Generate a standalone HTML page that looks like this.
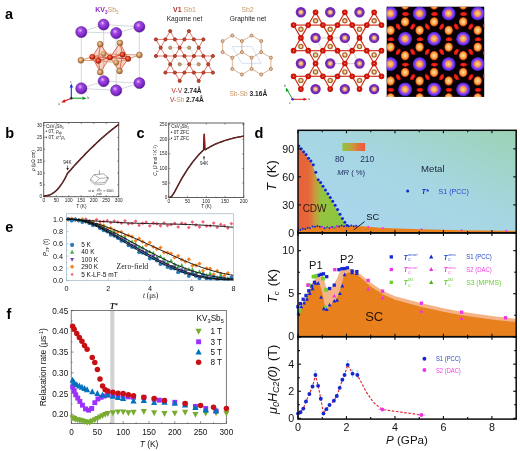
<!DOCTYPE html>
<html lang="en"><head><meta charset="utf-8"><title>Figure</title>
<style>
html,body{margin:0;padding:0;background:#fff;}
body{width:520px;height:451px;overflow:hidden;font-family:"Liberation Sans", "DejaVu Sans", sans-serif;}
svg{display:block;font-family:"Liberation Sans", "DejaVu Sans", sans-serif;filter:blur(0.4px);}
</style></head><body>
<svg width="520" height="451" viewBox="0 0 520 451">
<rect width="520" height="451" fill="#fff"/>
<defs>
<radialGradient id="gK" cx="40%" cy="36%" r="68%"><stop offset="0" stop-color="#e2b8ff"/><stop offset="0.3" stop-color="#a046e2"/><stop offset="0.75" stop-color="#7a26c4"/><stop offset="1" stop-color="#4c1290"/></radialGradient>
<radialGradient id="gSb" cx="40%" cy="38%" r="65%"><stop offset="0" stop-color="#f3d3a6"/><stop offset="0.5" stop-color="#cf9560"/><stop offset="1" stop-color="#9a5f30"/></radialGradient>
<radialGradient id="gV" cx="40%" cy="38%" r="65%"><stop offset="0" stop-color="#ff8a66"/><stop offset="0.5" stop-color="#e03a1c"/><stop offset="1" stop-color="#a01808"/></radialGradient>
<radialGradient id="sK" cx="47%" cy="46%"><stop offset="0" stop-color="#ffe090"/><stop offset="0.25" stop-color="#ffb050"/><stop offset="0.42" stop-color="#f08858"/><stop offset="0.54" stop-color="#a050e8"/><stop offset="0.72" stop-color="#7038f0"/><stop offset="0.88" stop-color="#4a20c0"/><stop offset="1" stop-color="#200860" stop-opacity="0"/></radialGradient>
<radialGradient id="sSb" cx="46%" cy="44%"><stop offset="0" stop-color="#ffe0a0"/><stop offset="0.4" stop-color="#ffb860"/><stop offset="0.62" stop-color="#f89038"/><stop offset="0.78" stop-color="#d85010"/><stop offset="1" stop-color="#500800" stop-opacity="0"/></radialGradient>
<radialGradient id="sV"><stop offset="0" stop-color="#ff3020"/><stop offset="0.6" stop-color="#e01810"/><stop offset="0.85" stop-color="#a00808"/><stop offset="1" stop-color="#400000" stop-opacity="0"/></radialGradient>
<linearGradient id="gMetal" x1="0" y1="1" x2="1" y2="0"><stop offset="0" stop-color="#abd6ef"/><stop offset="0.55" stop-color="#a6d6e2"/><stop offset="1" stop-color="#9bd3b4"/></linearGradient>
<linearGradient id="gCDW" gradientUnits="userSpaceOnUse" x1="298" y1="0" x2="346" y2="0"><stop offset="0" stop-color="#e9603a"/><stop offset="0.22" stop-color="#e4683a"/><stop offset="0.36" stop-color="#c99a3c"/><stop offset="0.48" stop-color="#93c440"/><stop offset="1" stop-color="#8cc63f"/></linearGradient>
<linearGradient id="gBar" x1="0" y1="0" x2="1" y2="0"><stop offset="0" stop-color="#8cc63f"/><stop offset="0.45" stop-color="#c99a3c"/><stop offset="0.8" stop-color="#e8653a"/><stop offset="1" stop-color="#ea5c3a"/></linearGradient>
<clipPath id="clipTop"><rect x="290.5" y="6" width="95" height="87.5"/></clipPath>
<clipPath id="clipSTM"><rect x="386.7" y="6.7" width="97.5" height="90.2"/></clipPath>
<clipPath id="clipE"><rect x="66.5" y="213.75" width="167" height="66.75"/></clipPath>
<clipPath id="clipD"><rect x="297.8" y="130.3" width="218.4" height="102.3"/></clipPath>
<clipPath id="clipTc"><rect x="297.8" y="233" width="218.4" height="103.2"/></clipPath>
<filter id="blur1"><feGaussianBlur stdDeviation="0.6"/></filter>

</defs>
<g id="panel-a">
<text x="5.00" y="19.00" font-size="14.5" fill="#000" text-anchor="start" font-weight="bold" font-style="normal" >a</text>
<text x="95.2" y="12.3" font-size="7.0"><tspan fill="#8a2bc4" font-weight="bold">KV</tspan><tspan fill="#8a2bc4" font-size="4.6" dy="1.6" font-weight="bold">3</tspan><tspan fill="#c89868" dy="-1.6">Sb</tspan><tspan fill="#c89868" font-size="4.6" dy="1.6">5</tspan></text>
<line x1="81.30" y1="32.00" x2="103.60" y2="24.60" stroke="#b4b8c0" stroke-width="0.55" />
<line x1="103.60" y1="24.60" x2="139.40" y2="26.70" stroke="#b4b8c0" stroke-width="0.55" />
<line x1="139.40" y1="26.70" x2="116.20" y2="33.10" stroke="#b4b8c0" stroke-width="0.55" />
<line x1="116.20" y1="33.10" x2="81.30" y2="32.00" stroke="#b4b8c0" stroke-width="0.55" />
<line x1="81.30" y1="88.40" x2="103.60" y2="81.20" stroke="#b4b8c0" stroke-width="0.55" />
<line x1="103.60" y1="81.20" x2="139.40" y2="83.10" stroke="#b4b8c0" stroke-width="0.55" />
<line x1="139.40" y1="83.10" x2="116.20" y2="90.40" stroke="#b4b8c0" stroke-width="0.55" />
<line x1="116.20" y1="90.40" x2="81.30" y2="88.40" stroke="#b4b8c0" stroke-width="0.55" />
<line x1="81.30" y1="32.00" x2="81.30" y2="88.40" stroke="#b4b8c0" stroke-width="0.55" />
<line x1="103.60" y1="24.60" x2="103.60" y2="81.20" stroke="#b4b8c0" stroke-width="0.55" />
<line x1="139.40" y1="26.70" x2="139.40" y2="83.10" stroke="#b4b8c0" stroke-width="0.55" />
<line x1="116.20" y1="33.10" x2="116.20" y2="90.40" stroke="#b4b8c0" stroke-width="0.55" />
<path d="M92.30,56.90 L100.20,44.20 L110.00,57.50 L98.30,60.80 Z" fill="#e8683c" stroke="none" stroke-width="1" fill-opacity="0.28"/>
<path d="M92.30,56.90 L100.20,72.20 L110.00,57.50 L98.30,60.80 Z" fill="#e05a30" stroke="none" stroke-width="1" fill-opacity="0.28"/>
<path d="M110.00,57.50 L120.00,42.90 L128.10,58.80 L122.50,54.60 Z" fill="#e8683c" stroke="none" stroke-width="1" fill-opacity="0.28"/>
<path d="M110.00,57.50 L119.60,71.00 L128.10,58.80 L122.50,54.60 Z" fill="#e05a30" stroke="none" stroke-width="1" fill-opacity="0.28"/>
<line x1="100.20" y1="44.20" x2="92.30" y2="56.90" stroke="#d8502c" stroke-width="0.8" />
<line x1="100.20" y1="44.20" x2="98.30" y2="60.80" stroke="#d8502c" stroke-width="0.8" />
<line x1="100.20" y1="44.20" x2="110.00" y2="57.50" stroke="#d8502c" stroke-width="0.8" />
<line x1="100.20" y1="72.20" x2="92.30" y2="56.90" stroke="#d8502c" stroke-width="0.8" />
<line x1="100.20" y1="72.20" x2="98.30" y2="60.80" stroke="#d8502c" stroke-width="0.8" />
<line x1="100.20" y1="72.20" x2="110.00" y2="57.50" stroke="#d8502c" stroke-width="0.8" />
<line x1="120.00" y1="42.90" x2="110.00" y2="57.50" stroke="#d8502c" stroke-width="0.8" />
<line x1="120.00" y1="42.90" x2="122.50" y2="54.60" stroke="#d8502c" stroke-width="0.8" />
<line x1="120.00" y1="42.90" x2="128.10" y2="58.80" stroke="#d8502c" stroke-width="0.8" />
<line x1="119.60" y1="71.00" x2="110.00" y2="57.50" stroke="#d8502c" stroke-width="0.8" />
<line x1="119.60" y1="71.00" x2="122.50" y2="54.60" stroke="#d8502c" stroke-width="0.8" />
<line x1="119.60" y1="71.00" x2="128.10" y2="58.80" stroke="#d8502c" stroke-width="0.8" />
<line x1="92.30" y1="56.90" x2="98.30" y2="60.80" stroke="#d03a20" stroke-width="0.9" />
<line x1="98.30" y1="60.80" x2="110.00" y2="57.50" stroke="#d03a20" stroke-width="0.9" />
<line x1="92.30" y1="56.90" x2="110.00" y2="57.50" stroke="#d03a20" stroke-width="0.9" />
<line x1="110.00" y1="57.50" x2="122.50" y2="54.60" stroke="#d03a20" stroke-width="0.9" />
<line x1="122.50" y1="54.60" x2="128.10" y2="58.80" stroke="#d03a20" stroke-width="0.9" />
<line x1="110.00" y1="57.50" x2="128.10" y2="58.80" stroke="#d03a20" stroke-width="0.9" />
<line x1="80.90" y1="60.30" x2="92.30" y2="56.90" stroke="#d07a48" stroke-width="0.8" />
<line x1="80.90" y1="60.30" x2="98.30" y2="60.80" stroke="#d07a48" stroke-width="0.8" />
<line x1="139.40" y1="55.00" x2="122.50" y2="54.60" stroke="#d07a48" stroke-width="0.8" />
<line x1="139.40" y1="55.00" x2="128.10" y2="58.80" stroke="#d07a48" stroke-width="0.8" />
<line x1="103.60" y1="53.70" x2="92.30" y2="56.90" stroke="#d07a48" stroke-width="0.7" />
<line x1="103.60" y1="53.70" x2="122.50" y2="54.60" stroke="#d07a48" stroke-width="0.7" />
<line x1="116.20" y1="62.50" x2="98.30" y2="60.80" stroke="#d07a48" stroke-width="0.7" />
<line x1="116.20" y1="62.50" x2="128.10" y2="58.80" stroke="#d07a48" stroke-width="0.7" />
<circle cx="103.60" cy="24.60" r="5.5" fill="url(#gK)" stroke="#4a1288" stroke-width="0.5" />
<circle cx="139.40" cy="26.70" r="5.5" fill="url(#gK)" stroke="#4a1288" stroke-width="0.5" />
<circle cx="103.60" cy="81.20" r="5.5" fill="url(#gK)" stroke="#4a1288" stroke-width="0.5" />
<circle cx="139.40" cy="83.10" r="5.5" fill="url(#gK)" stroke="#4a1288" stroke-width="0.5" />
<circle cx="103.60" cy="53.70" r="2.8" fill="url(#gSb)" stroke="none" stroke-width="0" />
<circle cx="100.20" cy="44.20" r="2.9" fill="url(#gSb)" stroke="#7a4a20" stroke-width="0.4" />
<circle cx="120.00" cy="42.90" r="2.9" fill="url(#gSb)" stroke="#7a4a20" stroke-width="0.4" />
<circle cx="100.20" cy="72.20" r="2.9" fill="url(#gSb)" stroke="#7a4a20" stroke-width="0.4" />
<circle cx="119.60" cy="71.00" r="2.9" fill="url(#gSb)" stroke="#7a4a20" stroke-width="0.4" />
<circle cx="116.20" cy="62.50" r="2.9" fill="url(#gSb)" stroke="none" stroke-width="0" />
<circle cx="92.30" cy="56.90" r="2.7" fill="url(#gV)" stroke="#8a1408" stroke-width="0.45" />
<circle cx="98.30" cy="60.80" r="2.7" fill="url(#gV)" stroke="#8a1408" stroke-width="0.45" />
<circle cx="110.00" cy="57.50" r="2.7" fill="url(#gV)" stroke="#8a1408" stroke-width="0.45" />
<circle cx="122.50" cy="54.60" r="2.7" fill="url(#gV)" stroke="#8a1408" stroke-width="0.45" />
<circle cx="128.10" cy="58.80" r="2.7" fill="url(#gV)" stroke="#8a1408" stroke-width="0.45" />
<circle cx="80.90" cy="60.30" r="3.0" fill="url(#gSb)" stroke="#7a4a20" stroke-width="0.4" />
<circle cx="139.40" cy="55.00" r="3.0" fill="url(#gSb)" stroke="#7a4a20" stroke-width="0.4" />
<circle cx="81.30" cy="32.00" r="5.6" fill="url(#gK)" stroke="#4a1288" stroke-width="0.5" />
<circle cx="116.20" cy="33.10" r="5.6" fill="url(#gK)" stroke="#4a1288" stroke-width="0.5" />
<circle cx="81.30" cy="88.40" r="5.6" fill="url(#gK)" stroke="#4a1288" stroke-width="0.5" />
<circle cx="116.20" cy="90.40" r="5.6" fill="url(#gK)" stroke="#4a1288" stroke-width="0.5" />
<line x1="71.30" y1="98.20" x2="71.30" y2="86.50" stroke="#1030e0" stroke-width="1.1" />
<path d="M71.30,83.60 L69.60,87.60 L73.00,87.60 Z" fill="#1030e0" stroke="none" stroke-width="1" />
<line x1="71.30" y1="98.20" x2="83.50" y2="98.20" stroke="#10a020" stroke-width="1.1" />
<path d="M86.60,98.20 L82.60,96.50 L82.60,99.90 Z" fill="#10a020" stroke="none" stroke-width="1" />
<line x1="71.30" y1="98.20" x2="64.00" y2="101.20" stroke="#e01010" stroke-width="1.1" />
<path d="M61.20,102.40 L65.60,102.40 L64.40,99.20 Z" fill="#e01010" stroke="none" stroke-width="1" />
<circle cx="71.30" cy="98.20" r="1.2" fill="#222" stroke="none" stroke-width="0" />
<text x="70.30" y="82.50" font-size="3.2" fill="#444" text-anchor="start" font-weight="normal" font-style="normal" >c</text>
<text x="87.40" y="99.30" font-size="3.2" fill="#444" text-anchor="start" font-weight="normal" font-style="normal" >b</text>
<text x="58.20" y="104.50" font-size="3.2" fill="#444" text-anchor="start" font-weight="normal" font-style="normal" >a</text>
<text x="184.5" y="12.3" font-size="7" text-anchor="middle"><tspan fill="#b82a20" font-weight="bold">V1 </tspan><tspan fill="#c89868">Sb1</tspan></text>
<text x="184.50" y="21.30" font-size="6.6" fill="#222" text-anchor="middle" font-weight="normal" font-style="normal" >Kagome net</text>
<line x1="170.20" y1="31.10" x2="165.40" y2="39.40" stroke="#d0533a" stroke-width="0.75" />
<line x1="170.20" y1="31.10" x2="174.90" y2="39.40" stroke="#d0533a" stroke-width="0.75" />
<line x1="188.90" y1="31.10" x2="184.40" y2="39.40" stroke="#d0533a" stroke-width="0.75" />
<line x1="188.90" y1="31.10" x2="193.90" y2="39.40" stroke="#d0533a" stroke-width="0.75" />
<line x1="155.90" y1="39.40" x2="165.40" y2="39.40" stroke="#d0533a" stroke-width="0.75" />
<line x1="155.90" y1="39.40" x2="160.70" y2="47.70" stroke="#d0533a" stroke-width="0.75" />
<line x1="165.40" y1="39.40" x2="174.90" y2="39.40" stroke="#d0533a" stroke-width="0.75" />
<line x1="165.40" y1="39.40" x2="160.70" y2="47.70" stroke="#d0533a" stroke-width="0.75" />
<line x1="174.90" y1="39.40" x2="184.40" y2="39.40" stroke="#d0533a" stroke-width="0.75" />
<line x1="174.90" y1="39.40" x2="179.70" y2="47.70" stroke="#d0533a" stroke-width="0.75" />
<line x1="184.40" y1="39.40" x2="193.90" y2="39.40" stroke="#d0533a" stroke-width="0.75" />
<line x1="184.40" y1="39.40" x2="179.70" y2="47.70" stroke="#d0533a" stroke-width="0.75" />
<line x1="193.90" y1="39.40" x2="203.40" y2="39.40" stroke="#d0533a" stroke-width="0.75" />
<line x1="193.90" y1="39.40" x2="198.70" y2="47.70" stroke="#d0533a" stroke-width="0.75" />
<line x1="203.40" y1="39.40" x2="198.70" y2="47.70" stroke="#d0533a" stroke-width="0.75" />
<line x1="160.70" y1="47.70" x2="155.90" y2="56.00" stroke="#d0533a" stroke-width="0.75" />
<line x1="160.70" y1="47.70" x2="165.40" y2="56.00" stroke="#d0533a" stroke-width="0.75" />
<line x1="179.70" y1="47.70" x2="174.90" y2="56.00" stroke="#d0533a" stroke-width="0.75" />
<line x1="179.70" y1="47.70" x2="184.40" y2="56.00" stroke="#d0533a" stroke-width="0.75" />
<line x1="198.70" y1="47.70" x2="193.90" y2="56.00" stroke="#d0533a" stroke-width="0.75" />
<line x1="198.70" y1="47.70" x2="203.40" y2="56.00" stroke="#d0533a" stroke-width="0.75" />
<line x1="155.90" y1="56.00" x2="165.40" y2="56.00" stroke="#d0533a" stroke-width="0.75" />
<line x1="165.40" y1="56.00" x2="174.90" y2="56.00" stroke="#d0533a" stroke-width="0.75" />
<line x1="165.40" y1="56.00" x2="170.20" y2="64.30" stroke="#d0533a" stroke-width="0.75" />
<line x1="174.90" y1="56.00" x2="184.40" y2="56.00" stroke="#d0533a" stroke-width="0.75" />
<line x1="174.90" y1="56.00" x2="170.20" y2="64.30" stroke="#d0533a" stroke-width="0.75" />
<line x1="184.40" y1="56.00" x2="193.90" y2="56.00" stroke="#d0533a" stroke-width="0.75" />
<line x1="184.40" y1="56.00" x2="189.20" y2="64.30" stroke="#d0533a" stroke-width="0.75" />
<line x1="193.90" y1="56.00" x2="203.40" y2="56.00" stroke="#d0533a" stroke-width="0.75" />
<line x1="193.90" y1="56.00" x2="189.20" y2="64.30" stroke="#d0533a" stroke-width="0.75" />
<line x1="203.40" y1="56.00" x2="212.90" y2="56.00" stroke="#d0533a" stroke-width="0.75" />
<line x1="203.40" y1="56.00" x2="208.20" y2="64.30" stroke="#d0533a" stroke-width="0.75" />
<line x1="212.90" y1="56.00" x2="208.20" y2="64.30" stroke="#d0533a" stroke-width="0.75" />
<line x1="170.20" y1="64.30" x2="165.40" y2="72.60" stroke="#d0533a" stroke-width="0.75" />
<line x1="170.20" y1="64.30" x2="174.90" y2="72.60" stroke="#d0533a" stroke-width="0.75" />
<line x1="189.20" y1="64.30" x2="184.40" y2="72.60" stroke="#d0533a" stroke-width="0.75" />
<line x1="189.20" y1="64.30" x2="193.90" y2="72.60" stroke="#d0533a" stroke-width="0.75" />
<line x1="208.20" y1="64.30" x2="203.40" y2="72.60" stroke="#d0533a" stroke-width="0.75" />
<line x1="208.20" y1="64.30" x2="212.90" y2="72.60" stroke="#d0533a" stroke-width="0.75" />
<line x1="165.40" y1="72.60" x2="174.90" y2="72.60" stroke="#d0533a" stroke-width="0.75" />
<line x1="174.90" y1="72.60" x2="184.40" y2="72.60" stroke="#d0533a" stroke-width="0.75" />
<line x1="174.90" y1="72.60" x2="179.70" y2="80.90" stroke="#d0533a" stroke-width="0.75" />
<line x1="184.40" y1="72.60" x2="193.90" y2="72.60" stroke="#d0533a" stroke-width="0.75" />
<line x1="184.40" y1="72.60" x2="179.70" y2="80.90" stroke="#d0533a" stroke-width="0.75" />
<line x1="193.90" y1="72.60" x2="203.40" y2="72.60" stroke="#d0533a" stroke-width="0.75" />
<line x1="193.90" y1="72.60" x2="198.70" y2="80.90" stroke="#d0533a" stroke-width="0.75" />
<line x1="203.40" y1="72.60" x2="212.90" y2="72.60" stroke="#d0533a" stroke-width="0.75" />
<line x1="203.40" y1="72.60" x2="198.70" y2="80.90" stroke="#d0533a" stroke-width="0.75" />
<path d="M170.20,47.70 L189.20,47.70 L198.70,64.30 L179.70,64.30 Z" fill="none" stroke="#c8c0b8" stroke-width="0.4" />
<circle cx="170.20" cy="31.10" r="1.6" fill="#c8442e" stroke="#96261a" stroke-width="0.75" />
<circle cx="188.90" cy="31.10" r="1.6" fill="#c8442e" stroke="#96261a" stroke-width="0.75" />
<circle cx="155.90" cy="39.40" r="1.6" fill="#c8442e" stroke="#96261a" stroke-width="0.75" />
<circle cx="165.40" cy="39.40" r="1.6" fill="#c8442e" stroke="#96261a" stroke-width="0.75" />
<circle cx="174.90" cy="39.40" r="1.6" fill="#c8442e" stroke="#96261a" stroke-width="0.75" />
<circle cx="184.40" cy="39.40" r="1.6" fill="#c8442e" stroke="#96261a" stroke-width="0.75" />
<circle cx="193.90" cy="39.40" r="1.6" fill="#c8442e" stroke="#96261a" stroke-width="0.75" />
<circle cx="203.40" cy="39.40" r="1.6" fill="#c8442e" stroke="#96261a" stroke-width="0.75" />
<circle cx="160.70" cy="47.70" r="1.6" fill="#c8442e" stroke="#96261a" stroke-width="0.75" />
<circle cx="179.70" cy="47.70" r="1.6" fill="#c8442e" stroke="#96261a" stroke-width="0.75" />
<circle cx="198.70" cy="47.70" r="1.6" fill="#c8442e" stroke="#96261a" stroke-width="0.75" />
<circle cx="155.90" cy="56.00" r="1.6" fill="#c8442e" stroke="#96261a" stroke-width="0.75" />
<circle cx="165.40" cy="56.00" r="1.6" fill="#c8442e" stroke="#96261a" stroke-width="0.75" />
<circle cx="174.90" cy="56.00" r="1.6" fill="#c8442e" stroke="#96261a" stroke-width="0.75" />
<circle cx="184.40" cy="56.00" r="1.6" fill="#c8442e" stroke="#96261a" stroke-width="0.75" />
<circle cx="193.90" cy="56.00" r="1.6" fill="#c8442e" stroke="#96261a" stroke-width="0.75" />
<circle cx="203.40" cy="56.00" r="1.6" fill="#c8442e" stroke="#96261a" stroke-width="0.75" />
<circle cx="212.90" cy="56.00" r="1.6" fill="#c8442e" stroke="#96261a" stroke-width="0.75" />
<circle cx="170.20" cy="64.30" r="1.6" fill="#c8442e" stroke="#96261a" stroke-width="0.75" />
<circle cx="189.20" cy="64.30" r="1.6" fill="#c8442e" stroke="#96261a" stroke-width="0.75" />
<circle cx="208.20" cy="64.30" r="1.6" fill="#c8442e" stroke="#96261a" stroke-width="0.75" />
<circle cx="165.40" cy="72.60" r="1.6" fill="#c8442e" stroke="#96261a" stroke-width="0.75" />
<circle cx="174.90" cy="72.60" r="1.6" fill="#c8442e" stroke="#96261a" stroke-width="0.75" />
<circle cx="184.40" cy="72.60" r="1.6" fill="#c8442e" stroke="#96261a" stroke-width="0.75" />
<circle cx="193.90" cy="72.60" r="1.6" fill="#c8442e" stroke="#96261a" stroke-width="0.75" />
<circle cx="203.40" cy="72.60" r="1.6" fill="#c8442e" stroke="#96261a" stroke-width="0.75" />
<circle cx="212.90" cy="72.60" r="1.6" fill="#c8442e" stroke="#96261a" stroke-width="0.75" />
<circle cx="179.70" cy="80.90" r="1.6" fill="#c8442e" stroke="#96261a" stroke-width="0.75" />
<circle cx="198.70" cy="80.90" r="1.6" fill="#c8442e" stroke="#96261a" stroke-width="0.75" />
<circle cx="170.20" cy="47.70" r="1.55" fill="#cfa878" stroke="#8a6236" stroke-width="0.75" />
<circle cx="189.20" cy="47.70" r="1.55" fill="#cfa878" stroke="#8a6236" stroke-width="0.75" />
<circle cx="179.70" cy="64.30" r="1.55" fill="#cfa878" stroke="#8a6236" stroke-width="0.75" />
<circle cx="198.70" cy="64.30" r="1.55" fill="#cfa878" stroke="#8a6236" stroke-width="0.75" />
<text x="186.6" y="93.2" font-size="6.6" text-anchor="middle"><tspan fill="#b82a20">V-V</tspan><tspan fill="#222" font-weight="bold"> 2.74Å</tspan></text>
<text x="186.8" y="101.9" font-size="6.6" text-anchor="middle"><tspan fill="#b82a20">V-</tspan><tspan fill="#c89868">Sb</tspan><tspan fill="#222" font-weight="bold"> 2.74Å</tspan></text>
<text x="247.50" y="12.30" font-size="7" fill="#c89868" text-anchor="middle" font-weight="normal" font-style="normal" >Sb2</text>
<text x="248.00" y="21.30" font-size="6.6" fill="#222" text-anchor="middle" font-weight="normal" font-style="normal" >Graphite net</text>
<path d="M232.30,46.60 L251.60,46.60 L261.20,63.30 L241.90,63.30 Z" fill="none" stroke="#b8cde4" stroke-width="0.6" />
<line x1="232.30" y1="35.50" x2="222.60" y2="41.10" stroke="#cf9a70" stroke-width="0.75" />
<line x1="232.30" y1="35.50" x2="241.90" y2="41.10" stroke="#cf9a70" stroke-width="0.75" />
<line x1="251.60" y1="35.50" x2="241.90" y2="41.10" stroke="#cf9a70" stroke-width="0.75" />
<line x1="251.60" y1="35.50" x2="261.20" y2="41.10" stroke="#cf9a70" stroke-width="0.75" />
<line x1="222.60" y1="41.10" x2="222.60" y2="52.10" stroke="#cf9a70" stroke-width="0.75" />
<line x1="241.90" y1="41.10" x2="241.90" y2="52.10" stroke="#cf9a70" stroke-width="0.75" />
<line x1="261.20" y1="41.10" x2="261.20" y2="52.10" stroke="#cf9a70" stroke-width="0.75" />
<line x1="222.60" y1="52.10" x2="232.30" y2="57.70" stroke="#cf9a70" stroke-width="0.75" />
<line x1="241.90" y1="52.10" x2="232.30" y2="57.70" stroke="#cf9a70" stroke-width="0.75" />
<line x1="241.90" y1="52.10" x2="251.60" y2="57.70" stroke="#cf9a70" stroke-width="0.75" />
<line x1="261.20" y1="52.10" x2="251.60" y2="57.70" stroke="#cf9a70" stroke-width="0.75" />
<line x1="261.20" y1="52.10" x2="270.90" y2="57.70" stroke="#cf9a70" stroke-width="0.75" />
<line x1="232.30" y1="57.70" x2="232.30" y2="68.90" stroke="#cf9a70" stroke-width="0.75" />
<line x1="251.60" y1="57.70" x2="251.60" y2="68.90" stroke="#cf9a70" stroke-width="0.75" />
<line x1="270.90" y1="57.70" x2="270.90" y2="68.90" stroke="#cf9a70" stroke-width="0.75" />
<line x1="232.30" y1="68.90" x2="241.90" y2="74.50" stroke="#cf9a70" stroke-width="0.75" />
<line x1="251.60" y1="68.90" x2="241.90" y2="74.50" stroke="#cf9a70" stroke-width="0.75" />
<line x1="251.60" y1="68.90" x2="261.20" y2="74.50" stroke="#cf9a70" stroke-width="0.75" />
<line x1="270.90" y1="68.90" x2="261.20" y2="74.50" stroke="#cf9a70" stroke-width="0.75" />
<circle cx="232.30" cy="35.50" r="1.5" fill="#e8cdb0" stroke="#ae7448" stroke-width="0.85" />
<circle cx="251.60" cy="35.50" r="1.5" fill="#e8cdb0" stroke="#ae7448" stroke-width="0.85" />
<circle cx="222.60" cy="41.10" r="1.5" fill="#e8cdb0" stroke="#ae7448" stroke-width="0.85" />
<circle cx="241.90" cy="41.10" r="1.5" fill="#e8cdb0" stroke="#ae7448" stroke-width="0.85" />
<circle cx="261.20" cy="41.10" r="1.5" fill="#e8cdb0" stroke="#ae7448" stroke-width="0.85" />
<circle cx="222.60" cy="52.10" r="1.5" fill="#e8cdb0" stroke="#ae7448" stroke-width="0.85" />
<circle cx="241.90" cy="52.10" r="1.5" fill="#e8cdb0" stroke="#ae7448" stroke-width="0.85" />
<circle cx="261.20" cy="52.10" r="1.5" fill="#e8cdb0" stroke="#ae7448" stroke-width="0.85" />
<circle cx="232.30" cy="57.70" r="1.5" fill="#e8cdb0" stroke="#ae7448" stroke-width="0.85" />
<circle cx="251.60" cy="57.70" r="1.5" fill="#e8cdb0" stroke="#ae7448" stroke-width="0.85" />
<circle cx="270.90" cy="57.70" r="1.5" fill="#e8cdb0" stroke="#ae7448" stroke-width="0.85" />
<circle cx="232.30" cy="68.90" r="1.5" fill="#e8cdb0" stroke="#ae7448" stroke-width="0.85" />
<circle cx="251.60" cy="68.90" r="1.5" fill="#e8cdb0" stroke="#ae7448" stroke-width="0.85" />
<circle cx="270.90" cy="68.90" r="1.5" fill="#e8cdb0" stroke="#ae7448" stroke-width="0.85" />
<circle cx="241.90" cy="74.50" r="1.5" fill="#e8cdb0" stroke="#ae7448" stroke-width="0.85" />
<circle cx="261.20" cy="74.50" r="1.5" fill="#e8cdb0" stroke="#ae7448" stroke-width="0.85" />
<text x="248.3" y="96.4" font-size="6.6" text-anchor="middle"><tspan fill="#c89868">Sb-Sb</tspan><tspan fill="#222" font-weight="bold"> 3.16Å</tspan></text>
<path d="M315.55,37.90 L344.85,37.90 L359.50,63.50 L330.20,63.50 Z" fill="none" stroke="#9a9a9a" stroke-width="0.45" />
<line x1="293.57" y1="25.10" x2="300.90" y2="37.90" stroke="#d02c14" stroke-width="1.15" />
<line x1="293.57" y1="25.10" x2="308.22" y2="25.10" stroke="#d02c14" stroke-width="1.15" />
<line x1="293.57" y1="50.70" x2="300.90" y2="37.90" stroke="#d02c14" stroke-width="1.15" />
<line x1="293.57" y1="50.70" x2="308.22" y2="50.70" stroke="#d02c14" stroke-width="1.15" />
<line x1="293.57" y1="76.30" x2="300.90" y2="89.10" stroke="#d02c14" stroke-width="1.15" />
<line x1="293.57" y1="76.30" x2="308.22" y2="76.30" stroke="#d02c14" stroke-width="1.15" />
<line x1="300.90" y1="37.90" x2="308.22" y2="25.10" stroke="#d02c14" stroke-width="1.15" />
<line x1="300.90" y1="37.90" x2="308.22" y2="50.70" stroke="#d02c14" stroke-width="1.15" />
<line x1="300.90" y1="89.10" x2="308.22" y2="76.30" stroke="#d02c14" stroke-width="1.15" />
<line x1="308.22" y1="25.10" x2="315.55" y2="12.30" stroke="#d02c14" stroke-width="1.15" />
<line x1="308.22" y1="25.10" x2="322.88" y2="25.10" stroke="#d02c14" stroke-width="1.15" />
<line x1="308.22" y1="50.70" x2="315.55" y2="63.50" stroke="#d02c14" stroke-width="1.15" />
<line x1="308.22" y1="50.70" x2="322.87" y2="50.70" stroke="#d02c14" stroke-width="1.15" />
<line x1="308.22" y1="76.30" x2="315.55" y2="63.50" stroke="#d02c14" stroke-width="1.15" />
<line x1="308.22" y1="76.30" x2="322.88" y2="76.30" stroke="#d02c14" stroke-width="1.15" />
<line x1="315.55" y1="12.30" x2="322.88" y2="25.10" stroke="#d02c14" stroke-width="1.15" />
<line x1="315.55" y1="63.50" x2="322.87" y2="50.70" stroke="#d02c14" stroke-width="1.15" />
<line x1="315.55" y1="63.50" x2="322.88" y2="76.30" stroke="#d02c14" stroke-width="1.15" />
<line x1="322.87" y1="50.70" x2="330.20" y2="37.90" stroke="#d02c14" stroke-width="1.15" />
<line x1="322.87" y1="50.70" x2="337.52" y2="50.70" stroke="#d02c14" stroke-width="1.15" />
<line x1="322.88" y1="25.10" x2="330.20" y2="37.90" stroke="#d02c14" stroke-width="1.15" />
<line x1="322.88" y1="25.10" x2="337.52" y2="25.10" stroke="#d02c14" stroke-width="1.15" />
<line x1="322.88" y1="76.30" x2="330.20" y2="89.10" stroke="#d02c14" stroke-width="1.15" />
<line x1="322.88" y1="76.30" x2="337.52" y2="76.30" stroke="#d02c14" stroke-width="1.15" />
<line x1="330.20" y1="37.90" x2="337.52" y2="25.10" stroke="#d02c14" stroke-width="1.15" />
<line x1="330.20" y1="37.90" x2="337.52" y2="50.70" stroke="#d02c14" stroke-width="1.15" />
<line x1="330.20" y1="89.10" x2="337.52" y2="76.30" stroke="#d02c14" stroke-width="1.15" />
<line x1="337.52" y1="25.10" x2="344.85" y2="12.30" stroke="#d02c14" stroke-width="1.15" />
<line x1="337.52" y1="25.10" x2="352.18" y2="25.10" stroke="#d02c14" stroke-width="1.15" />
<line x1="337.52" y1="50.70" x2="344.85" y2="63.50" stroke="#d02c14" stroke-width="1.15" />
<line x1="337.52" y1="50.70" x2="352.17" y2="50.70" stroke="#d02c14" stroke-width="1.15" />
<line x1="337.52" y1="76.30" x2="344.85" y2="63.50" stroke="#d02c14" stroke-width="1.15" />
<line x1="337.52" y1="76.30" x2="352.18" y2="76.30" stroke="#d02c14" stroke-width="1.15" />
<line x1="344.85" y1="12.30" x2="352.18" y2="25.10" stroke="#d02c14" stroke-width="1.15" />
<line x1="344.85" y1="63.50" x2="352.17" y2="50.70" stroke="#d02c14" stroke-width="1.15" />
<line x1="344.85" y1="63.50" x2="352.18" y2="76.30" stroke="#d02c14" stroke-width="1.15" />
<line x1="352.17" y1="50.70" x2="359.50" y2="37.90" stroke="#d02c14" stroke-width="1.15" />
<line x1="352.17" y1="50.70" x2="366.82" y2="50.70" stroke="#d02c14" stroke-width="1.15" />
<line x1="352.18" y1="25.10" x2="359.50" y2="37.90" stroke="#d02c14" stroke-width="1.15" />
<line x1="352.18" y1="25.10" x2="366.82" y2="25.10" stroke="#d02c14" stroke-width="1.15" />
<line x1="352.18" y1="76.30" x2="359.50" y2="89.10" stroke="#d02c14" stroke-width="1.15" />
<line x1="352.18" y1="76.30" x2="366.82" y2="76.30" stroke="#d02c14" stroke-width="1.15" />
<line x1="359.50" y1="37.90" x2="366.82" y2="25.10" stroke="#d02c14" stroke-width="1.15" />
<line x1="359.50" y1="37.90" x2="366.82" y2="50.70" stroke="#d02c14" stroke-width="1.15" />
<line x1="359.50" y1="89.10" x2="366.82" y2="76.30" stroke="#d02c14" stroke-width="1.15" />
<line x1="366.82" y1="25.10" x2="374.15" y2="12.30" stroke="#d02c14" stroke-width="1.15" />
<line x1="366.82" y1="25.10" x2="381.47" y2="25.10" stroke="#d02c14" stroke-width="1.15" />
<line x1="366.82" y1="50.70" x2="374.15" y2="63.50" stroke="#d02c14" stroke-width="1.15" />
<line x1="366.82" y1="50.70" x2="381.47" y2="50.70" stroke="#d02c14" stroke-width="1.15" />
<line x1="366.82" y1="76.30" x2="374.15" y2="63.50" stroke="#d02c14" stroke-width="1.15" />
<line x1="366.82" y1="76.30" x2="381.47" y2="76.30" stroke="#d02c14" stroke-width="1.15" />
<line x1="374.15" y1="12.30" x2="381.47" y2="25.10" stroke="#d02c14" stroke-width="1.15" />
<line x1="374.15" y1="63.50" x2="381.47" y2="50.70" stroke="#d02c14" stroke-width="1.15" />
<line x1="374.15" y1="63.50" x2="381.47" y2="76.30" stroke="#d02c14" stroke-width="1.15" />
<circle cx="300.90" cy="29.37" r="2.1" fill="#f4deb4" stroke="#a8682c" stroke-width="1.3" />
<circle cx="300.90" cy="46.43" r="2.1" fill="#f4deb4" stroke="#a8682c" stroke-width="1.3" />
<circle cx="300.90" cy="80.57" r="2.1" fill="#f4deb4" stroke="#a8682c" stroke-width="1.3" />
<circle cx="315.55" cy="20.83" r="2.1" fill="#f4deb4" stroke="#a8682c" stroke-width="1.3" />
<circle cx="315.55" cy="54.97" r="2.1" fill="#f4deb4" stroke="#a8682c" stroke-width="1.3" />
<circle cx="315.55" cy="72.03" r="2.1" fill="#f4deb4" stroke="#a8682c" stroke-width="1.3" />
<circle cx="330.20" cy="29.37" r="2.1" fill="#f4deb4" stroke="#a8682c" stroke-width="1.3" />
<circle cx="330.20" cy="46.43" r="2.1" fill="#f4deb4" stroke="#a8682c" stroke-width="1.3" />
<circle cx="330.20" cy="80.57" r="2.1" fill="#f4deb4" stroke="#a8682c" stroke-width="1.3" />
<circle cx="344.85" cy="20.83" r="2.1" fill="#f4deb4" stroke="#a8682c" stroke-width="1.3" />
<circle cx="344.85" cy="54.97" r="2.1" fill="#f4deb4" stroke="#a8682c" stroke-width="1.3" />
<circle cx="344.85" cy="72.03" r="2.1" fill="#f4deb4" stroke="#a8682c" stroke-width="1.3" />
<circle cx="359.50" cy="29.37" r="2.1" fill="#f4deb4" stroke="#a8682c" stroke-width="1.3" />
<circle cx="359.50" cy="46.43" r="2.1" fill="#f4deb4" stroke="#a8682c" stroke-width="1.3" />
<circle cx="359.50" cy="80.57" r="2.1" fill="#f4deb4" stroke="#a8682c" stroke-width="1.3" />
<circle cx="374.15" cy="20.83" r="2.1" fill="#f4deb4" stroke="#a8682c" stroke-width="1.3" />
<circle cx="374.15" cy="54.97" r="2.1" fill="#f4deb4" stroke="#a8682c" stroke-width="1.3" />
<circle cx="374.15" cy="72.03" r="2.1" fill="#f4deb4" stroke="#a8682c" stroke-width="1.3" />
<circle cx="293.57" cy="25.10" r="1.8" fill="#f08070" stroke="#cc1408" stroke-width="2.1" />
<circle cx="293.57" cy="50.70" r="1.8" fill="#f08070" stroke="#cc1408" stroke-width="2.1" />
<circle cx="293.57" cy="76.30" r="1.8" fill="#f08070" stroke="#cc1408" stroke-width="2.1" />
<circle cx="300.90" cy="37.90" r="1.8" fill="#f08070" stroke="#cc1408" stroke-width="2.1" />
<circle cx="300.90" cy="89.10" r="1.8" fill="#f08070" stroke="#cc1408" stroke-width="2.1" />
<circle cx="308.22" cy="25.10" r="1.8" fill="#f08070" stroke="#cc1408" stroke-width="2.1" />
<circle cx="308.22" cy="50.70" r="1.8" fill="#f08070" stroke="#cc1408" stroke-width="2.1" />
<circle cx="308.22" cy="76.30" r="1.8" fill="#f08070" stroke="#cc1408" stroke-width="2.1" />
<circle cx="315.55" cy="12.30" r="1.8" fill="#f08070" stroke="#cc1408" stroke-width="2.1" />
<circle cx="315.55" cy="63.50" r="1.8" fill="#f08070" stroke="#cc1408" stroke-width="2.1" />
<circle cx="322.87" cy="50.70" r="1.8" fill="#f08070" stroke="#cc1408" stroke-width="2.1" />
<circle cx="322.88" cy="25.10" r="1.8" fill="#f08070" stroke="#cc1408" stroke-width="2.1" />
<circle cx="322.88" cy="76.30" r="1.8" fill="#f08070" stroke="#cc1408" stroke-width="2.1" />
<circle cx="330.20" cy="37.90" r="1.8" fill="#f08070" stroke="#cc1408" stroke-width="2.1" />
<circle cx="330.20" cy="89.10" r="1.8" fill="#f08070" stroke="#cc1408" stroke-width="2.1" />
<circle cx="337.52" cy="25.10" r="1.8" fill="#f08070" stroke="#cc1408" stroke-width="2.1" />
<circle cx="337.52" cy="50.70" r="1.8" fill="#f08070" stroke="#cc1408" stroke-width="2.1" />
<circle cx="337.52" cy="76.30" r="1.8" fill="#f08070" stroke="#cc1408" stroke-width="2.1" />
<circle cx="344.85" cy="12.30" r="1.8" fill="#f08070" stroke="#cc1408" stroke-width="2.1" />
<circle cx="344.85" cy="63.50" r="1.8" fill="#f08070" stroke="#cc1408" stroke-width="2.1" />
<circle cx="352.17" cy="50.70" r="1.8" fill="#f08070" stroke="#cc1408" stroke-width="2.1" />
<circle cx="352.18" cy="25.10" r="1.8" fill="#f08070" stroke="#cc1408" stroke-width="2.1" />
<circle cx="352.18" cy="76.30" r="1.8" fill="#f08070" stroke="#cc1408" stroke-width="2.1" />
<circle cx="359.50" cy="37.90" r="1.8" fill="#f08070" stroke="#cc1408" stroke-width="2.1" />
<circle cx="359.50" cy="89.10" r="1.8" fill="#f08070" stroke="#cc1408" stroke-width="2.1" />
<circle cx="366.82" cy="25.10" r="1.8" fill="#f08070" stroke="#cc1408" stroke-width="2.1" />
<circle cx="366.82" cy="50.70" r="1.8" fill="#f08070" stroke="#cc1408" stroke-width="2.1" />
<circle cx="366.82" cy="76.30" r="1.8" fill="#f08070" stroke="#cc1408" stroke-width="2.1" />
<circle cx="374.15" cy="12.30" r="1.8" fill="#f08070" stroke="#cc1408" stroke-width="2.1" />
<circle cx="374.15" cy="63.50" r="1.8" fill="#f08070" stroke="#cc1408" stroke-width="2.1" />
<circle cx="381.47" cy="25.10" r="1.8" fill="#f08070" stroke="#cc1408" stroke-width="2.1" />
<circle cx="381.47" cy="50.70" r="1.8" fill="#f08070" stroke="#cc1408" stroke-width="2.1" />
<circle cx="381.47" cy="76.30" r="1.8" fill="#f08070" stroke="#cc1408" stroke-width="2.1" />
<circle cx="300.90" cy="12.30" r="5.2" fill="#7226ba" stroke="none" stroke-width="0" />
<circle cx="300.90" cy="12.30" r="2.9" fill="#b06a8c" stroke="none" stroke-width="0" />
<circle cx="300.90" cy="12.30" r="2.2" fill="#e0a070" stroke="none" stroke-width="0" />
<circle cx="300.90" cy="12.30" r="1.3" fill="#ffd8a0" stroke="none" stroke-width="0" />
<circle cx="330.20" cy="12.30" r="5.2" fill="#7226ba" stroke="none" stroke-width="0" />
<circle cx="330.20" cy="12.30" r="2.9" fill="#b06a8c" stroke="none" stroke-width="0" />
<circle cx="330.20" cy="12.30" r="2.2" fill="#e0a070" stroke="none" stroke-width="0" />
<circle cx="330.20" cy="12.30" r="1.3" fill="#ffd8a0" stroke="none" stroke-width="0" />
<circle cx="359.50" cy="12.30" r="5.2" fill="#7226ba" stroke="none" stroke-width="0" />
<circle cx="359.50" cy="12.30" r="2.9" fill="#b06a8c" stroke="none" stroke-width="0" />
<circle cx="359.50" cy="12.30" r="2.2" fill="#e0a070" stroke="none" stroke-width="0" />
<circle cx="359.50" cy="12.30" r="1.3" fill="#ffd8a0" stroke="none" stroke-width="0" />
<circle cx="315.55" cy="37.90" r="5.2" fill="#7226ba" stroke="none" stroke-width="0" />
<circle cx="315.55" cy="37.90" r="2.9" fill="#b06a8c" stroke="none" stroke-width="0" />
<circle cx="315.55" cy="37.90" r="2.2" fill="#e0a070" stroke="none" stroke-width="0" />
<circle cx="315.55" cy="37.90" r="1.3" fill="#ffd8a0" stroke="none" stroke-width="0" />
<circle cx="344.85" cy="37.90" r="5.2" fill="#7226ba" stroke="none" stroke-width="0" />
<circle cx="344.85" cy="37.90" r="2.9" fill="#b06a8c" stroke="none" stroke-width="0" />
<circle cx="344.85" cy="37.90" r="2.2" fill="#e0a070" stroke="none" stroke-width="0" />
<circle cx="344.85" cy="37.90" r="1.3" fill="#ffd8a0" stroke="none" stroke-width="0" />
<circle cx="374.15" cy="37.90" r="5.2" fill="#7226ba" stroke="none" stroke-width="0" />
<circle cx="374.15" cy="37.90" r="2.9" fill="#b06a8c" stroke="none" stroke-width="0" />
<circle cx="374.15" cy="37.90" r="2.2" fill="#e0a070" stroke="none" stroke-width="0" />
<circle cx="374.15" cy="37.90" r="1.3" fill="#ffd8a0" stroke="none" stroke-width="0" />
<circle cx="300.90" cy="63.50" r="5.2" fill="#7226ba" stroke="none" stroke-width="0" />
<circle cx="300.90" cy="63.50" r="2.9" fill="#b06a8c" stroke="none" stroke-width="0" />
<circle cx="300.90" cy="63.50" r="2.2" fill="#e0a070" stroke="none" stroke-width="0" />
<circle cx="300.90" cy="63.50" r="1.3" fill="#ffd8a0" stroke="none" stroke-width="0" />
<circle cx="330.20" cy="63.50" r="5.2" fill="#7226ba" stroke="none" stroke-width="0" />
<circle cx="330.20" cy="63.50" r="2.9" fill="#b06a8c" stroke="none" stroke-width="0" />
<circle cx="330.20" cy="63.50" r="2.2" fill="#e0a070" stroke="none" stroke-width="0" />
<circle cx="330.20" cy="63.50" r="1.3" fill="#ffd8a0" stroke="none" stroke-width="0" />
<circle cx="359.50" cy="63.50" r="5.2" fill="#7226ba" stroke="none" stroke-width="0" />
<circle cx="359.50" cy="63.50" r="2.9" fill="#b06a8c" stroke="none" stroke-width="0" />
<circle cx="359.50" cy="63.50" r="2.2" fill="#e0a070" stroke="none" stroke-width="0" />
<circle cx="359.50" cy="63.50" r="1.3" fill="#ffd8a0" stroke="none" stroke-width="0" />
<circle cx="315.55" cy="89.10" r="5.2" fill="#7226ba" stroke="none" stroke-width="0" />
<circle cx="315.55" cy="89.10" r="2.9" fill="#b06a8c" stroke="none" stroke-width="0" />
<circle cx="315.55" cy="89.10" r="2.2" fill="#e0a070" stroke="none" stroke-width="0" />
<circle cx="315.55" cy="89.10" r="1.3" fill="#ffd8a0" stroke="none" stroke-width="0" />
<circle cx="344.85" cy="89.10" r="5.2" fill="#7226ba" stroke="none" stroke-width="0" />
<circle cx="344.85" cy="89.10" r="2.9" fill="#b06a8c" stroke="none" stroke-width="0" />
<circle cx="344.85" cy="89.10" r="2.2" fill="#e0a070" stroke="none" stroke-width="0" />
<circle cx="344.85" cy="89.10" r="1.3" fill="#ffd8a0" stroke="none" stroke-width="0" />
<circle cx="374.15" cy="89.10" r="5.2" fill="#7226ba" stroke="none" stroke-width="0" />
<circle cx="374.15" cy="89.10" r="2.9" fill="#b06a8c" stroke="none" stroke-width="0" />
<circle cx="374.15" cy="89.10" r="2.2" fill="#e0a070" stroke="none" stroke-width="0" />
<circle cx="374.15" cy="89.10" r="1.3" fill="#ffd8a0" stroke="none" stroke-width="0" />
<line x1="292.60" y1="99.30" x2="304.50" y2="99.30" stroke="#e01010" stroke-width="1.0" />
<path d="M307.30,99.30 L303.50,97.80 L303.50,100.80 Z" fill="#e01010" stroke="none" stroke-width="1" />
<line x1="292.60" y1="99.30" x2="287.40" y2="90.30" stroke="#10a020" stroke-width="1.0" />
<path d="M286.00,87.80 L285.90,91.90 L288.90,90.20 Z" fill="#10a020" stroke="none" stroke-width="1" />
<circle cx="292.60" cy="99.30" r="1.2" fill="#2030d0" stroke="none" stroke-width="0" />
<text x="308.20" y="100.40" font-size="3.2" fill="#444" text-anchor="start" font-weight="normal" font-style="normal" >a</text>
<text x="284.20" y="87.00" font-size="3.2" fill="#444" text-anchor="start" font-weight="normal" font-style="normal" >b</text>
<text x="289.20" y="103.60" font-size="3.2" fill="#444" text-anchor="start" font-weight="normal" font-style="normal" >c</text>
<rect x="386.7" y="6.7" width="97.5" height="90.2" fill="#060004"/>
<g clip-path="url(#clipSTM)"><g filter="url(#blur1)">
<ellipse cx="361.85" cy="-11.30" rx="3.9" ry="2.3" fill="url(#sV)" transform="rotate(0 361.85 -11.30)"/>
<ellipse cx="354.59" cy="1.28" rx="3.9" ry="2.3" fill="url(#sV)" transform="rotate(60 354.59 1.28)"/>
<ellipse cx="340.06" cy="1.28" rx="3.9" ry="2.3" fill="url(#sV)" transform="rotate(120 340.06 1.28)"/>
<ellipse cx="390.90" cy="-11.30" rx="3.9" ry="2.3" fill="url(#sV)" transform="rotate(0 390.90 -11.30)"/>
<ellipse cx="383.64" cy="1.28" rx="3.9" ry="2.3" fill="url(#sV)" transform="rotate(60 383.64 1.28)"/>
<ellipse cx="369.11" cy="1.28" rx="3.9" ry="2.3" fill="url(#sV)" transform="rotate(120 369.11 1.28)"/>
<ellipse cx="419.95" cy="-11.30" rx="3.9" ry="2.3" fill="url(#sV)" transform="rotate(0 419.95 -11.30)"/>
<ellipse cx="412.69" cy="1.28" rx="3.9" ry="2.3" fill="url(#sV)" transform="rotate(60 412.69 1.28)"/>
<ellipse cx="398.16" cy="1.28" rx="3.9" ry="2.3" fill="url(#sV)" transform="rotate(120 398.16 1.28)"/>
<ellipse cx="449.00" cy="-11.30" rx="3.9" ry="2.3" fill="url(#sV)" transform="rotate(0 449.00 -11.30)"/>
<ellipse cx="441.74" cy="1.28" rx="3.9" ry="2.3" fill="url(#sV)" transform="rotate(60 441.74 1.28)"/>
<ellipse cx="427.21" cy="1.28" rx="3.9" ry="2.3" fill="url(#sV)" transform="rotate(120 427.21 1.28)"/>
<ellipse cx="478.05" cy="-11.30" rx="3.9" ry="2.3" fill="url(#sV)" transform="rotate(0 478.05 -11.30)"/>
<ellipse cx="470.79" cy="1.28" rx="3.9" ry="2.3" fill="url(#sV)" transform="rotate(60 470.79 1.28)"/>
<ellipse cx="456.26" cy="1.28" rx="3.9" ry="2.3" fill="url(#sV)" transform="rotate(120 456.26 1.28)"/>
<ellipse cx="507.10" cy="-11.30" rx="3.9" ry="2.3" fill="url(#sV)" transform="rotate(0 507.10 -11.30)"/>
<ellipse cx="499.84" cy="1.28" rx="3.9" ry="2.3" fill="url(#sV)" transform="rotate(60 499.84 1.28)"/>
<ellipse cx="485.31" cy="1.28" rx="3.9" ry="2.3" fill="url(#sV)" transform="rotate(120 485.31 1.28)"/>
<ellipse cx="536.15" cy="-11.30" rx="3.9" ry="2.3" fill="url(#sV)" transform="rotate(0 536.15 -11.30)"/>
<ellipse cx="528.89" cy="1.28" rx="3.9" ry="2.3" fill="url(#sV)" transform="rotate(60 528.89 1.28)"/>
<ellipse cx="514.36" cy="1.28" rx="3.9" ry="2.3" fill="url(#sV)" transform="rotate(120 514.36 1.28)"/>
<ellipse cx="347.32" cy="14.00" rx="3.9" ry="2.3" fill="url(#sV)" transform="rotate(0 347.32 14.00)"/>
<ellipse cx="340.06" cy="26.58" rx="3.9" ry="2.3" fill="url(#sV)" transform="rotate(60 340.06 26.58)"/>
<ellipse cx="325.54" cy="26.58" rx="3.9" ry="2.3" fill="url(#sV)" transform="rotate(120 325.54 26.58)"/>
<ellipse cx="376.37" cy="14.00" rx="3.9" ry="2.3" fill="url(#sV)" transform="rotate(0 376.37 14.00)"/>
<ellipse cx="369.11" cy="26.58" rx="3.9" ry="2.3" fill="url(#sV)" transform="rotate(60 369.11 26.58)"/>
<ellipse cx="354.59" cy="26.58" rx="3.9" ry="2.3" fill="url(#sV)" transform="rotate(120 354.59 26.58)"/>
<ellipse cx="405.42" cy="14.00" rx="3.9" ry="2.3" fill="url(#sV)" transform="rotate(0 405.42 14.00)"/>
<ellipse cx="398.16" cy="26.58" rx="3.9" ry="2.3" fill="url(#sV)" transform="rotate(60 398.16 26.58)"/>
<ellipse cx="383.64" cy="26.58" rx="3.9" ry="2.3" fill="url(#sV)" transform="rotate(120 383.64 26.58)"/>
<ellipse cx="434.47" cy="14.00" rx="3.9" ry="2.3" fill="url(#sV)" transform="rotate(0 434.47 14.00)"/>
<ellipse cx="427.21" cy="26.58" rx="3.9" ry="2.3" fill="url(#sV)" transform="rotate(60 427.21 26.58)"/>
<ellipse cx="412.69" cy="26.58" rx="3.9" ry="2.3" fill="url(#sV)" transform="rotate(120 412.69 26.58)"/>
<ellipse cx="463.52" cy="14.00" rx="3.9" ry="2.3" fill="url(#sV)" transform="rotate(0 463.52 14.00)"/>
<ellipse cx="456.26" cy="26.58" rx="3.9" ry="2.3" fill="url(#sV)" transform="rotate(60 456.26 26.58)"/>
<ellipse cx="441.74" cy="26.58" rx="3.9" ry="2.3" fill="url(#sV)" transform="rotate(120 441.74 26.58)"/>
<ellipse cx="492.57" cy="14.00" rx="3.9" ry="2.3" fill="url(#sV)" transform="rotate(0 492.57 14.00)"/>
<ellipse cx="485.31" cy="26.58" rx="3.9" ry="2.3" fill="url(#sV)" transform="rotate(60 485.31 26.58)"/>
<ellipse cx="470.79" cy="26.58" rx="3.9" ry="2.3" fill="url(#sV)" transform="rotate(120 470.79 26.58)"/>
<ellipse cx="521.62" cy="14.00" rx="3.9" ry="2.3" fill="url(#sV)" transform="rotate(0 521.62 14.00)"/>
<ellipse cx="514.36" cy="26.58" rx="3.9" ry="2.3" fill="url(#sV)" transform="rotate(60 514.36 26.58)"/>
<ellipse cx="499.84" cy="26.58" rx="3.9" ry="2.3" fill="url(#sV)" transform="rotate(120 499.84 26.58)"/>
<ellipse cx="361.85" cy="39.30" rx="3.9" ry="2.3" fill="url(#sV)" transform="rotate(0 361.85 39.30)"/>
<ellipse cx="354.59" cy="51.88" rx="3.9" ry="2.3" fill="url(#sV)" transform="rotate(60 354.59 51.88)"/>
<ellipse cx="340.06" cy="51.88" rx="3.9" ry="2.3" fill="url(#sV)" transform="rotate(120 340.06 51.88)"/>
<ellipse cx="390.90" cy="39.30" rx="3.9" ry="2.3" fill="url(#sV)" transform="rotate(0 390.90 39.30)"/>
<ellipse cx="383.64" cy="51.88" rx="3.9" ry="2.3" fill="url(#sV)" transform="rotate(60 383.64 51.88)"/>
<ellipse cx="369.11" cy="51.88" rx="3.9" ry="2.3" fill="url(#sV)" transform="rotate(120 369.11 51.88)"/>
<ellipse cx="419.95" cy="39.30" rx="3.9" ry="2.3" fill="url(#sV)" transform="rotate(0 419.95 39.30)"/>
<ellipse cx="412.69" cy="51.88" rx="3.9" ry="2.3" fill="url(#sV)" transform="rotate(60 412.69 51.88)"/>
<ellipse cx="398.16" cy="51.88" rx="3.9" ry="2.3" fill="url(#sV)" transform="rotate(120 398.16 51.88)"/>
<ellipse cx="449.00" cy="39.30" rx="3.9" ry="2.3" fill="url(#sV)" transform="rotate(0 449.00 39.30)"/>
<ellipse cx="441.74" cy="51.88" rx="3.9" ry="2.3" fill="url(#sV)" transform="rotate(60 441.74 51.88)"/>
<ellipse cx="427.21" cy="51.88" rx="3.9" ry="2.3" fill="url(#sV)" transform="rotate(120 427.21 51.88)"/>
<ellipse cx="478.05" cy="39.30" rx="3.9" ry="2.3" fill="url(#sV)" transform="rotate(0 478.05 39.30)"/>
<ellipse cx="470.79" cy="51.88" rx="3.9" ry="2.3" fill="url(#sV)" transform="rotate(60 470.79 51.88)"/>
<ellipse cx="456.26" cy="51.88" rx="3.9" ry="2.3" fill="url(#sV)" transform="rotate(120 456.26 51.88)"/>
<ellipse cx="507.10" cy="39.30" rx="3.9" ry="2.3" fill="url(#sV)" transform="rotate(0 507.10 39.30)"/>
<ellipse cx="499.84" cy="51.88" rx="3.9" ry="2.3" fill="url(#sV)" transform="rotate(60 499.84 51.88)"/>
<ellipse cx="485.31" cy="51.88" rx="3.9" ry="2.3" fill="url(#sV)" transform="rotate(120 485.31 51.88)"/>
<ellipse cx="536.15" cy="39.30" rx="3.9" ry="2.3" fill="url(#sV)" transform="rotate(0 536.15 39.30)"/>
<ellipse cx="528.89" cy="51.88" rx="3.9" ry="2.3" fill="url(#sV)" transform="rotate(60 528.89 51.88)"/>
<ellipse cx="514.36" cy="51.88" rx="3.9" ry="2.3" fill="url(#sV)" transform="rotate(120 514.36 51.88)"/>
<ellipse cx="347.32" cy="64.60" rx="3.9" ry="2.3" fill="url(#sV)" transform="rotate(0 347.32 64.60)"/>
<ellipse cx="340.06" cy="77.18" rx="3.9" ry="2.3" fill="url(#sV)" transform="rotate(60 340.06 77.18)"/>
<ellipse cx="325.54" cy="77.18" rx="3.9" ry="2.3" fill="url(#sV)" transform="rotate(120 325.54 77.18)"/>
<ellipse cx="376.37" cy="64.60" rx="3.9" ry="2.3" fill="url(#sV)" transform="rotate(0 376.37 64.60)"/>
<ellipse cx="369.11" cy="77.18" rx="3.9" ry="2.3" fill="url(#sV)" transform="rotate(60 369.11 77.18)"/>
<ellipse cx="354.59" cy="77.18" rx="3.9" ry="2.3" fill="url(#sV)" transform="rotate(120 354.59 77.18)"/>
<ellipse cx="405.42" cy="64.60" rx="3.9" ry="2.3" fill="url(#sV)" transform="rotate(0 405.42 64.60)"/>
<ellipse cx="398.16" cy="77.18" rx="3.9" ry="2.3" fill="url(#sV)" transform="rotate(60 398.16 77.18)"/>
<ellipse cx="383.64" cy="77.18" rx="3.9" ry="2.3" fill="url(#sV)" transform="rotate(120 383.64 77.18)"/>
<ellipse cx="434.47" cy="64.60" rx="3.9" ry="2.3" fill="url(#sV)" transform="rotate(0 434.47 64.60)"/>
<ellipse cx="427.21" cy="77.18" rx="3.9" ry="2.3" fill="url(#sV)" transform="rotate(60 427.21 77.18)"/>
<ellipse cx="412.69" cy="77.18" rx="3.9" ry="2.3" fill="url(#sV)" transform="rotate(120 412.69 77.18)"/>
<ellipse cx="463.52" cy="64.60" rx="3.9" ry="2.3" fill="url(#sV)" transform="rotate(0 463.52 64.60)"/>
<ellipse cx="456.26" cy="77.18" rx="3.9" ry="2.3" fill="url(#sV)" transform="rotate(60 456.26 77.18)"/>
<ellipse cx="441.74" cy="77.18" rx="3.9" ry="2.3" fill="url(#sV)" transform="rotate(120 441.74 77.18)"/>
<ellipse cx="492.57" cy="64.60" rx="3.9" ry="2.3" fill="url(#sV)" transform="rotate(0 492.57 64.60)"/>
<ellipse cx="485.31" cy="77.18" rx="3.9" ry="2.3" fill="url(#sV)" transform="rotate(60 485.31 77.18)"/>
<ellipse cx="470.79" cy="77.18" rx="3.9" ry="2.3" fill="url(#sV)" transform="rotate(120 470.79 77.18)"/>
<ellipse cx="521.62" cy="64.60" rx="3.9" ry="2.3" fill="url(#sV)" transform="rotate(0 521.62 64.60)"/>
<ellipse cx="514.36" cy="77.18" rx="3.9" ry="2.3" fill="url(#sV)" transform="rotate(60 514.36 77.18)"/>
<ellipse cx="499.84" cy="77.18" rx="3.9" ry="2.3" fill="url(#sV)" transform="rotate(120 499.84 77.18)"/>
<ellipse cx="361.85" cy="89.90" rx="3.9" ry="2.3" fill="url(#sV)" transform="rotate(0 361.85 89.90)"/>
<ellipse cx="354.59" cy="102.48" rx="3.9" ry="2.3" fill="url(#sV)" transform="rotate(60 354.59 102.48)"/>
<ellipse cx="340.06" cy="102.48" rx="3.9" ry="2.3" fill="url(#sV)" transform="rotate(120 340.06 102.48)"/>
<ellipse cx="390.90" cy="89.90" rx="3.9" ry="2.3" fill="url(#sV)" transform="rotate(0 390.90 89.90)"/>
<ellipse cx="383.64" cy="102.48" rx="3.9" ry="2.3" fill="url(#sV)" transform="rotate(60 383.64 102.48)"/>
<ellipse cx="369.11" cy="102.48" rx="3.9" ry="2.3" fill="url(#sV)" transform="rotate(120 369.11 102.48)"/>
<ellipse cx="419.95" cy="89.90" rx="3.9" ry="2.3" fill="url(#sV)" transform="rotate(0 419.95 89.90)"/>
<ellipse cx="412.69" cy="102.48" rx="3.9" ry="2.3" fill="url(#sV)" transform="rotate(60 412.69 102.48)"/>
<ellipse cx="398.16" cy="102.48" rx="3.9" ry="2.3" fill="url(#sV)" transform="rotate(120 398.16 102.48)"/>
<ellipse cx="449.00" cy="89.90" rx="3.9" ry="2.3" fill="url(#sV)" transform="rotate(0 449.00 89.90)"/>
<ellipse cx="441.74" cy="102.48" rx="3.9" ry="2.3" fill="url(#sV)" transform="rotate(60 441.74 102.48)"/>
<ellipse cx="427.21" cy="102.48" rx="3.9" ry="2.3" fill="url(#sV)" transform="rotate(120 427.21 102.48)"/>
<ellipse cx="478.05" cy="89.90" rx="3.9" ry="2.3" fill="url(#sV)" transform="rotate(0 478.05 89.90)"/>
<ellipse cx="470.79" cy="102.48" rx="3.9" ry="2.3" fill="url(#sV)" transform="rotate(60 470.79 102.48)"/>
<ellipse cx="456.26" cy="102.48" rx="3.9" ry="2.3" fill="url(#sV)" transform="rotate(120 456.26 102.48)"/>
<ellipse cx="507.10" cy="89.90" rx="3.9" ry="2.3" fill="url(#sV)" transform="rotate(0 507.10 89.90)"/>
<ellipse cx="499.84" cy="102.48" rx="3.9" ry="2.3" fill="url(#sV)" transform="rotate(60 499.84 102.48)"/>
<ellipse cx="485.31" cy="102.48" rx="3.9" ry="2.3" fill="url(#sV)" transform="rotate(120 485.31 102.48)"/>
<ellipse cx="536.15" cy="89.90" rx="3.9" ry="2.3" fill="url(#sV)" transform="rotate(0 536.15 89.90)"/>
<ellipse cx="528.89" cy="102.48" rx="3.9" ry="2.3" fill="url(#sV)" transform="rotate(60 528.89 102.48)"/>
<ellipse cx="514.36" cy="102.48" rx="3.9" ry="2.3" fill="url(#sV)" transform="rotate(120 514.36 102.48)"/>
<ellipse cx="347.32" cy="115.20" rx="3.9" ry="2.3" fill="url(#sV)" transform="rotate(0 347.32 115.20)"/>
<ellipse cx="340.06" cy="127.78" rx="3.9" ry="2.3" fill="url(#sV)" transform="rotate(60 340.06 127.78)"/>
<ellipse cx="325.54" cy="127.78" rx="3.9" ry="2.3" fill="url(#sV)" transform="rotate(120 325.54 127.78)"/>
<ellipse cx="376.37" cy="115.20" rx="3.9" ry="2.3" fill="url(#sV)" transform="rotate(0 376.37 115.20)"/>
<ellipse cx="369.11" cy="127.78" rx="3.9" ry="2.3" fill="url(#sV)" transform="rotate(60 369.11 127.78)"/>
<ellipse cx="354.59" cy="127.78" rx="3.9" ry="2.3" fill="url(#sV)" transform="rotate(120 354.59 127.78)"/>
<ellipse cx="405.42" cy="115.20" rx="3.9" ry="2.3" fill="url(#sV)" transform="rotate(0 405.42 115.20)"/>
<ellipse cx="398.16" cy="127.78" rx="3.9" ry="2.3" fill="url(#sV)" transform="rotate(60 398.16 127.78)"/>
<ellipse cx="383.64" cy="127.78" rx="3.9" ry="2.3" fill="url(#sV)" transform="rotate(120 383.64 127.78)"/>
<ellipse cx="434.47" cy="115.20" rx="3.9" ry="2.3" fill="url(#sV)" transform="rotate(0 434.47 115.20)"/>
<ellipse cx="427.21" cy="127.78" rx="3.9" ry="2.3" fill="url(#sV)" transform="rotate(60 427.21 127.78)"/>
<ellipse cx="412.69" cy="127.78" rx="3.9" ry="2.3" fill="url(#sV)" transform="rotate(120 412.69 127.78)"/>
<ellipse cx="463.52" cy="115.20" rx="3.9" ry="2.3" fill="url(#sV)" transform="rotate(0 463.52 115.20)"/>
<ellipse cx="456.26" cy="127.78" rx="3.9" ry="2.3" fill="url(#sV)" transform="rotate(60 456.26 127.78)"/>
<ellipse cx="441.74" cy="127.78" rx="3.9" ry="2.3" fill="url(#sV)" transform="rotate(120 441.74 127.78)"/>
<ellipse cx="492.57" cy="115.20" rx="3.9" ry="2.3" fill="url(#sV)" transform="rotate(0 492.57 115.20)"/>
<ellipse cx="485.31" cy="127.78" rx="3.9" ry="2.3" fill="url(#sV)" transform="rotate(60 485.31 127.78)"/>
<ellipse cx="470.79" cy="127.78" rx="3.9" ry="2.3" fill="url(#sV)" transform="rotate(120 470.79 127.78)"/>
<ellipse cx="521.62" cy="115.20" rx="3.9" ry="2.3" fill="url(#sV)" transform="rotate(0 521.62 115.20)"/>
<ellipse cx="514.36" cy="127.78" rx="3.9" ry="2.3" fill="url(#sV)" transform="rotate(60 514.36 127.78)"/>
<ellipse cx="499.84" cy="127.78" rx="3.9" ry="2.3" fill="url(#sV)" transform="rotate(120 499.84 127.78)"/>
<ellipse cx="361.85" cy="-2.91" rx="4.9" ry="5.4" fill="url(#sSb)"/>
<ellipse cx="361.85" cy="-19.69" rx="4.9" ry="5.4" fill="url(#sSb)"/>
<ellipse cx="390.90" cy="-2.91" rx="4.9" ry="5.4" fill="url(#sSb)"/>
<ellipse cx="390.90" cy="-19.69" rx="4.9" ry="5.4" fill="url(#sSb)"/>
<ellipse cx="419.95" cy="-2.91" rx="4.9" ry="5.4" fill="url(#sSb)"/>
<ellipse cx="419.95" cy="-19.69" rx="4.9" ry="5.4" fill="url(#sSb)"/>
<ellipse cx="449.00" cy="-2.91" rx="4.9" ry="5.4" fill="url(#sSb)"/>
<ellipse cx="449.00" cy="-19.69" rx="4.9" ry="5.4" fill="url(#sSb)"/>
<ellipse cx="478.05" cy="-2.91" rx="4.9" ry="5.4" fill="url(#sSb)"/>
<ellipse cx="478.05" cy="-19.69" rx="4.9" ry="5.4" fill="url(#sSb)"/>
<ellipse cx="507.10" cy="-2.91" rx="4.9" ry="5.4" fill="url(#sSb)"/>
<ellipse cx="507.10" cy="-19.69" rx="4.9" ry="5.4" fill="url(#sSb)"/>
<ellipse cx="536.15" cy="-2.91" rx="4.9" ry="5.4" fill="url(#sSb)"/>
<ellipse cx="536.15" cy="-19.69" rx="4.9" ry="5.4" fill="url(#sSb)"/>
<ellipse cx="347.32" cy="22.39" rx="4.9" ry="5.4" fill="url(#sSb)"/>
<ellipse cx="347.32" cy="5.61" rx="4.9" ry="5.4" fill="url(#sSb)"/>
<ellipse cx="376.37" cy="22.39" rx="4.9" ry="5.4" fill="url(#sSb)"/>
<ellipse cx="376.37" cy="5.61" rx="4.9" ry="5.4" fill="url(#sSb)"/>
<ellipse cx="405.42" cy="22.39" rx="4.9" ry="5.4" fill="url(#sSb)"/>
<ellipse cx="405.42" cy="5.61" rx="4.9" ry="5.4" fill="url(#sSb)"/>
<ellipse cx="434.47" cy="22.39" rx="4.9" ry="5.4" fill="url(#sSb)"/>
<ellipse cx="434.47" cy="5.61" rx="4.9" ry="5.4" fill="url(#sSb)"/>
<ellipse cx="463.52" cy="22.39" rx="4.9" ry="5.4" fill="url(#sSb)"/>
<ellipse cx="463.52" cy="5.61" rx="4.9" ry="5.4" fill="url(#sSb)"/>
<ellipse cx="492.57" cy="22.39" rx="4.9" ry="5.4" fill="url(#sSb)"/>
<ellipse cx="492.57" cy="5.61" rx="4.9" ry="5.4" fill="url(#sSb)"/>
<ellipse cx="521.62" cy="22.39" rx="4.9" ry="5.4" fill="url(#sSb)"/>
<ellipse cx="521.62" cy="5.61" rx="4.9" ry="5.4" fill="url(#sSb)"/>
<ellipse cx="361.85" cy="47.69" rx="4.9" ry="5.4" fill="url(#sSb)"/>
<ellipse cx="361.85" cy="30.91" rx="4.9" ry="5.4" fill="url(#sSb)"/>
<ellipse cx="390.90" cy="47.69" rx="4.9" ry="5.4" fill="url(#sSb)"/>
<ellipse cx="390.90" cy="30.91" rx="4.9" ry="5.4" fill="url(#sSb)"/>
<ellipse cx="419.95" cy="47.69" rx="4.9" ry="5.4" fill="url(#sSb)"/>
<ellipse cx="419.95" cy="30.91" rx="4.9" ry="5.4" fill="url(#sSb)"/>
<ellipse cx="449.00" cy="47.69" rx="4.9" ry="5.4" fill="url(#sSb)"/>
<ellipse cx="449.00" cy="30.91" rx="4.9" ry="5.4" fill="url(#sSb)"/>
<ellipse cx="478.05" cy="47.69" rx="4.9" ry="5.4" fill="url(#sSb)"/>
<ellipse cx="478.05" cy="30.91" rx="4.9" ry="5.4" fill="url(#sSb)"/>
<ellipse cx="507.10" cy="47.69" rx="4.9" ry="5.4" fill="url(#sSb)"/>
<ellipse cx="507.10" cy="30.91" rx="4.9" ry="5.4" fill="url(#sSb)"/>
<ellipse cx="536.15" cy="47.69" rx="4.9" ry="5.4" fill="url(#sSb)"/>
<ellipse cx="536.15" cy="30.91" rx="4.9" ry="5.4" fill="url(#sSb)"/>
<ellipse cx="347.32" cy="72.99" rx="4.9" ry="5.4" fill="url(#sSb)"/>
<ellipse cx="347.32" cy="56.21" rx="4.9" ry="5.4" fill="url(#sSb)"/>
<ellipse cx="376.37" cy="72.99" rx="4.9" ry="5.4" fill="url(#sSb)"/>
<ellipse cx="376.37" cy="56.21" rx="4.9" ry="5.4" fill="url(#sSb)"/>
<ellipse cx="405.42" cy="72.99" rx="4.9" ry="5.4" fill="url(#sSb)"/>
<ellipse cx="405.42" cy="56.21" rx="4.9" ry="5.4" fill="url(#sSb)"/>
<ellipse cx="434.47" cy="72.99" rx="4.9" ry="5.4" fill="url(#sSb)"/>
<ellipse cx="434.47" cy="56.21" rx="4.9" ry="5.4" fill="url(#sSb)"/>
<ellipse cx="463.52" cy="72.99" rx="4.9" ry="5.4" fill="url(#sSb)"/>
<ellipse cx="463.52" cy="56.21" rx="4.9" ry="5.4" fill="url(#sSb)"/>
<ellipse cx="492.57" cy="72.99" rx="4.9" ry="5.4" fill="url(#sSb)"/>
<ellipse cx="492.57" cy="56.21" rx="4.9" ry="5.4" fill="url(#sSb)"/>
<ellipse cx="521.62" cy="72.99" rx="4.9" ry="5.4" fill="url(#sSb)"/>
<ellipse cx="521.62" cy="56.21" rx="4.9" ry="5.4" fill="url(#sSb)"/>
<ellipse cx="361.85" cy="98.29" rx="4.9" ry="5.4" fill="url(#sSb)"/>
<ellipse cx="361.85" cy="81.51" rx="4.9" ry="5.4" fill="url(#sSb)"/>
<ellipse cx="390.90" cy="98.29" rx="4.9" ry="5.4" fill="url(#sSb)"/>
<ellipse cx="390.90" cy="81.51" rx="4.9" ry="5.4" fill="url(#sSb)"/>
<ellipse cx="419.95" cy="98.29" rx="4.9" ry="5.4" fill="url(#sSb)"/>
<ellipse cx="419.95" cy="81.51" rx="4.9" ry="5.4" fill="url(#sSb)"/>
<ellipse cx="449.00" cy="98.29" rx="4.9" ry="5.4" fill="url(#sSb)"/>
<ellipse cx="449.00" cy="81.51" rx="4.9" ry="5.4" fill="url(#sSb)"/>
<ellipse cx="478.05" cy="98.29" rx="4.9" ry="5.4" fill="url(#sSb)"/>
<ellipse cx="478.05" cy="81.51" rx="4.9" ry="5.4" fill="url(#sSb)"/>
<ellipse cx="507.10" cy="98.29" rx="4.9" ry="5.4" fill="url(#sSb)"/>
<ellipse cx="507.10" cy="81.51" rx="4.9" ry="5.4" fill="url(#sSb)"/>
<ellipse cx="536.15" cy="98.29" rx="4.9" ry="5.4" fill="url(#sSb)"/>
<ellipse cx="536.15" cy="81.51" rx="4.9" ry="5.4" fill="url(#sSb)"/>
<ellipse cx="347.32" cy="123.59" rx="4.9" ry="5.4" fill="url(#sSb)"/>
<ellipse cx="347.32" cy="106.81" rx="4.9" ry="5.4" fill="url(#sSb)"/>
<ellipse cx="376.37" cy="123.59" rx="4.9" ry="5.4" fill="url(#sSb)"/>
<ellipse cx="376.37" cy="106.81" rx="4.9" ry="5.4" fill="url(#sSb)"/>
<ellipse cx="405.42" cy="123.59" rx="4.9" ry="5.4" fill="url(#sSb)"/>
<ellipse cx="405.42" cy="106.81" rx="4.9" ry="5.4" fill="url(#sSb)"/>
<ellipse cx="434.47" cy="123.59" rx="4.9" ry="5.4" fill="url(#sSb)"/>
<ellipse cx="434.47" cy="106.81" rx="4.9" ry="5.4" fill="url(#sSb)"/>
<ellipse cx="463.52" cy="123.59" rx="4.9" ry="5.4" fill="url(#sSb)"/>
<ellipse cx="463.52" cy="106.81" rx="4.9" ry="5.4" fill="url(#sSb)"/>
<ellipse cx="492.57" cy="123.59" rx="4.9" ry="5.4" fill="url(#sSb)"/>
<ellipse cx="492.57" cy="106.81" rx="4.9" ry="5.4" fill="url(#sSb)"/>
<ellipse cx="521.62" cy="123.59" rx="4.9" ry="5.4" fill="url(#sSb)"/>
<ellipse cx="521.62" cy="106.81" rx="4.9" ry="5.4" fill="url(#sSb)"/>
<circle cx="347.32" cy="-11.30" r="7.5" fill="url(#sK)" stroke="none" stroke-width="0" />
<circle cx="376.37" cy="-11.30" r="7.5" fill="url(#sK)" stroke="none" stroke-width="0" />
<circle cx="405.42" cy="-11.30" r="7.5" fill="url(#sK)" stroke="none" stroke-width="0" />
<circle cx="434.47" cy="-11.30" r="7.5" fill="url(#sK)" stroke="none" stroke-width="0" />
<circle cx="463.52" cy="-11.30" r="7.5" fill="url(#sK)" stroke="none" stroke-width="0" />
<circle cx="492.57" cy="-11.30" r="7.5" fill="url(#sK)" stroke="none" stroke-width="0" />
<circle cx="521.62" cy="-11.30" r="7.5" fill="url(#sK)" stroke="none" stroke-width="0" />
<circle cx="332.80" cy="14.00" r="7.5" fill="url(#sK)" stroke="none" stroke-width="0" />
<circle cx="361.85" cy="14.00" r="7.5" fill="url(#sK)" stroke="none" stroke-width="0" />
<circle cx="390.90" cy="14.00" r="7.5" fill="url(#sK)" stroke="none" stroke-width="0" />
<circle cx="419.95" cy="14.00" r="7.5" fill="url(#sK)" stroke="none" stroke-width="0" />
<circle cx="449.00" cy="14.00" r="7.5" fill="url(#sK)" stroke="none" stroke-width="0" />
<circle cx="478.05" cy="14.00" r="7.5" fill="url(#sK)" stroke="none" stroke-width="0" />
<circle cx="507.10" cy="14.00" r="7.5" fill="url(#sK)" stroke="none" stroke-width="0" />
<circle cx="347.32" cy="39.30" r="7.5" fill="url(#sK)" stroke="none" stroke-width="0" />
<circle cx="376.37" cy="39.30" r="7.5" fill="url(#sK)" stroke="none" stroke-width="0" />
<circle cx="405.42" cy="39.30" r="7.5" fill="url(#sK)" stroke="none" stroke-width="0" />
<circle cx="434.47" cy="39.30" r="7.5" fill="url(#sK)" stroke="none" stroke-width="0" />
<circle cx="463.52" cy="39.30" r="7.5" fill="url(#sK)" stroke="none" stroke-width="0" />
<circle cx="492.57" cy="39.30" r="7.5" fill="url(#sK)" stroke="none" stroke-width="0" />
<circle cx="521.62" cy="39.30" r="7.5" fill="url(#sK)" stroke="none" stroke-width="0" />
<circle cx="332.80" cy="64.60" r="7.5" fill="url(#sK)" stroke="none" stroke-width="0" />
<circle cx="361.85" cy="64.60" r="7.5" fill="url(#sK)" stroke="none" stroke-width="0" />
<circle cx="390.90" cy="64.60" r="7.5" fill="url(#sK)" stroke="none" stroke-width="0" />
<circle cx="419.95" cy="64.60" r="7.5" fill="url(#sK)" stroke="none" stroke-width="0" />
<circle cx="449.00" cy="64.60" r="7.5" fill="url(#sK)" stroke="none" stroke-width="0" />
<circle cx="478.05" cy="64.60" r="7.5" fill="url(#sK)" stroke="none" stroke-width="0" />
<circle cx="507.10" cy="64.60" r="7.5" fill="url(#sK)" stroke="none" stroke-width="0" />
<circle cx="347.32" cy="89.90" r="7.5" fill="url(#sK)" stroke="none" stroke-width="0" />
<circle cx="376.37" cy="89.90" r="7.5" fill="url(#sK)" stroke="none" stroke-width="0" />
<circle cx="405.42" cy="89.90" r="7.5" fill="url(#sK)" stroke="none" stroke-width="0" />
<circle cx="434.47" cy="89.90" r="7.5" fill="url(#sK)" stroke="none" stroke-width="0" />
<circle cx="463.52" cy="89.90" r="7.5" fill="url(#sK)" stroke="none" stroke-width="0" />
<circle cx="492.57" cy="89.90" r="7.5" fill="url(#sK)" stroke="none" stroke-width="0" />
<circle cx="521.62" cy="89.90" r="7.5" fill="url(#sK)" stroke="none" stroke-width="0" />
<circle cx="332.80" cy="115.20" r="7.5" fill="url(#sK)" stroke="none" stroke-width="0" />
<circle cx="361.85" cy="115.20" r="7.5" fill="url(#sK)" stroke="none" stroke-width="0" />
<circle cx="390.90" cy="115.20" r="7.5" fill="url(#sK)" stroke="none" stroke-width="0" />
<circle cx="419.95" cy="115.20" r="7.5" fill="url(#sK)" stroke="none" stroke-width="0" />
<circle cx="449.00" cy="115.20" r="7.5" fill="url(#sK)" stroke="none" stroke-width="0" />
<circle cx="478.05" cy="115.20" r="7.5" fill="url(#sK)" stroke="none" stroke-width="0" />
<circle cx="507.10" cy="115.20" r="7.5" fill="url(#sK)" stroke="none" stroke-width="0" />
</g></g>
</g>
<g id="panel-b">
<text x="5.20" y="138.20" font-size="14.5" fill="#000" text-anchor="start" font-weight="bold" font-style="normal" >b</text>
<rect x="43.75" y="122.5" width="75.0" height="74.25" fill="#fff" stroke="#3a3a3a" stroke-width="0.8"/>
<line x1="43.75" y1="196.75" x2="43.75" y2="195.15" stroke="#3a3a3a" stroke-width="0.55" />
<line x1="43.75" y1="122.50" x2="43.75" y2="124.10" stroke="#3a3a3a" stroke-width="0.55" />
<text x="43.75" y="201.90" font-size="4.7" fill="#222" text-anchor="middle" font-weight="normal" font-style="normal" >0</text>
<line x1="56.25" y1="196.75" x2="56.25" y2="195.15" stroke="#3a3a3a" stroke-width="0.55" />
<line x1="56.25" y1="122.50" x2="56.25" y2="124.10" stroke="#3a3a3a" stroke-width="0.55" />
<text x="56.25" y="201.90" font-size="4.7" fill="#222" text-anchor="middle" font-weight="normal" font-style="normal" >50</text>
<line x1="68.75" y1="196.75" x2="68.75" y2="195.15" stroke="#3a3a3a" stroke-width="0.55" />
<line x1="68.75" y1="122.50" x2="68.75" y2="124.10" stroke="#3a3a3a" stroke-width="0.55" />
<text x="68.75" y="201.90" font-size="4.7" fill="#222" text-anchor="middle" font-weight="normal" font-style="normal" >100</text>
<line x1="81.25" y1="196.75" x2="81.25" y2="195.15" stroke="#3a3a3a" stroke-width="0.55" />
<line x1="81.25" y1="122.50" x2="81.25" y2="124.10" stroke="#3a3a3a" stroke-width="0.55" />
<text x="81.25" y="201.90" font-size="4.7" fill="#222" text-anchor="middle" font-weight="normal" font-style="normal" >150</text>
<line x1="93.75" y1="196.75" x2="93.75" y2="195.15" stroke="#3a3a3a" stroke-width="0.55" />
<line x1="93.75" y1="122.50" x2="93.75" y2="124.10" stroke="#3a3a3a" stroke-width="0.55" />
<text x="93.75" y="201.90" font-size="4.7" fill="#222" text-anchor="middle" font-weight="normal" font-style="normal" >200</text>
<line x1="106.25" y1="196.75" x2="106.25" y2="195.15" stroke="#3a3a3a" stroke-width="0.55" />
<line x1="106.25" y1="122.50" x2="106.25" y2="124.10" stroke="#3a3a3a" stroke-width="0.55" />
<text x="106.25" y="201.90" font-size="4.7" fill="#222" text-anchor="middle" font-weight="normal" font-style="normal" >250</text>
<line x1="118.75" y1="196.75" x2="118.75" y2="195.15" stroke="#3a3a3a" stroke-width="0.55" />
<line x1="118.75" y1="122.50" x2="118.75" y2="124.10" stroke="#3a3a3a" stroke-width="0.55" />
<text x="118.75" y="201.90" font-size="4.7" fill="#222" text-anchor="middle" font-weight="normal" font-style="normal" >300</text>
<line x1="50.00" y1="196.75" x2="50.00" y2="195.85" stroke="#3a3a3a" stroke-width="0.45" />
<line x1="62.50" y1="196.75" x2="62.50" y2="195.85" stroke="#3a3a3a" stroke-width="0.45" />
<line x1="75.00" y1="196.75" x2="75.00" y2="195.85" stroke="#3a3a3a" stroke-width="0.45" />
<line x1="87.50" y1="196.75" x2="87.50" y2="195.85" stroke="#3a3a3a" stroke-width="0.45" />
<line x1="100.00" y1="196.75" x2="100.00" y2="195.85" stroke="#3a3a3a" stroke-width="0.45" />
<line x1="112.50" y1="196.75" x2="112.50" y2="195.85" stroke="#3a3a3a" stroke-width="0.45" />
<line x1="43.75" y1="196.75" x2="45.35" y2="196.75" stroke="#3a3a3a" stroke-width="0.55" />
<line x1="118.75" y1="196.75" x2="117.15" y2="196.75" stroke="#3a3a3a" stroke-width="0.55" />
<text x="42.15" y="198.35" font-size="4.7" fill="#222" text-anchor="end" font-weight="normal" font-style="normal" >0</text>
<line x1="43.75" y1="184.88" x2="45.35" y2="184.88" stroke="#3a3a3a" stroke-width="0.55" />
<line x1="118.75" y1="184.88" x2="117.15" y2="184.88" stroke="#3a3a3a" stroke-width="0.55" />
<text x="42.15" y="186.48" font-size="4.7" fill="#222" text-anchor="end" font-weight="normal" font-style="normal" >5</text>
<line x1="43.75" y1="173.01" x2="45.35" y2="173.01" stroke="#3a3a3a" stroke-width="0.55" />
<line x1="118.75" y1="173.01" x2="117.15" y2="173.01" stroke="#3a3a3a" stroke-width="0.55" />
<text x="42.15" y="174.61" font-size="4.7" fill="#222" text-anchor="end" font-weight="normal" font-style="normal" >10</text>
<line x1="43.75" y1="161.14" x2="45.35" y2="161.14" stroke="#3a3a3a" stroke-width="0.55" />
<line x1="118.75" y1="161.14" x2="117.15" y2="161.14" stroke="#3a3a3a" stroke-width="0.55" />
<text x="42.15" y="162.74" font-size="4.7" fill="#222" text-anchor="end" font-weight="normal" font-style="normal" >15</text>
<line x1="43.75" y1="149.27" x2="45.35" y2="149.27" stroke="#3a3a3a" stroke-width="0.55" />
<line x1="118.75" y1="149.27" x2="117.15" y2="149.27" stroke="#3a3a3a" stroke-width="0.55" />
<text x="42.15" y="150.87" font-size="4.7" fill="#222" text-anchor="end" font-weight="normal" font-style="normal" >20</text>
<line x1="43.75" y1="137.40" x2="45.35" y2="137.40" stroke="#3a3a3a" stroke-width="0.55" />
<line x1="118.75" y1="137.40" x2="117.15" y2="137.40" stroke="#3a3a3a" stroke-width="0.55" />
<text x="42.15" y="139.00" font-size="4.7" fill="#222" text-anchor="end" font-weight="normal" font-style="normal" >25</text>
<line x1="43.75" y1="125.53" x2="45.35" y2="125.53" stroke="#3a3a3a" stroke-width="0.55" />
<line x1="118.75" y1="125.53" x2="117.15" y2="125.53" stroke="#3a3a3a" stroke-width="0.55" />
<text x="42.15" y="127.13" font-size="4.7" fill="#222" text-anchor="end" font-weight="normal" font-style="normal" >30</text>
<text x="81.30" y="207.60" font-size="4.7" fill="#222" text-anchor="middle" font-weight="normal" font-style="normal" ><tspan font-style="italic">T</tspan> (K)</text>
<text transform="translate(35.00,160.50) rotate(-90)" font-size="4.7" fill="#222" text-anchor="middle" font-weight="normal" font-style="normal" ><tspan font-style="italic">ρ</tspan> (μΩ cm)</text>
<path d="M43.75,195.92 L44.25,195.90 L44.76,195.87 L45.26,195.85 L45.76,195.82 L46.27,195.80 L46.77,195.67 L47.27,195.54 L47.78,195.41 L48.28,195.29 L48.78,195.16 L49.29,195.03 L49.79,194.90 L50.29,194.68 L50.80,194.40 L51.30,194.11 L51.80,193.82 L52.31,193.54 L52.81,193.25 L53.31,192.96 L53.82,192.66 L54.32,192.23 L54.82,191.80 L55.33,191.37 L55.83,190.94 L56.33,190.49 L56.84,189.96 L57.34,189.44 L57.84,188.91 L58.35,188.39 L58.85,187.83 L59.35,187.12 L59.86,186.42 L60.36,185.72 L60.86,185.02 L61.37,184.32 L61.87,183.62 L62.37,182.92 L62.88,182.10 L63.38,181.24 L63.88,180.38 L64.39,179.52 L64.89,178.66 L65.39,177.67 L65.90,176.64 L66.40,175.62 L66.90,174.51 L67.41,173.43 L67.91,172.87 L68.41,172.38 L68.92,171.87 L69.42,171.30 L69.92,170.72 L70.43,170.15 L70.93,169.57 L71.43,169.00 L71.94,168.43 L72.44,167.85 L72.94,167.28 L73.45,166.71 L73.95,166.13 L74.45,165.56 L74.96,164.99 L75.46,164.45 L75.96,163.91 L76.47,163.38 L76.97,162.84 L77.47,162.31 L77.98,161.77 L78.48,161.24 L78.98,160.70 L79.49,160.16 L79.99,159.63 L80.49,159.09 L81.00,158.56 L81.50,158.03 L82.01,157.50 L82.51,156.98 L83.01,156.45 L83.52,155.93 L84.02,155.40 L84.52,154.87 L85.03,154.35 L85.53,153.82 L86.03,153.30 L86.54,152.77 L87.04,152.24 L87.54,151.72 L88.05,151.23 L88.55,150.75 L89.05,150.26 L89.56,149.77 L90.06,149.28 L90.56,148.80 L91.07,148.31 L91.57,147.82 L92.07,147.33 L92.58,146.85 L93.08,146.36 L93.58,145.87 L94.09,145.39 L94.59,144.91 L95.09,144.43 L95.60,143.96 L96.10,143.48 L96.60,143.00 L97.11,142.52 L97.61,142.04 L98.11,141.57 L98.62,141.09 L99.12,140.61 L99.62,140.13 L100.13,139.66 L100.63,139.22 L101.13,138.78 L101.64,138.34 L102.14,137.91 L102.64,137.47 L103.15,137.03 L103.65,136.59 L104.15,136.15 L104.66,135.71 L105.16,135.27 L105.66,134.83 L106.17,134.39 L106.67,133.97 L107.17,133.56 L107.68,133.15 L108.18,132.74 L108.68,132.33 L109.19,131.92 L109.69,131.50 L110.19,131.09 L110.70,130.68 L111.20,130.27 L111.70,129.86 L112.21,129.45 L112.71,129.05 L113.21,128.65 L113.72,128.26 L114.22,127.87 L114.72,127.48 L115.23,127.09 L115.73,126.69 L116.23,126.30 L116.74,125.91 L117.24,125.52 L117.74,125.13 L118.25,124.73 L118.75,124.34" fill="none" stroke="#1a1a1a" stroke-width="1.5" stroke-linejoin="round"/>
<path d="M43.75,195.92 L44.25,195.90 L44.76,195.87 L45.26,195.85 L45.76,195.82 L46.27,195.80 L46.77,195.67 L47.27,195.54 L47.78,195.41 L48.28,195.29 L48.78,195.16 L49.29,195.03 L49.79,194.90 L50.29,194.68 L50.80,194.40 L51.30,194.11 L51.80,193.82 L52.31,193.54 L52.81,193.25 L53.31,192.96 L53.82,192.66 L54.32,192.23 L54.82,191.80 L55.33,191.37 L55.83,190.94 L56.33,190.49 L56.84,189.96 L57.34,189.44 L57.84,188.91 L58.35,188.39 L58.85,187.83 L59.35,187.12 L59.86,186.42 L60.36,185.72 L60.86,185.02 L61.37,184.32 L61.87,183.62 L62.37,182.92 L62.88,182.10 L63.38,181.24 L63.88,180.38 L64.39,179.52 L64.89,178.66 L65.39,177.67 L65.90,176.64 L66.40,175.62 L66.90,174.51 L67.41,173.43 L67.91,172.87 L68.41,172.38 L68.92,171.87 L69.42,171.30 L69.92,170.72 L70.43,170.15 L70.93,169.57 L71.43,169.00 L71.94,168.43 L72.44,167.85 L72.94,167.28 L73.45,166.71 L73.95,166.13 L74.45,165.56 L74.96,164.99 L75.46,164.45 L75.96,163.91 L76.47,163.38 L76.97,162.84 L77.47,162.31 L77.98,161.77 L78.48,161.24 L78.98,160.70 L79.49,160.16 L79.99,159.63 L80.49,159.09 L81.00,158.56 L81.50,158.03 L82.01,157.50 L82.51,156.98 L83.01,156.45 L83.52,155.93 L84.02,155.40 L84.52,154.87 L85.03,154.35 L85.53,153.82 L86.03,153.30 L86.54,152.77 L87.04,152.24 L87.54,151.72 L88.05,151.23 L88.55,150.75 L89.05,150.26 L89.56,149.77 L90.06,149.28 L90.56,148.80 L91.07,148.31 L91.57,147.82 L92.07,147.33 L92.58,146.85 L93.08,146.36 L93.58,145.87 L94.09,145.39 L94.59,144.91 L95.09,144.43 L95.60,143.96 L96.10,143.48 L96.60,143.00 L97.11,142.52 L97.61,142.04 L98.11,141.57 L98.62,141.09 L99.12,140.61 L99.62,140.13 L100.13,139.66 L100.63,139.22 L101.13,138.78 L101.64,138.34 L102.14,137.91 L102.64,137.47 L103.15,137.03 L103.65,136.59 L104.15,136.15 L104.66,135.71 L105.16,135.27 L105.66,134.83 L106.17,134.39 L106.67,133.97 L107.17,133.56 L107.68,133.15 L108.18,132.74 L108.68,132.33 L109.19,131.92 L109.69,131.50 L110.19,131.09 L110.70,130.68 L111.20,130.27 L111.70,129.86 L112.21,129.45 L112.71,129.05 L113.21,128.65 L113.72,128.26 L114.22,127.87 L114.72,127.48 L115.23,127.09 L115.73,126.69 L116.23,126.30 L116.74,125.91 L117.24,125.52 L117.74,125.13 L118.25,124.73 L118.75,124.34" fill="none" stroke="#c81e1e" stroke-width="0.7" stroke-linejoin="round"/>
<text x="46" y="127.6" font-size="4.6" fill="#222">CsV<tspan font-size="3" dy="0.9">3</tspan><tspan dy="-0.9">Sb</tspan><tspan font-size="3" dy="0.9">5</tspan></text>
<text x="45.6" y="132.9" font-size="4.6" fill="#222">• 0T, <tspan font-style="italic">ρ</tspan><tspan font-size="3" dy="0.9">ab</tspan></text>
<text x="45.6" y="138.6" font-size="4.6" fill="#222">• 0T, <tspan font-style="italic">α</tspan><tspan font-size="3" dy="-1.4">-1</tspan><tspan font-style="italic" dy="1.4">ρ</tspan><tspan font-size="3" dy="0.9">c</tspan></text>
<text x="67.40" y="164.40" font-size="4.6" fill="#222" text-anchor="middle" font-weight="normal" font-style="normal" >94K</text>
<line x1="67.60" y1="165.60" x2="67.60" y2="168.60" stroke="#222" stroke-width="0.7" />
<path d="M67.60,170.60 L66.30,168.00 L68.90,168.00 Z" fill="#222" stroke="none" stroke-width="1" />
<g stroke="#555" stroke-width="0.45" fill="none">
<path d="M90.50,179.30 L94.00,174.60 L103.60,173.90 L108.20,177.60 L104.80,182.50 L95.20,183.20 Z" fill="none" stroke="#555" stroke-width="0.5" />
<path d="M90.50,179.30 L90.50,181.00 L95.20,184.90 L104.80,184.20 L108.20,179.30 L108.20,177.60" fill="none" stroke="#555" stroke-width="0.4" />
<line x1="94.00" y1="174.60" x2="99.40" y2="178.40" stroke="#555" stroke-width="0.45" />
<line x1="99.40" y1="178.40" x2="108.20" y2="177.60" stroke="#555" stroke-width="0.45" />
<line x1="99.40" y1="178.40" x2="95.20" y2="183.20" stroke="#555" stroke-width="0.45" />
</g>
<line x1="99.40" y1="170.40" x2="99.40" y2="174.60" stroke="#c03030" stroke-width="0.6" />
<text x="88.4" y="192.4" font-size="4.1" fill="#333"><tspan font-style="italic">α</tspan> = </text>
<text x="99.20" y="190.00" font-size="3.8" fill="#333" text-anchor="middle" font-weight="normal" font-style="normal" ><tspan font-style="italic">ρ</tspan><tspan font-size="2.8" dy="0.8">c</tspan></text>
<line x1="96.40" y1="190.90" x2="102.20" y2="190.90" stroke="#333" stroke-width="0.35" />
<text x="99.20" y="194.60" font-size="3.8" fill="#333" text-anchor="middle" font-weight="normal" font-style="normal" ><tspan font-style="italic">ρ</tspan><tspan font-size="2.8" dy="0.8">ab</tspan></text>
<text x="103.20" y="192.40" font-size="4.1" fill="#333" text-anchor="start" font-weight="normal" font-style="normal" >≈ 600</text>
</g>
<g id="panel-c">
<text x="136.60" y="138.20" font-size="14.5" fill="#000" text-anchor="start" font-weight="bold" font-style="normal" >c</text>
<rect x="168.75" y="123.0" width="75.0" height="74.5" fill="#fff" stroke="#3a3a3a" stroke-width="0.8"/>
<line x1="168.75" y1="197.50" x2="168.75" y2="195.90" stroke="#3a3a3a" stroke-width="0.55" />
<line x1="168.75" y1="123.00" x2="168.75" y2="124.60" stroke="#3a3a3a" stroke-width="0.55" />
<text x="168.75" y="202.70" font-size="4.7" fill="#222" text-anchor="middle" font-weight="normal" font-style="normal" >0</text>
<line x1="187.50" y1="197.50" x2="187.50" y2="195.90" stroke="#3a3a3a" stroke-width="0.55" />
<line x1="187.50" y1="123.00" x2="187.50" y2="124.60" stroke="#3a3a3a" stroke-width="0.55" />
<text x="187.50" y="202.70" font-size="4.7" fill="#222" text-anchor="middle" font-weight="normal" font-style="normal" >50</text>
<line x1="206.25" y1="197.50" x2="206.25" y2="195.90" stroke="#3a3a3a" stroke-width="0.55" />
<line x1="206.25" y1="123.00" x2="206.25" y2="124.60" stroke="#3a3a3a" stroke-width="0.55" />
<text x="206.25" y="202.70" font-size="4.7" fill="#222" text-anchor="middle" font-weight="normal" font-style="normal" >100</text>
<line x1="225.00" y1="197.50" x2="225.00" y2="195.90" stroke="#3a3a3a" stroke-width="0.55" />
<line x1="225.00" y1="123.00" x2="225.00" y2="124.60" stroke="#3a3a3a" stroke-width="0.55" />
<text x="225.00" y="202.70" font-size="4.7" fill="#222" text-anchor="middle" font-weight="normal" font-style="normal" >150</text>
<line x1="243.75" y1="197.50" x2="243.75" y2="195.90" stroke="#3a3a3a" stroke-width="0.55" />
<line x1="243.75" y1="123.00" x2="243.75" y2="124.60" stroke="#3a3a3a" stroke-width="0.55" />
<text x="243.75" y="202.70" font-size="4.7" fill="#222" text-anchor="middle" font-weight="normal" font-style="normal" >200</text>
<line x1="178.12" y1="197.50" x2="178.12" y2="196.60" stroke="#3a3a3a" stroke-width="0.45" />
<line x1="196.88" y1="197.50" x2="196.88" y2="196.60" stroke="#3a3a3a" stroke-width="0.45" />
<line x1="215.62" y1="197.50" x2="215.62" y2="196.60" stroke="#3a3a3a" stroke-width="0.45" />
<line x1="234.38" y1="197.50" x2="234.38" y2="196.60" stroke="#3a3a3a" stroke-width="0.45" />
<line x1="168.75" y1="197.50" x2="170.35" y2="197.50" stroke="#3a3a3a" stroke-width="0.55" />
<line x1="243.75" y1="197.50" x2="242.15" y2="197.50" stroke="#3a3a3a" stroke-width="0.55" />
<text x="167.35" y="199.10" font-size="4.7" fill="#222" text-anchor="end" font-weight="normal" font-style="normal" >0</text>
<line x1="168.75" y1="182.95" x2="170.35" y2="182.95" stroke="#3a3a3a" stroke-width="0.55" />
<line x1="243.75" y1="182.95" x2="242.15" y2="182.95" stroke="#3a3a3a" stroke-width="0.55" />
<text x="167.35" y="184.55" font-size="4.7" fill="#222" text-anchor="end" font-weight="normal" font-style="normal" >50</text>
<line x1="168.75" y1="168.40" x2="170.35" y2="168.40" stroke="#3a3a3a" stroke-width="0.55" />
<line x1="243.75" y1="168.40" x2="242.15" y2="168.40" stroke="#3a3a3a" stroke-width="0.55" />
<text x="167.35" y="170.00" font-size="4.7" fill="#222" text-anchor="end" font-weight="normal" font-style="normal" >100</text>
<line x1="168.75" y1="153.85" x2="170.35" y2="153.85" stroke="#3a3a3a" stroke-width="0.55" />
<line x1="243.75" y1="153.85" x2="242.15" y2="153.85" stroke="#3a3a3a" stroke-width="0.55" />
<text x="167.35" y="155.45" font-size="4.7" fill="#222" text-anchor="end" font-weight="normal" font-style="normal" >150</text>
<line x1="168.75" y1="139.30" x2="170.35" y2="139.30" stroke="#3a3a3a" stroke-width="0.55" />
<line x1="243.75" y1="139.30" x2="242.15" y2="139.30" stroke="#3a3a3a" stroke-width="0.55" />
<text x="167.35" y="140.90" font-size="4.7" fill="#222" text-anchor="end" font-weight="normal" font-style="normal" >200</text>
<line x1="168.75" y1="124.75" x2="170.35" y2="124.75" stroke="#3a3a3a" stroke-width="0.55" />
<line x1="243.75" y1="124.75" x2="242.15" y2="124.75" stroke="#3a3a3a" stroke-width="0.55" />
<text x="167.35" y="126.35" font-size="4.7" fill="#222" text-anchor="end" font-weight="normal" font-style="normal" >250</text>
<text x="206.30" y="208.40" font-size="4.7" fill="#222" text-anchor="middle" font-weight="normal" font-style="normal" ><tspan font-style="italic">T</tspan> (K)</text>
<text transform="translate(157.00,160.50) rotate(-90)" font-size="4.7" fill="#222" text-anchor="middle" font-weight="normal" font-style="normal" ><tspan font-style="italic">C</tspan><tspan font-size="3" dy="0.9">p</tspan><tspan dy="-0.9"> (J mol</tspan><tspan font-size="3" dy="-1.4">-1</tspan><tspan dy="1.4"> K</tspan><tspan font-size="3" dy="-1.4">-1</tspan><tspan dy="1.4">)</tspan></text>
<path d="M168.75,197.50 L169.32,197.44 L169.89,197.39 L170.47,197.21 L171.04,196.82 L171.61,196.43 L172.18,195.67 L172.75,194.78 L173.33,193.89 L173.90,193.00 L174.47,192.08 L175.04,191.02 L175.61,189.95 L176.19,188.89 L176.76,187.82 L177.33,186.76 L177.90,185.69 L178.47,184.63 L179.05,183.56 L179.62,182.50 L180.19,181.43 L180.76,180.37 L181.33,179.30 L181.91,178.24 L182.48,177.33 L183.05,176.41 L183.62,175.49 L184.19,174.57 L184.77,173.66 L185.34,172.74 L185.91,171.82 L186.48,170.90 L187.06,169.99 L187.63,169.10 L188.20,168.30 L188.77,167.50 L189.34,166.70 L189.92,165.90 L190.49,165.10 L191.06,164.30 L191.63,163.50 L192.20,162.70 L192.78,161.90 L193.35,161.15 L193.92,160.47 L194.49,159.79 L195.06,159.11 L195.64,158.43 L196.21,157.75 L196.78,157.07 L197.35,156.39 L197.92,155.71 L198.50,155.03 L199.07,154.40 L199.64,153.83 L200.21,153.25 L200.78,152.67 L201.36,152.09 L201.93,151.52 L202.50,150.94 L202.50,150.94 L202.56,150.87 L202.63,150.81 L202.69,150.74 L202.75,150.68 L202.82,150.61 L202.88,150.55 L202.94,150.48 L203.01,150.41 L203.07,150.35 L203.14,150.28 L203.20,150.22 L203.26,150.15 L203.33,150.09 L203.39,150.02 L203.45,149.95 L203.52,149.89 L203.58,149.82 L203.64,149.11 L203.71,146.89 L203.77,144.67 L203.83,142.45 L203.90,140.23 L203.96,138.66 L204.03,137.55 L204.09,136.44 L204.15,135.33 L204.22,134.22 L204.28,135.23 L204.34,136.58 L204.41,137.94 L204.47,139.30 L204.53,140.68 L204.60,142.21 L204.66,143.75 L204.72,145.28 L204.79,146.82 L204.85,148.35 L204.92,148.75 L204.98,148.91 L205.04,149.08 L205.11,149.24 L205.17,149.41 L205.23,149.57 L205.30,149.73 L205.36,149.75 L205.42,149.71 L205.49,149.67 L205.55,149.63 L205.61,149.59 L205.68,149.55 L205.74,149.51 L205.81,149.47 L205.87,149.43 L205.93,149.39 L206.00,149.35 L206.06,149.31 L206.12,149.27 L206.19,149.23 L206.25,149.19 L206.25,149.19 L207.02,148.72 L207.78,148.24 L208.55,147.77 L209.31,147.29 L210.08,146.83 L210.84,146.43 L211.61,146.03 L212.37,145.64 L213.14,145.24 L213.90,144.85 L214.67,144.45 L215.43,144.05 L216.20,143.74 L216.96,143.46 L217.73,143.17 L218.49,142.89 L219.26,142.60 L220.03,142.32 L220.79,142.03 L221.56,141.75 L222.32,141.46 L223.09,141.18 L223.85,140.89 L224.62,140.61 L225.38,140.36 L226.15,140.14 L226.91,139.93 L227.68,139.72 L228.44,139.50 L229.21,139.29 L229.97,139.07 L230.74,138.86 L231.51,138.65 L232.27,138.43 L233.04,138.22 L233.80,138.01 L234.57,137.81 L235.33,137.67 L236.10,137.52 L236.86,137.38 L237.63,137.24 L238.39,137.10 L239.16,136.95 L239.92,136.81 L240.69,136.67 L241.45,136.53 L242.22,136.38 L242.98,136.24 L243.75,136.10" fill="none" stroke="#1a1a1a" stroke-width="1.5" stroke-linejoin="round"/>
<path d="M168.75,197.50 L169.32,197.44 L169.89,197.39 L170.47,197.21 L171.04,196.82 L171.61,196.43 L172.18,195.67 L172.75,194.78 L173.33,193.89 L173.90,193.00 L174.47,192.08 L175.04,191.02 L175.61,189.95 L176.19,188.89 L176.76,187.82 L177.33,186.76 L177.90,185.69 L178.47,184.63 L179.05,183.56 L179.62,182.50 L180.19,181.43 L180.76,180.37 L181.33,179.30 L181.91,178.24 L182.48,177.33 L183.05,176.41 L183.62,175.49 L184.19,174.57 L184.77,173.66 L185.34,172.74 L185.91,171.82 L186.48,170.90 L187.06,169.99 L187.63,169.10 L188.20,168.30 L188.77,167.50 L189.34,166.70 L189.92,165.90 L190.49,165.10 L191.06,164.30 L191.63,163.50 L192.20,162.70 L192.78,161.90 L193.35,161.15 L193.92,160.47 L194.49,159.79 L195.06,159.11 L195.64,158.43 L196.21,157.75 L196.78,157.07 L197.35,156.39 L197.92,155.71 L198.50,155.03 L199.07,154.40 L199.64,153.83 L200.21,153.25 L200.78,152.67 L201.36,152.09 L201.93,151.52 L202.50,150.94 L202.50,150.94 L202.56,150.87 L202.63,150.81 L202.69,150.74 L202.75,150.68 L202.82,150.61 L202.88,150.55 L202.94,150.48 L203.01,150.41 L203.07,150.35 L203.14,150.28 L203.20,150.22 L203.26,150.15 L203.33,150.09 L203.39,150.02 L203.45,149.95 L203.52,149.89 L203.58,149.82 L203.64,149.11 L203.71,146.89 L203.77,144.67 L203.83,142.45 L203.90,140.23 L203.96,138.66 L204.03,137.55 L204.09,136.44 L204.15,135.33 L204.22,134.22 L204.28,135.23 L204.34,136.58 L204.41,137.94 L204.47,139.30 L204.53,140.68 L204.60,142.21 L204.66,143.75 L204.72,145.28 L204.79,146.82 L204.85,148.35 L204.92,148.75 L204.98,148.91 L205.04,149.08 L205.11,149.24 L205.17,149.41 L205.23,149.57 L205.30,149.73 L205.36,149.75 L205.42,149.71 L205.49,149.67 L205.55,149.63 L205.61,149.59 L205.68,149.55 L205.74,149.51 L205.81,149.47 L205.87,149.43 L205.93,149.39 L206.00,149.35 L206.06,149.31 L206.12,149.27 L206.19,149.23 L206.25,149.19 L206.25,149.19 L207.02,148.72 L207.78,148.24 L208.55,147.77 L209.31,147.29 L210.08,146.83 L210.84,146.43 L211.61,146.03 L212.37,145.64 L213.14,145.24 L213.90,144.85 L214.67,144.45 L215.43,144.05 L216.20,143.74 L216.96,143.46 L217.73,143.17 L218.49,142.89 L219.26,142.60 L220.03,142.32 L220.79,142.03 L221.56,141.75 L222.32,141.46 L223.09,141.18 L223.85,140.89 L224.62,140.61 L225.38,140.36 L226.15,140.14 L226.91,139.93 L227.68,139.72 L228.44,139.50 L229.21,139.29 L229.97,139.07 L230.74,138.86 L231.51,138.65 L232.27,138.43 L233.04,138.22 L233.80,138.01 L234.57,137.81 L235.33,137.67 L236.10,137.52 L236.86,137.38 L237.63,137.24 L238.39,137.10 L239.16,136.95 L239.92,136.81 L240.69,136.67 L241.45,136.53 L242.22,136.38 L242.98,136.24 L243.75,136.10" fill="none" stroke="#c81e1e" stroke-width="0.7" stroke-linejoin="round"/>
<text x="171.2" y="128.2" font-size="4.6" fill="#222">CsV<tspan font-size="3" dy="0.9">3</tspan><tspan dy="-0.9">Sb</tspan><tspan font-size="3" dy="0.9">5</tspan></text>
<text x="170.80" y="133.80" font-size="4.6" fill="#222" text-anchor="start" font-weight="normal" font-style="normal" >• 0T ZFC</text>
<text x="170.80" y="139.60" font-size="4.6" fill="#222" text-anchor="start" font-weight="normal" font-style="normal" >• 1T ZFC</text>
<text x="204.20" y="164.60" font-size="4.6" fill="#222" text-anchor="middle" font-weight="normal" font-style="normal" >94K</text>
<line x1="204.00" y1="157.60" x2="204.00" y2="160.40" stroke="#333" stroke-width="0.6" />
<path d="M204.00,155.60 L202.80,158.20 L205.20,158.20 Z" fill="#333" stroke="none" stroke-width="1" />
</g>
<g id="panel-e">
<text x="5.20" y="232.20" font-size="14.5" fill="#000" text-anchor="start" font-weight="bold" font-style="normal" >e</text>
<rect x="66.5" y="213.75" width="167.0" height="66.85000000000002" fill="#fff" stroke="#9fb4c4" stroke-width="0.7"/>
<line x1="66.50" y1="280.60" x2="66.50" y2="278.60" stroke="#8fa4b4" stroke-width="0.6" />
<text x="66.50" y="290.60" font-size="7.2" fill="#111" text-anchor="middle" font-weight="normal" font-style="normal" >0</text>
<line x1="108.25" y1="280.60" x2="108.25" y2="278.60" stroke="#8fa4b4" stroke-width="0.6" />
<text x="108.25" y="290.60" font-size="7.2" fill="#111" text-anchor="middle" font-weight="normal" font-style="normal" >2</text>
<line x1="150.00" y1="280.60" x2="150.00" y2="278.60" stroke="#8fa4b4" stroke-width="0.6" />
<text x="150.00" y="290.60" font-size="7.2" fill="#111" text-anchor="middle" font-weight="normal" font-style="normal" >4</text>
<line x1="191.75" y1="280.60" x2="191.75" y2="278.60" stroke="#8fa4b4" stroke-width="0.6" />
<text x="191.75" y="290.60" font-size="7.2" fill="#111" text-anchor="middle" font-weight="normal" font-style="normal" >6</text>
<line x1="233.50" y1="280.60" x2="233.50" y2="278.60" stroke="#8fa4b4" stroke-width="0.6" />
<text x="233.50" y="290.60" font-size="7.2" fill="#111" text-anchor="middle" font-weight="normal" font-style="normal" >8</text>
<line x1="87.38" y1="280.60" x2="87.38" y2="279.40" stroke="#8fa4b4" stroke-width="0.5" />
<line x1="129.12" y1="280.60" x2="129.12" y2="279.40" stroke="#8fa4b4" stroke-width="0.5" />
<line x1="170.88" y1="280.60" x2="170.88" y2="279.40" stroke="#8fa4b4" stroke-width="0.5" />
<line x1="212.62" y1="280.60" x2="212.62" y2="279.40" stroke="#8fa4b4" stroke-width="0.5" />
<line x1="66.50" y1="280.60" x2="68.50" y2="280.60" stroke="#8fa4b4" stroke-width="0.6" />
<text x="63.10" y="283.20" font-size="7.2" fill="#111" text-anchor="end" font-weight="normal" font-style="normal" >0.0</text>
<line x1="66.50" y1="268.34" x2="68.50" y2="268.34" stroke="#8fa4b4" stroke-width="0.6" />
<text x="63.10" y="270.94" font-size="7.2" fill="#111" text-anchor="end" font-weight="normal" font-style="normal" >0.2</text>
<line x1="66.50" y1="256.08" x2="68.50" y2="256.08" stroke="#8fa4b4" stroke-width="0.6" />
<text x="63.10" y="258.68" font-size="7.2" fill="#111" text-anchor="end" font-weight="normal" font-style="normal" >0.4</text>
<line x1="66.50" y1="243.82" x2="68.50" y2="243.82" stroke="#8fa4b4" stroke-width="0.6" />
<text x="63.10" y="246.42" font-size="7.2" fill="#111" text-anchor="end" font-weight="normal" font-style="normal" >0.6</text>
<line x1="66.50" y1="231.56" x2="68.50" y2="231.56" stroke="#8fa4b4" stroke-width="0.6" />
<text x="63.10" y="234.16" font-size="7.2" fill="#111" text-anchor="end" font-weight="normal" font-style="normal" >0.8</text>
<line x1="66.50" y1="219.30" x2="68.50" y2="219.30" stroke="#8fa4b4" stroke-width="0.6" />
<text x="63.10" y="221.90" font-size="7.2" fill="#111" text-anchor="end" font-weight="normal" font-style="normal" >1.0</text>
<line x1="66.50" y1="274.47" x2="67.70" y2="274.47" stroke="#8fa4b4" stroke-width="0.5" />
<line x1="66.50" y1="262.21" x2="67.70" y2="262.21" stroke="#8fa4b4" stroke-width="0.5" />
<line x1="66.50" y1="249.95" x2="67.70" y2="249.95" stroke="#8fa4b4" stroke-width="0.5" />
<line x1="66.50" y1="237.69" x2="67.70" y2="237.69" stroke="#8fa4b4" stroke-width="0.5" />
<line x1="66.50" y1="225.43" x2="67.70" y2="225.43" stroke="#8fa4b4" stroke-width="0.5" />
<text x="150.6" y="297.8" font-size="7.2" fill="#222" text-anchor="middle" font-family='"Liberation Serif", "DejaVu Serif", serif'><tspan font-style="italic">t</tspan> (μs)</text>
<text transform="translate(47.60,247.60) rotate(-90)" font-size="6.4" fill="#222" text-anchor="middle" font-weight="normal" font-style="normal" ><tspan font-style="italic">P</tspan><tspan font-size="4.4" dy="1.2">ZF</tspan><tspan dy="-1.2"> (t)</tspan></text>
<g clip-path="url(#clipE)">
<path d="M68.17,217.17 L70.07,219.07 L68.17,220.97 L66.27,219.07 Z" fill="#f0647a" stroke="none" stroke-width="1" />
<path d="M71.72,218.73 L73.62,220.63 L71.72,222.53 L69.82,220.63 Z" fill="#f0647a" stroke="none" stroke-width="1" />
<path d="M75.27,217.25 L77.17,219.15 L75.27,221.05 L73.37,219.15 Z" fill="#f0647a" stroke="none" stroke-width="1" />
<path d="M78.82,217.85 L80.72,219.75 L78.82,221.65 L76.92,219.75 Z" fill="#f0647a" stroke="none" stroke-width="1" />
<path d="M82.36,219.40 L84.27,221.30 L82.36,223.20 L80.46,221.30 Z" fill="#f0647a" stroke="none" stroke-width="1" />
<path d="M85.91,217.20 L87.81,219.10 L85.91,221.00 L84.01,219.10 Z" fill="#f0647a" stroke="none" stroke-width="1" />
<path d="M89.46,218.79 L91.36,220.69 L89.46,222.59 L87.56,220.69 Z" fill="#f0647a" stroke="none" stroke-width="1" />
<path d="M93.01,219.69 L94.91,221.59 L93.01,223.49 L91.11,221.59 Z" fill="#f0647a" stroke="none" stroke-width="1" />
<path d="M96.56,217.65 L98.46,219.55 L96.56,221.45 L94.66,219.55 Z" fill="#f0647a" stroke="none" stroke-width="1" />
<path d="M100.11,219.84 L102.01,221.74 L100.11,223.64 L98.21,221.74 Z" fill="#f0647a" stroke="none" stroke-width="1" />
<path d="M103.66,219.57 L105.56,221.47 L103.66,223.37 L101.76,221.47 Z" fill="#f0647a" stroke="none" stroke-width="1" />
<path d="M107.21,218.69 L109.11,220.59 L107.21,222.49 L105.31,220.59 Z" fill="#f0647a" stroke="none" stroke-width="1" />
<path d="M110.75,220.75 L112.66,222.65 L110.75,224.55 L108.85,222.65 Z" fill="#f0647a" stroke="none" stroke-width="1" />
<path d="M114.30,219.21 L116.20,221.11 L114.30,223.01 L112.40,221.11 Z" fill="#f0647a" stroke="none" stroke-width="1" />
<path d="M117.85,220.22 L119.75,222.12 L117.85,224.02 L115.95,222.12 Z" fill="#f0647a" stroke="none" stroke-width="1" />
<path d="M121.40,221.30 L123.30,223.20 L121.40,225.10 L119.50,223.20 Z" fill="#f0647a" stroke="none" stroke-width="1" />
<path d="M124.95,218.97 L126.85,220.87 L124.95,222.77 L123.05,220.87 Z" fill="#f0647a" stroke="none" stroke-width="1" />
<path d="M128.50,221.93 L130.40,223.83 L128.50,225.73 L126.60,223.83 Z" fill="#f0647a" stroke="none" stroke-width="1" />
<path d="M132.05,221.47 L133.95,223.37 L132.05,225.27 L130.15,223.37 Z" fill="#f0647a" stroke="none" stroke-width="1" />
<path d="M135.60,219.26 L137.50,221.16 L135.60,223.06 L133.70,221.16 Z" fill="#f0647a" stroke="none" stroke-width="1" />
<path d="M139.14,223.37 L141.04,225.27 L139.14,227.17 L137.24,225.27 Z" fill="#f0647a" stroke="none" stroke-width="1" />
<path d="M142.69,221.34 L144.59,223.24 L142.69,225.14 L140.79,223.24 Z" fill="#f0647a" stroke="none" stroke-width="1" />
<path d="M146.24,220.24 L148.14,222.14 L146.24,224.04 L144.34,222.14 Z" fill="#f0647a" stroke="none" stroke-width="1" />
<path d="M149.79,224.07 L151.69,225.97 L149.79,227.87 L147.89,225.97 Z" fill="#f0647a" stroke="none" stroke-width="1" />
<path d="M153.34,221.12 L155.24,223.02 L153.34,224.92 L151.44,223.02 Z" fill="#f0647a" stroke="none" stroke-width="1" />
<path d="M156.89,221.84 L158.79,223.74 L156.89,225.64 L154.99,223.74 Z" fill="#f0647a" stroke="none" stroke-width="1" />
<path d="M160.44,223.87 L162.34,225.77 L160.44,227.67 L158.54,225.77 Z" fill="#f0647a" stroke="none" stroke-width="1" />
<path d="M163.99,221.09 L165.89,222.99 L163.99,224.89 L162.09,222.99 Z" fill="#f0647a" stroke="none" stroke-width="1" />
<path d="M167.53,223.65 L169.44,225.55 L167.53,227.45 L165.63,225.55 Z" fill="#f0647a" stroke="none" stroke-width="1" />
<path d="M171.08,222.82 L172.98,224.72 L171.08,226.62 L169.18,224.72 Z" fill="#f0647a" stroke="none" stroke-width="1" />
<path d="M174.63,221.39 L176.53,223.29 L174.63,225.19 L172.73,223.29 Z" fill="#f0647a" stroke="none" stroke-width="1" />
<path d="M178.18,225.05 L180.08,226.95 L178.18,228.85 L176.28,226.95 Z" fill="#f0647a" stroke="none" stroke-width="1" />
<path d="M181.73,221.34 L183.63,223.24 L181.73,225.14 L179.83,223.24 Z" fill="#f0647a" stroke="none" stroke-width="1" />
<path d="M185.28,222.07 L187.18,223.97 L185.28,225.87 L183.38,223.97 Z" fill="#f0647a" stroke="none" stroke-width="1" />
<path d="M188.83,225.58 L190.73,227.48 L188.83,229.38 L186.93,227.48 Z" fill="#f0647a" stroke="none" stroke-width="1" />
<path d="M192.38,220.15 L194.28,222.05 L192.38,223.95 L190.48,222.05 Z" fill="#f0647a" stroke="none" stroke-width="1" />
<path d="M195.92,223.11 L197.82,225.01 L195.92,226.91 L194.02,225.01 Z" fill="#f0647a" stroke="none" stroke-width="1" />
<path d="M199.47,225.12 L201.37,227.02 L199.47,228.92 L197.57,227.02 Z" fill="#f0647a" stroke="none" stroke-width="1" />
<path d="M203.02,220.00 L204.92,221.90 L203.02,223.80 L201.12,221.90 Z" fill="#f0647a" stroke="none" stroke-width="1" />
<path d="M206.57,224.32 L208.47,226.22 L206.57,228.12 L204.67,226.22 Z" fill="#f0647a" stroke="none" stroke-width="1" />
<path d="M210.12,223.91 L212.02,225.81 L210.12,227.71 L208.22,225.81 Z" fill="#f0647a" stroke="none" stroke-width="1" />
<path d="M213.67,221.20 L215.57,223.10 L213.67,225.00 L211.77,223.10 Z" fill="#f0647a" stroke="none" stroke-width="1" />
<path d="M217.22,225.39 L219.12,227.29 L217.22,229.19 L215.32,227.29 Z" fill="#f0647a" stroke="none" stroke-width="1" />
<path d="M220.77,222.54 L222.67,224.44 L220.77,226.34 L218.87,224.44 Z" fill="#f0647a" stroke="none" stroke-width="1" />
<path d="M224.31,223.64 L226.22,225.54 L224.31,227.44 L222.41,225.54 Z" fill="#f0647a" stroke="none" stroke-width="1" />
<path d="M227.86,226.13 L229.76,228.03 L227.86,229.93 L225.96,228.03 Z" fill="#f0647a" stroke="none" stroke-width="1" />
<path d="M231.41,221.76 L233.31,223.66 L231.41,225.56 L229.51,223.66 Z" fill="#f0647a" stroke="none" stroke-width="1" />
<path d="M68.17,217.64 L70.27,219.74 L68.17,221.84 L66.07,219.74 Z" fill="#f58220" stroke="none" stroke-width="1" />
<path d="M71.72,216.51 L73.82,218.61 L71.72,220.71 L69.62,218.61 Z" fill="#f58220" stroke="none" stroke-width="1" />
<path d="M75.27,217.80 L77.37,219.90 L75.27,222.00 L73.17,219.90 Z" fill="#f58220" stroke="none" stroke-width="1" />
<path d="M78.82,218.21 L80.92,220.31 L78.82,222.41 L76.72,220.31 Z" fill="#f58220" stroke="none" stroke-width="1" />
<path d="M82.36,217.10 L84.46,219.20 L82.36,221.30 L80.27,219.20 Z" fill="#f58220" stroke="none" stroke-width="1" />
<path d="M85.91,219.79 L88.01,221.89 L85.91,223.99 L83.81,221.89 Z" fill="#f58220" stroke="none" stroke-width="1" />
<path d="M89.46,219.62 L91.56,221.72 L89.46,223.82 L87.36,221.72 Z" fill="#f58220" stroke="none" stroke-width="1" />
<path d="M93.01,219.40 L95.11,221.50 L93.01,223.60 L90.91,221.50 Z" fill="#f58220" stroke="none" stroke-width="1" />
<path d="M96.56,223.01 L98.66,225.11 L96.56,227.21 L94.46,225.11 Z" fill="#f58220" stroke="none" stroke-width="1" />
<path d="M100.11,222.38 L102.21,224.48 L100.11,226.58 L98.01,224.48 Z" fill="#f58220" stroke="none" stroke-width="1" />
<path d="M103.66,223.48 L105.76,225.58 L103.66,227.68 L101.56,225.58 Z" fill="#f58220" stroke="none" stroke-width="1" />
<path d="M107.21,226.76 L109.31,228.86 L107.21,230.96 L105.11,228.86 Z" fill="#f58220" stroke="none" stroke-width="1" />
<path d="M110.75,225.92 L112.85,228.02 L110.75,230.12 L108.66,228.02 Z" fill="#f58220" stroke="none" stroke-width="1" />
<path d="M114.30,228.36 L116.40,230.46 L114.30,232.56 L112.20,230.46 Z" fill="#f58220" stroke="none" stroke-width="1" />
<path d="M117.85,229.98 L119.95,232.08 L117.85,234.18 L115.75,232.08 Z" fill="#f58220" stroke="none" stroke-width="1" />
<path d="M121.40,229.83 L123.50,231.93 L121.40,234.03 L119.30,231.93 Z" fill="#f58220" stroke="none" stroke-width="1" />
<path d="M124.95,233.62 L127.05,235.72 L124.95,237.82 L122.85,235.72 Z" fill="#f58220" stroke="none" stroke-width="1" />
<path d="M128.50,233.31 L130.60,235.41 L128.50,237.51 L126.40,235.41 Z" fill="#f58220" stroke="none" stroke-width="1" />
<path d="M132.05,234.53 L134.15,236.63 L132.05,238.73 L129.95,236.63 Z" fill="#f58220" stroke="none" stroke-width="1" />
<path d="M135.60,238.73 L137.70,240.83 L135.60,242.93 L133.50,240.83 Z" fill="#f58220" stroke="none" stroke-width="1" />
<path d="M139.14,236.62 L141.24,238.72 L139.14,240.82 L137.04,238.72 Z" fill="#f58220" stroke="none" stroke-width="1" />
<path d="M142.69,239.53 L144.79,241.63 L142.69,243.73 L140.59,241.63 Z" fill="#f58220" stroke="none" stroke-width="1" />
<path d="M146.24,243.11 L148.34,245.21 L146.24,247.31 L144.14,245.21 Z" fill="#f58220" stroke="none" stroke-width="1" />
<path d="M149.79,240.40 L151.89,242.50 L149.79,244.60 L147.69,242.50 Z" fill="#f58220" stroke="none" stroke-width="1" />
<path d="M153.34,244.82 L155.44,246.92 L153.34,249.02 L151.24,246.92 Z" fill="#f58220" stroke="none" stroke-width="1" />
<path d="M156.89,246.94 L158.99,249.04 L156.89,251.14 L154.79,249.04 Z" fill="#f58220" stroke="none" stroke-width="1" />
<path d="M160.44,245.38 L162.54,247.48 L160.44,249.58 L158.34,247.48 Z" fill="#f58220" stroke="none" stroke-width="1" />
<path d="M163.99,250.31 L166.09,252.41 L163.99,254.51 L161.89,252.41 Z" fill="#f58220" stroke="none" stroke-width="1" />
<path d="M167.53,250.46 L169.63,252.56 L167.53,254.66 L165.44,252.56 Z" fill="#f58220" stroke="none" stroke-width="1" />
<path d="M171.08,251.38 L173.18,253.48 L171.08,255.58 L168.98,253.48 Z" fill="#f58220" stroke="none" stroke-width="1" />
<path d="M174.63,255.38 L176.73,257.48 L174.63,259.58 L172.53,257.48 Z" fill="#f58220" stroke="none" stroke-width="1" />
<path d="M178.18,253.69 L180.28,255.79 L178.18,257.89 L176.08,255.79 Z" fill="#f58220" stroke="none" stroke-width="1" />
<path d="M181.73,257.55 L183.83,259.65 L181.73,261.75 L179.63,259.65 Z" fill="#f58220" stroke="none" stroke-width="1" />
<path d="M185.28,259.61 L187.38,261.71 L185.28,263.81 L183.18,261.71 Z" fill="#f58220" stroke="none" stroke-width="1" />
<path d="M188.83,257.24 L190.93,259.34 L188.83,261.44 L186.73,259.34 Z" fill="#f58220" stroke="none" stroke-width="1" />
<path d="M192.38,263.59 L194.48,265.69 L192.38,267.79 L190.28,265.69 Z" fill="#f58220" stroke="none" stroke-width="1" />
<path d="M195.92,263.22 L198.02,265.32 L195.92,267.42 L193.82,265.32 Z" fill="#f58220" stroke="none" stroke-width="1" />
<path d="M199.47,261.61 L201.57,263.71 L199.47,265.81 L197.37,263.71 Z" fill="#f58220" stroke="none" stroke-width="1" />
<path d="M203.02,268.77 L205.12,270.87 L203.02,272.97 L200.92,270.87 Z" fill="#f58220" stroke="none" stroke-width="1" />
<path d="M206.57,266.26 L208.67,268.36 L206.57,270.46 L204.47,268.36 Z" fill="#f58220" stroke="none" stroke-width="1" />
<path d="M210.12,266.55 L212.22,268.65 L210.12,270.75 L208.02,268.65 Z" fill="#f58220" stroke="none" stroke-width="1" />
<path d="M213.67,272.22 L215.77,274.32 L213.67,276.42 L211.57,274.32 Z" fill="#f58220" stroke="none" stroke-width="1" />
<path d="M217.22,268.76 L219.32,270.86 L217.22,272.96 L215.12,270.86 Z" fill="#f58220" stroke="none" stroke-width="1" />
<path d="M220.77,271.50 L222.87,273.60 L220.77,275.70 L218.67,273.60 Z" fill="#f58220" stroke="none" stroke-width="1" />
<path d="M224.31,273.70 L226.41,275.80 L224.31,277.90 L222.22,275.80 Z" fill="#f58220" stroke="none" stroke-width="1" />
<path d="M227.86,270.92 L229.96,273.02 L227.86,275.12 L225.76,273.02 Z" fill="#f58220" stroke="none" stroke-width="1" />
<path d="M231.41,275.66 L233.51,277.76 L231.41,279.86 L229.31,277.76 Z" fill="#f58220" stroke="none" stroke-width="1" />
<path d="M68.17,217.23 L66.17,221.03 L70.17,221.03 Z" fill="#3fae49" stroke="none" stroke-width="1" />
<path d="M71.72,217.63 L69.72,221.43 L73.72,221.43 Z" fill="#3fae49" stroke="none" stroke-width="1" />
<path d="M75.27,216.82 L73.27,220.62 L77.27,220.62 Z" fill="#3fae49" stroke="none" stroke-width="1" />
<path d="M78.82,218.22 L76.82,222.02 L80.82,222.02 Z" fill="#3fae49" stroke="none" stroke-width="1" />
<path d="M82.36,218.35 L80.36,222.15 L84.36,222.15 Z" fill="#3fae49" stroke="none" stroke-width="1" />
<path d="M85.91,218.58 L83.91,222.38 L87.91,222.38 Z" fill="#3fae49" stroke="none" stroke-width="1" />
<path d="M89.46,220.35 L87.46,224.15 L91.46,224.15 Z" fill="#3fae49" stroke="none" stroke-width="1" />
<path d="M93.01,220.43 L91.01,224.23 L95.01,224.23 Z" fill="#3fae49" stroke="none" stroke-width="1" />
<path d="M96.56,222.29 L94.56,226.09 L98.56,226.09 Z" fill="#3fae49" stroke="none" stroke-width="1" />
<path d="M100.11,224.12 L98.11,227.92 L102.11,227.92 Z" fill="#3fae49" stroke="none" stroke-width="1" />
<path d="M103.66,224.51 L101.66,228.31 L105.66,228.31 Z" fill="#3fae49" stroke="none" stroke-width="1" />
<path d="M107.21,228.01 L105.21,231.81 L109.21,231.81 Z" fill="#3fae49" stroke="none" stroke-width="1" />
<path d="M110.75,229.15 L108.75,232.95 L112.75,232.95 Z" fill="#3fae49" stroke="none" stroke-width="1" />
<path d="M114.30,229.66 L112.30,233.46 L116.30,233.46 Z" fill="#3fae49" stroke="none" stroke-width="1" />
<path d="M117.85,233.57 L115.85,237.37 L119.85,237.37 Z" fill="#3fae49" stroke="none" stroke-width="1" />
<path d="M121.40,234.07 L119.40,237.87 L123.40,237.87 Z" fill="#3fae49" stroke="none" stroke-width="1" />
<path d="M124.95,235.56 L122.95,239.36 L126.95,239.36 Z" fill="#3fae49" stroke="none" stroke-width="1" />
<path d="M128.50,239.36 L126.50,243.16 L130.50,243.16 Z" fill="#3fae49" stroke="none" stroke-width="1" />
<path d="M132.05,239.54 L130.05,243.34 L134.05,243.34 Z" fill="#3fae49" stroke="none" stroke-width="1" />
<path d="M135.60,242.12 L133.60,245.92 L137.60,245.92 Z" fill="#3fae49" stroke="none" stroke-width="1" />
<path d="M139.14,244.75 L137.14,248.55 L141.14,248.55 Z" fill="#3fae49" stroke="none" stroke-width="1" />
<path d="M142.69,245.14 L140.69,248.94 L144.69,248.94 Z" fill="#3fae49" stroke="none" stroke-width="1" />
<path d="M146.24,248.64 L144.24,252.44 L148.24,252.44 Z" fill="#3fae49" stroke="none" stroke-width="1" />
<path d="M149.79,249.50 L147.79,253.30 L151.79,253.30 Z" fill="#3fae49" stroke="none" stroke-width="1" />
<path d="M153.34,250.83 L151.34,254.63 L155.34,254.63 Z" fill="#3fae49" stroke="none" stroke-width="1" />
<path d="M156.89,254.84 L154.89,258.64 L158.89,258.64 Z" fill="#3fae49" stroke="none" stroke-width="1" />
<path d="M160.44,254.18 L158.44,257.98 L162.44,257.98 Z" fill="#3fae49" stroke="none" stroke-width="1" />
<path d="M163.99,256.62 L161.99,260.42 L165.99,260.42 Z" fill="#3fae49" stroke="none" stroke-width="1" />
<path d="M167.53,260.14 L165.53,263.94 L169.53,263.94 Z" fill="#3fae49" stroke="none" stroke-width="1" />
<path d="M171.08,258.54 L169.08,262.34 L173.08,262.34 Z" fill="#3fae49" stroke="none" stroke-width="1" />
<path d="M174.63,261.98 L172.63,265.78 L176.63,265.78 Z" fill="#3fae49" stroke="none" stroke-width="1" />
<path d="M178.18,264.25 L176.18,268.05 L180.18,268.05 Z" fill="#3fae49" stroke="none" stroke-width="1" />
<path d="M181.73,262.91 L179.73,266.71 L183.73,266.71 Z" fill="#3fae49" stroke="none" stroke-width="1" />
<path d="M185.28,266.64 L183.28,270.44 L187.28,270.44 Z" fill="#3fae49" stroke="none" stroke-width="1" />
<path d="M188.83,267.10 L186.83,270.90 L190.83,270.90 Z" fill="#3fae49" stroke="none" stroke-width="1" />
<path d="M192.38,267.13 L190.38,270.93 L194.38,270.93 Z" fill="#3fae49" stroke="none" stroke-width="1" />
<path d="M195.92,270.33 L193.92,274.13 L197.92,274.13 Z" fill="#3fae49" stroke="none" stroke-width="1" />
<path d="M199.47,269.21 L197.47,273.01 L201.47,273.01 Z" fill="#3fae49" stroke="none" stroke-width="1" />
<path d="M203.02,271.36 L201.02,275.16 L205.02,275.16 Z" fill="#3fae49" stroke="none" stroke-width="1" />
<path d="M206.57,273.12 L204.57,276.92 L208.57,276.92 Z" fill="#3fae49" stroke="none" stroke-width="1" />
<path d="M210.12,271.11 L208.12,274.91 L212.12,274.91 Z" fill="#3fae49" stroke="none" stroke-width="1" />
<path d="M213.67,275.17 L211.67,278.97 L215.67,278.97 Z" fill="#3fae49" stroke="none" stroke-width="1" />
<path d="M217.22,274.98 L215.22,278.78 L219.22,278.78 Z" fill="#3fae49" stroke="none" stroke-width="1" />
<path d="M220.77,273.11 L218.77,276.91 L222.77,276.91 Z" fill="#3fae49" stroke="none" stroke-width="1" />
<path d="M224.31,277.98 L222.31,281.78 L226.31,281.78 Z" fill="#3fae49" stroke="none" stroke-width="1" />
<path d="M227.86,275.89 L225.86,279.69 L229.86,279.69 Z" fill="#3fae49" stroke="none" stroke-width="1" />
<path d="M231.41,275.08 L229.41,278.88 L233.41,278.88 Z" fill="#3fae49" stroke="none" stroke-width="1" />
<path d="M68.17,221.43 L66.27,217.82 L70.07,217.82 Z" fill="#7b3fb5" stroke="none" stroke-width="1" />
<path d="M71.72,222.38 L69.82,218.77 L73.62,218.77 Z" fill="#7b3fb5" stroke="none" stroke-width="1" />
<path d="M75.27,221.81 L73.37,218.20 L77.17,218.20 Z" fill="#7b3fb5" stroke="none" stroke-width="1" />
<path d="M78.82,222.50 L76.92,218.89 L80.72,218.89 Z" fill="#7b3fb5" stroke="none" stroke-width="1" />
<path d="M82.36,223.86 L80.46,220.25 L84.27,220.25 Z" fill="#7b3fb5" stroke="none" stroke-width="1" />
<path d="M85.91,223.35 L84.01,219.74 L87.81,219.74 Z" fill="#7b3fb5" stroke="none" stroke-width="1" />
<path d="M89.46,225.05 L87.56,221.44 L91.36,221.44 Z" fill="#7b3fb5" stroke="none" stroke-width="1" />
<path d="M93.01,226.65 L91.11,223.04 L94.91,223.04 Z" fill="#7b3fb5" stroke="none" stroke-width="1" />
<path d="M96.56,226.78 L94.66,223.17 L98.46,223.17 Z" fill="#7b3fb5" stroke="none" stroke-width="1" />
<path d="M100.11,229.54 L98.21,225.93 L102.01,225.93 Z" fill="#7b3fb5" stroke="none" stroke-width="1" />
<path d="M103.66,231.34 L101.76,227.73 L105.56,227.73 Z" fill="#7b3fb5" stroke="none" stroke-width="1" />
<path d="M107.21,232.84 L105.31,229.23 L109.11,229.23 Z" fill="#7b3fb5" stroke="none" stroke-width="1" />
<path d="M110.75,235.69 L108.85,232.08 L112.66,232.08 Z" fill="#7b3fb5" stroke="none" stroke-width="1" />
<path d="M114.30,236.68 L112.40,233.07 L116.20,233.07 Z" fill="#7b3fb5" stroke="none" stroke-width="1" />
<path d="M117.85,238.95 L115.95,235.34 L119.75,235.34 Z" fill="#7b3fb5" stroke="none" stroke-width="1" />
<path d="M121.40,241.37 L119.50,237.76 L123.30,237.76 Z" fill="#7b3fb5" stroke="none" stroke-width="1" />
<path d="M124.95,242.11 L123.05,238.50 L126.85,238.50 Z" fill="#7b3fb5" stroke="none" stroke-width="1" />
<path d="M128.50,245.50 L126.60,241.89 L130.40,241.89 Z" fill="#7b3fb5" stroke="none" stroke-width="1" />
<path d="M132.05,247.32 L130.15,243.71 L133.95,243.71 Z" fill="#7b3fb5" stroke="none" stroke-width="1" />
<path d="M135.60,248.28 L133.70,244.67 L137.50,244.67 Z" fill="#7b3fb5" stroke="none" stroke-width="1" />
<path d="M139.14,252.40 L137.24,248.79 L141.04,248.79 Z" fill="#7b3fb5" stroke="none" stroke-width="1" />
<path d="M142.69,253.23 L140.79,249.62 L144.59,249.62 Z" fill="#7b3fb5" stroke="none" stroke-width="1" />
<path d="M146.24,254.49 L144.34,250.88 L148.14,250.88 Z" fill="#7b3fb5" stroke="none" stroke-width="1" />
<path d="M149.79,258.23 L147.89,254.62 L151.69,254.62 Z" fill="#7b3fb5" stroke="none" stroke-width="1" />
<path d="M153.34,258.70 L151.44,255.09 L155.24,255.09 Z" fill="#7b3fb5" stroke="none" stroke-width="1" />
<path d="M156.89,261.02 L154.99,257.41 L158.79,257.41 Z" fill="#7b3fb5" stroke="none" stroke-width="1" />
<path d="M160.44,263.99 L158.54,260.38 L162.34,260.38 Z" fill="#7b3fb5" stroke="none" stroke-width="1" />
<path d="M163.99,264.28 L162.09,260.67 L165.89,260.67 Z" fill="#7b3fb5" stroke="none" stroke-width="1" />
<path d="M167.53,267.24 L165.63,263.63 L169.44,263.63 Z" fill="#7b3fb5" stroke="none" stroke-width="1" />
<path d="M171.08,268.50 L169.18,264.89 L172.98,264.89 Z" fill="#7b3fb5" stroke="none" stroke-width="1" />
<path d="M174.63,269.19 L172.73,265.58 L176.53,265.58 Z" fill="#7b3fb5" stroke="none" stroke-width="1" />
<path d="M178.18,272.42 L176.28,268.81 L180.08,268.81 Z" fill="#7b3fb5" stroke="none" stroke-width="1" />
<path d="M181.73,271.93 L179.83,268.32 L183.63,268.32 Z" fill="#7b3fb5" stroke="none" stroke-width="1" />
<path d="M185.28,273.40 L183.38,269.79 L187.18,269.79 Z" fill="#7b3fb5" stroke="none" stroke-width="1" />
<path d="M188.83,276.25 L186.93,272.64 L190.73,272.64 Z" fill="#7b3fb5" stroke="none" stroke-width="1" />
<path d="M192.38,274.60 L190.48,270.99 L194.28,270.99 Z" fill="#7b3fb5" stroke="none" stroke-width="1" />
<path d="M195.92,276.96 L194.02,273.35 L197.82,273.35 Z" fill="#7b3fb5" stroke="none" stroke-width="1" />
<path d="M199.47,278.84 L197.57,275.23 L201.37,275.23 Z" fill="#7b3fb5" stroke="none" stroke-width="1" />
<path d="M203.02,277.06 L201.12,273.45 L204.92,273.45 Z" fill="#7b3fb5" stroke="none" stroke-width="1" />
<path d="M206.57,279.72 L204.67,276.11 L208.47,276.11 Z" fill="#7b3fb5" stroke="none" stroke-width="1" />
<path d="M210.12,280.01 L208.22,276.40 L212.02,276.40 Z" fill="#7b3fb5" stroke="none" stroke-width="1" />
<path d="M213.67,279.08 L211.77,275.47 L215.57,275.47 Z" fill="#7b3fb5" stroke="none" stroke-width="1" />
<path d="M217.22,281.45 L215.32,277.84 L219.12,277.84 Z" fill="#7b3fb5" stroke="none" stroke-width="1" />
<path d="M220.77,280.30 L218.87,276.69 L222.67,276.69 Z" fill="#7b3fb5" stroke="none" stroke-width="1" />
<path d="M224.31,281.04 L222.41,277.43 L226.22,277.43 Z" fill="#7b3fb5" stroke="none" stroke-width="1" />
<path d="M227.86,282.33 L225.96,278.72 L229.76,278.72 Z" fill="#7b3fb5" stroke="none" stroke-width="1" />
<path d="M231.41,280.20 L229.51,276.59 L233.31,276.59 Z" fill="#7b3fb5" stroke="none" stroke-width="1" />
<circle cx="68.17" cy="219.22" r="2.0" fill="#2b7bb9" stroke="none" stroke-width="0" />
<circle cx="71.72" cy="220.42" r="2.0" fill="#2b7bb9" stroke="none" stroke-width="0" />
<circle cx="75.27" cy="219.62" r="2.0" fill="#2b7bb9" stroke="none" stroke-width="0" />
<circle cx="78.82" cy="220.39" r="2.0" fill="#2b7bb9" stroke="none" stroke-width="0" />
<circle cx="82.36" cy="222.07" r="2.0" fill="#2b7bb9" stroke="none" stroke-width="0" />
<circle cx="85.91" cy="221.24" r="2.0" fill="#2b7bb9" stroke="none" stroke-width="0" />
<circle cx="89.46" cy="223.26" r="2.0" fill="#2b7bb9" stroke="none" stroke-width="0" />
<circle cx="93.01" cy="225.14" r="2.0" fill="#2b7bb9" stroke="none" stroke-width="0" />
<circle cx="96.56" cy="225.00" r="2.0" fill="#2b7bb9" stroke="none" stroke-width="0" />
<circle cx="100.11" cy="228.23" r="2.0" fill="#2b7bb9" stroke="none" stroke-width="0" />
<circle cx="103.66" cy="230.15" r="2.0" fill="#2b7bb9" stroke="none" stroke-width="0" />
<circle cx="107.21" cy="231.56" r="2.0" fill="#2b7bb9" stroke="none" stroke-width="0" />
<circle cx="110.75" cy="234.85" r="2.0" fill="#2b7bb9" stroke="none" stroke-width="0" />
<circle cx="114.30" cy="235.68" r="2.0" fill="#2b7bb9" stroke="none" stroke-width="0" />
<circle cx="117.85" cy="238.10" r="2.0" fill="#2b7bb9" stroke="none" stroke-width="0" />
<circle cx="121.40" cy="240.82" r="2.0" fill="#2b7bb9" stroke="none" stroke-width="0" />
<circle cx="124.95" cy="241.26" r="2.0" fill="#2b7bb9" stroke="none" stroke-width="0" />
<circle cx="128.50" cy="245.15" r="2.0" fill="#2b7bb9" stroke="none" stroke-width="0" />
<circle cx="132.05" cy="246.94" r="2.0" fill="#2b7bb9" stroke="none" stroke-width="0" />
<circle cx="135.60" cy="247.48" r="2.0" fill="#2b7bb9" stroke="none" stroke-width="0" />
<circle cx="139.14" cy="252.26" r="2.0" fill="#2b7bb9" stroke="none" stroke-width="0" />
<circle cx="142.69" cy="252.87" r="2.0" fill="#2b7bb9" stroke="none" stroke-width="0" />
<circle cx="146.24" cy="253.97" r="2.0" fill="#2b7bb9" stroke="none" stroke-width="0" />
<circle cx="149.79" cy="258.48" r="2.0" fill="#2b7bb9" stroke="none" stroke-width="0" />
<circle cx="153.34" cy="258.36" r="2.0" fill="#2b7bb9" stroke="none" stroke-width="0" />
<circle cx="156.89" cy="260.61" r="2.0" fill="#2b7bb9" stroke="none" stroke-width="0" />
<circle cx="160.44" cy="263.90" r="2.0" fill="#2b7bb9" stroke="none" stroke-width="0" />
<circle cx="163.99" cy="263.69" r="2.0" fill="#2b7bb9" stroke="none" stroke-width="0" />
<circle cx="167.53" cy="267.01" r="2.0" fill="#2b7bb9" stroke="none" stroke-width="0" />
<circle cx="171.08" cy="268.22" r="2.0" fill="#2b7bb9" stroke="none" stroke-width="0" />
<circle cx="174.63" cy="268.53" r="2.0" fill="#2b7bb9" stroke="none" stroke-width="0" />
<circle cx="178.18" cy="272.29" r="2.0" fill="#2b7bb9" stroke="none" stroke-width="0" />
<circle cx="181.73" cy="271.20" r="2.0" fill="#2b7bb9" stroke="none" stroke-width="0" />
<circle cx="185.28" cy="272.66" r="2.0" fill="#2b7bb9" stroke="none" stroke-width="0" />
<circle cx="188.83" cy="276.08" r="2.0" fill="#2b7bb9" stroke="none" stroke-width="0" />
<circle cx="192.38" cy="273.47" r="2.0" fill="#2b7bb9" stroke="none" stroke-width="0" />
<circle cx="195.92" cy="276.07" r="2.0" fill="#2b7bb9" stroke="none" stroke-width="0" />
<circle cx="199.47" cy="278.18" r="2.0" fill="#2b7bb9" stroke="none" stroke-width="0" />
<circle cx="203.02" cy="275.32" r="2.0" fill="#2b7bb9" stroke="none" stroke-width="0" />
<circle cx="206.57" cy="278.54" r="2.0" fill="#2b7bb9" stroke="none" stroke-width="0" />
<circle cx="210.12" cy="278.73" r="2.0" fill="#2b7bb9" stroke="none" stroke-width="0" />
<circle cx="213.67" cy="277.10" r="2.0" fill="#2b7bb9" stroke="none" stroke-width="0" />
<circle cx="217.22" cy="280.09" r="2.0" fill="#2b7bb9" stroke="none" stroke-width="0" />
<circle cx="220.77" cy="278.42" r="2.0" fill="#2b7bb9" stroke="none" stroke-width="0" />
<circle cx="224.31" cy="279.09" r="2.0" fill="#2b7bb9" stroke="none" stroke-width="0" />
<circle cx="227.86" cy="280.81" r="2.0" fill="#2b7bb9" stroke="none" stroke-width="0" />
<circle cx="231.41" cy="277.88" r="2.0" fill="#2b7bb9" stroke="none" stroke-width="0" />
<path d="M66.50,219.38 L67.90,219.29 L69.31,219.25 L70.71,219.25 L72.11,219.30 L73.52,219.39 L74.92,219.53 L76.32,219.71 L77.73,219.94 L79.13,220.20 L80.53,220.50 L81.94,220.85 L83.34,221.23 L84.74,221.64 L86.15,222.09 L87.55,222.57 L88.95,223.09 L90.36,223.63 L91.76,224.20 L93.16,224.80 L94.57,225.43 L95.97,226.07 L97.37,226.74 L98.78,227.44 L100.18,228.15 L101.58,228.88 L102.99,229.62 L104.39,230.38 L105.79,231.16 L107.20,231.95 L108.60,232.75 L110.00,233.56 L111.41,234.37 L112.81,235.20 L114.21,236.03 L115.62,236.87 L117.02,237.72 L118.42,238.57 L119.83,239.42 L121.23,240.27 L122.63,241.13 L124.04,241.98 L125.44,242.84 L126.84,243.69 L128.25,244.54 L129.65,245.39 L131.05,246.24 L132.46,247.08 L133.86,247.92 L135.26,248.76 L136.67,249.59 L138.07,250.42 L139.47,251.24 L140.88,252.05 L142.28,252.86 L143.68,253.66 L145.09,254.45 L146.49,255.24 L147.89,256.02 L149.30,256.79 L150.70,257.55 L152.11,258.31 L153.51,259.05 L154.91,259.79 L156.32,260.52 L157.72,261.24 L159.12,261.95 L160.53,262.65 L161.93,263.34 L163.33,264.01 L164.74,264.68 L166.14,265.34 L167.54,265.99 L168.95,266.62 L170.35,267.24 L171.75,267.85 L173.16,268.45 L174.56,269.04 L175.96,269.61 L177.37,270.17 L178.77,270.72 L180.17,271.25 L181.58,271.76 L182.98,272.27 L184.38,272.75 L185.79,273.22 L187.19,273.68 L188.59,274.12 L190.00,274.54 L191.40,274.95 L192.80,275.34 L194.21,275.71 L195.61,276.06 L197.01,276.40 L198.42,276.72 L199.82,277.02 L201.22,277.30 L202.63,277.57 L204.03,277.81 L205.43,278.04 L206.84,278.25 L208.24,278.45 L209.64,278.63 L211.05,278.79 L212.45,278.93 L213.85,279.06 L215.26,279.18 L216.66,279.29 L218.06,279.38 L219.47,279.47 L220.87,279.54 L222.27,279.61 L223.68,279.68 L225.08,279.75 L226.48,279.81 L227.89,279.88 L229.29,279.96 L230.69,280.05 L232.10,280.16 L233.50,280.28" fill="none" stroke="#111" stroke-width="1.0" stroke-linejoin="round"/>
<path d="M66.50,219.37 L67.90,219.30 L69.31,219.27 L70.71,219.28 L72.11,219.33 L73.52,219.42 L74.92,219.54 L76.32,219.70 L77.73,219.90 L79.13,220.14 L80.53,220.41 L81.94,220.71 L83.34,221.05 L84.74,221.43 L86.15,221.83 L87.55,222.26 L88.95,222.73 L90.36,223.22 L91.76,223.74 L93.16,224.28 L94.57,224.85 L95.97,225.44 L97.37,226.06 L98.78,226.69 L100.18,227.35 L101.58,228.02 L102.99,228.71 L104.39,229.42 L105.79,230.14 L107.20,230.87 L108.60,231.62 L110.00,232.38 L111.41,233.15 L112.81,233.93 L114.21,234.72 L115.62,235.51 L117.02,236.31 L118.42,237.12 L119.83,237.93 L121.23,238.75 L122.63,239.57 L124.04,240.39 L125.44,241.21 L126.84,242.04 L128.25,242.86 L129.65,243.69 L131.05,244.51 L132.46,245.34 L133.86,246.16 L135.26,246.97 L136.67,247.79 L138.07,248.60 L139.47,249.41 L140.88,250.21 L142.28,251.01 L143.68,251.81 L145.09,252.59 L146.49,253.38 L147.89,254.15 L149.30,254.92 L150.70,255.69 L152.11,256.44 L153.51,257.19 L154.91,257.93 L156.32,258.67 L157.72,259.39 L159.12,260.11 L160.53,260.82 L161.93,261.52 L163.33,262.21 L164.74,262.89 L166.14,263.56 L167.54,264.22 L168.95,264.87 L170.35,265.51 L171.75,266.13 L173.16,266.75 L174.56,267.36 L175.96,267.95 L177.37,268.53 L178.77,269.10 L180.17,269.65 L181.58,270.20 L182.98,270.72 L184.38,271.24 L185.79,271.74 L187.19,272.22 L188.59,272.69 L190.00,273.15 L191.40,273.59 L192.80,274.01 L194.21,274.42 L195.61,274.81 L197.01,275.18 L198.42,275.54 L199.82,275.88 L201.22,276.21 L202.63,276.52 L204.03,276.81 L205.43,277.08 L206.84,277.33 L208.24,277.57 L209.64,277.80 L211.05,278.00 L212.45,278.19 L213.85,278.37 L215.26,278.53 L216.66,278.68 L218.06,278.82 L219.47,278.94 L220.87,279.05 L222.27,279.16 L223.68,279.25 L225.08,279.35 L226.48,279.43 L227.89,279.52 L229.29,279.61 L230.69,279.70 L232.10,279.79 L233.50,279.90" fill="none" stroke="#111" stroke-width="1.0" stroke-linejoin="round"/>
<path d="M66.50,219.37 L67.90,219.30 L69.31,219.27 L70.71,219.28 L72.11,219.31 L73.52,219.39 L74.92,219.49 L76.32,219.63 L77.73,219.80 L79.13,220.00 L80.53,220.24 L81.94,220.50 L83.34,220.79 L84.74,221.11 L86.15,221.46 L87.55,221.83 L88.95,222.23 L90.36,222.65 L91.76,223.10 L93.16,223.57 L94.57,224.06 L95.97,224.57 L97.37,225.10 L98.78,225.65 L100.18,226.22 L101.58,226.81 L102.99,227.42 L104.39,228.04 L105.79,228.67 L107.20,229.32 L108.60,229.98 L110.00,230.65 L111.41,231.34 L112.81,232.03 L114.21,232.74 L115.62,233.45 L117.02,234.17 L118.42,234.90 L119.83,235.64 L121.23,236.38 L122.63,237.13 L124.04,237.88 L125.44,238.64 L126.84,239.40 L128.25,240.17 L129.65,240.93 L131.05,241.70 L132.46,242.47 L133.86,243.24 L135.26,244.01 L136.67,244.78 L138.07,245.55 L139.47,246.31 L140.88,247.08 L142.28,247.84 L143.68,248.60 L145.09,249.36 L146.49,250.11 L147.89,250.86 L149.30,251.61 L150.70,252.35 L152.11,253.09 L153.51,253.82 L154.91,254.55 L156.32,255.27 L157.72,255.98 L159.12,256.69 L160.53,257.39 L161.93,258.09 L163.33,258.77 L164.74,259.45 L166.14,260.12 L167.54,260.79 L168.95,261.44 L170.35,262.09 L171.75,262.72 L173.16,263.35 L174.56,263.97 L175.96,264.57 L177.37,265.17 L178.77,265.76 L180.17,266.34 L181.58,266.90 L182.98,267.46 L184.38,268.00 L185.79,268.53 L187.19,269.05 L188.59,269.56 L190.00,270.06 L191.40,270.54 L192.80,271.01 L194.21,271.47 L195.61,271.92 L197.01,272.35 L198.42,272.77 L199.82,273.17 L201.22,273.56 L202.63,273.94 L204.03,274.30 L205.43,274.65 L206.84,274.99 L208.24,275.31 L209.64,275.62 L211.05,275.91 L212.45,276.19 L213.85,276.45 L215.26,276.71 L216.66,276.95 L218.06,277.17 L219.47,277.38 L220.87,277.58 L222.27,277.77 L223.68,277.95 L225.08,278.12 L226.48,278.27 L227.89,278.42 L229.29,278.55 L230.69,278.68 L232.10,278.80 L233.50,278.92" fill="none" stroke="#111" stroke-width="1.0" stroke-linejoin="round"/>
<path d="M66.50,219.35 L67.90,219.28 L69.31,219.25 L70.71,219.25 L72.11,219.29 L73.52,219.35 L74.92,219.44 L76.32,219.55 L77.73,219.70 L79.13,219.87 L80.53,220.06 L81.94,220.27 L83.34,220.51 L84.74,220.77 L86.15,221.05 L87.55,221.35 L88.95,221.67 L90.36,222.00 L91.76,222.35 L93.16,222.72 L94.57,223.10 L95.97,223.50 L97.37,223.91 L98.78,224.34 L100.18,224.78 L101.58,225.23 L102.99,225.69 L104.39,226.16 L105.79,226.64 L107.20,227.13 L108.60,227.64 L110.00,228.15 L111.41,228.67 L112.81,229.19 L114.21,229.73 L115.62,230.27 L117.02,230.82 L118.42,231.38 L119.83,231.94 L121.23,232.51 L122.63,233.08 L124.04,233.66 L125.44,234.25 L126.84,234.84 L128.25,235.44 L129.65,236.03 L131.05,236.64 L132.46,237.25 L133.86,237.86 L135.26,238.47 L136.67,239.09 L138.07,239.71 L139.47,240.34 L140.88,240.97 L142.28,241.60 L143.68,242.23 L145.09,242.87 L146.49,243.50 L147.89,244.14 L149.30,244.78 L150.70,245.43 L152.11,246.07 L153.51,246.71 L154.91,247.36 L156.32,248.01 L157.72,248.65 L159.12,249.30 L160.53,249.95 L161.93,250.59 L163.33,251.24 L164.74,251.88 L166.14,252.52 L167.54,253.17 L168.95,253.81 L170.35,254.44 L171.75,255.08 L173.16,255.71 L174.56,256.34 L175.96,256.97 L177.37,257.59 L178.77,258.20 L180.17,258.82 L181.58,259.42 L182.98,260.03 L184.38,260.62 L185.79,261.21 L187.19,261.80 L188.59,262.37 L190.00,262.94 L191.40,263.50 L192.80,264.05 L194.21,264.60 L195.61,265.13 L197.01,265.66 L198.42,266.18 L199.82,266.68 L201.22,267.18 L202.63,267.66 L204.03,268.13 L205.43,268.60 L206.84,269.05 L208.24,269.49 L209.64,269.91 L211.05,270.33 L212.45,270.73 L213.85,271.12 L215.26,271.50 L216.66,271.87 L218.06,272.22 L219.47,272.56 L220.87,272.89 L222.27,273.21 L223.68,273.52 L225.08,273.82 L226.48,274.10 L227.89,274.38 L229.29,274.65 L230.69,274.91 L232.10,275.16 L233.50,275.41" fill="none" stroke="#111" stroke-width="1.0" stroke-linejoin="round"/>
<path d="M66.50,219.31 L67.90,219.35 L69.31,219.40 L70.71,219.46 L72.11,219.52 L73.52,219.59 L74.92,219.66 L76.32,219.73 L77.73,219.81 L79.13,219.89 L80.53,219.98 L81.94,220.06 L83.34,220.15 L84.74,220.25 L86.15,220.34 L87.55,220.44 L88.95,220.53 L90.36,220.63 L91.76,220.73 L93.16,220.83 L94.57,220.93 L95.97,221.03 L97.37,221.12 L98.78,221.22 L100.18,221.32 L101.58,221.42 L102.99,221.51 L104.39,221.61 L105.79,221.70 L107.20,221.79 L108.60,221.88 L110.00,221.97 L111.41,222.06 L112.81,222.14 L114.21,222.23 L115.62,222.31 L117.02,222.38 L118.42,222.46 L119.83,222.54 L121.23,222.61 L122.63,222.68 L124.04,222.75 L125.44,222.81 L126.84,222.87 L128.25,222.93 L129.65,222.99 L131.05,223.05 L132.46,223.10 L133.86,223.16 L135.26,223.21 L136.67,223.25 L138.07,223.30 L139.47,223.34 L140.88,223.39 L142.28,223.43 L143.68,223.47 L145.09,223.50 L146.49,223.54 L147.89,223.57 L149.30,223.61 L150.70,223.64 L152.11,223.67 L153.51,223.70 L154.91,223.73 L156.32,223.76 L157.72,223.79 L159.12,223.82 L160.53,223.84 L161.93,223.87 L163.33,223.90 L164.74,223.93 L166.14,223.95 L167.54,223.98 L168.95,224.01 L170.35,224.04 L171.75,224.07 L173.16,224.10 L174.56,224.14 L175.96,224.17 L177.37,224.20 L178.77,224.24 L180.17,224.28 L181.58,224.32 L182.98,224.36 L184.38,224.40 L185.79,224.44 L187.19,224.49 L188.59,224.54 L190.00,224.59 L191.40,224.64 L192.80,224.70 L194.21,224.76 L195.61,224.82 L197.01,224.88 L198.42,224.94 L199.82,225.01 L201.22,225.08 L202.63,225.15 L204.03,225.23 L205.43,225.30 L206.84,225.38 L208.24,225.46 L209.64,225.55 L211.05,225.64 L212.45,225.72 L213.85,225.82 L215.26,225.91 L216.66,226.00 L218.06,226.10 L219.47,226.20 L220.87,226.30 L222.27,226.41 L223.68,226.51 L225.08,226.62 L226.48,226.72 L227.89,226.83 L229.29,226.94 L230.69,227.05 L232.10,227.16 L233.50,227.27" fill="none" stroke="#111" stroke-width="1.0" stroke-linejoin="round"/>
</g>
<circle cx="72.10" cy="244.90" r="2.1" fill="#2b7bb9" stroke="none" stroke-width="0" />
<path d="M72.10,249.71 L70.00,253.70 L74.20,253.70 Z" fill="#3fae49" stroke="none" stroke-width="1" />
<path d="M72.10,261.68 L70.10,257.88 L74.10,257.88 Z" fill="#7b3fb5" stroke="none" stroke-width="1" />
<path d="M72.10,264.50 L74.30,266.70 L72.10,268.90 L69.90,266.70 Z" fill="#f58220" stroke="none" stroke-width="1" />
<path d="M72.10,272.80 L73.70,274.40 L72.10,276.00 L70.50,274.40 Z" fill="#f0647a" stroke="none" stroke-width="1" />
<text x="81.20" y="247.20" font-size="6.5" fill="#111" text-anchor="start" font-weight="normal" font-style="normal" >5 K</text>
<text x="81.20" y="254.40" font-size="6.5" fill="#111" text-anchor="start" font-weight="normal" font-style="normal" >40 K</text>
<text x="81.20" y="261.70" font-size="6.5" fill="#111" text-anchor="start" font-weight="normal" font-style="normal" >100 K</text>
<text x="81.20" y="269.00" font-size="6.5" fill="#111" text-anchor="start" font-weight="normal" font-style="normal" >290 K</text>
<text x="81.20" y="276.70" font-size="6.5" fill="#111" text-anchor="start" font-weight="normal" font-style="normal" >5 K-LF-5 mT</text>
<text x="132.40" y="269.00" font-size="7.8" fill="#222" text-anchor="middle" font-weight="normal" font-style="normal" font-family='"Liberation Serif", "DejaVu Serif", serif' >Zero-field</text>
</g>
<g id="panel-f">
<text x="6.60" y="319.20" font-size="14.5" fill="#000" text-anchor="start" font-weight="bold" font-style="normal" >f</text>
<rect x="110.30" y="310.6" width="4.13" height="113.0" fill="#d2d2d2"/>
<rect x="71.2" y="310.6" width="155.10000000000002" height="113.0" fill="none" stroke="#444" stroke-width="0.7"/>
<line x1="71.60" y1="423.60" x2="71.60" y2="421.20" stroke="#444" stroke-width="0.6" />
<text x="71.60" y="434.60" font-size="8.2" fill="#111" text-anchor="middle" font-weight="normal" font-style="normal" >0</text>
<line x1="97.40" y1="423.60" x2="97.40" y2="421.20" stroke="#444" stroke-width="0.6" />
<text x="97.40" y="434.60" font-size="8.2" fill="#111" text-anchor="middle" font-weight="normal" font-style="normal" >50</text>
<line x1="123.20" y1="423.60" x2="123.20" y2="421.20" stroke="#444" stroke-width="0.6" />
<text x="123.20" y="434.60" font-size="8.2" fill="#111" text-anchor="middle" font-weight="normal" font-style="normal" >100</text>
<line x1="149.00" y1="423.60" x2="149.00" y2="421.20" stroke="#444" stroke-width="0.6" />
<text x="149.00" y="434.60" font-size="8.2" fill="#111" text-anchor="middle" font-weight="normal" font-style="normal" >150</text>
<line x1="174.80" y1="423.60" x2="174.80" y2="421.20" stroke="#444" stroke-width="0.6" />
<text x="174.80" y="434.60" font-size="8.2" fill="#111" text-anchor="middle" font-weight="normal" font-style="normal" >200</text>
<line x1="200.60" y1="423.60" x2="200.60" y2="421.20" stroke="#444" stroke-width="0.6" />
<text x="200.60" y="434.60" font-size="8.2" fill="#111" text-anchor="middle" font-weight="normal" font-style="normal" >250</text>
<line x1="226.40" y1="423.60" x2="226.40" y2="421.20" stroke="#444" stroke-width="0.6" />
<text x="226.40" y="434.60" font-size="8.2" fill="#111" text-anchor="middle" font-weight="normal" font-style="normal" >300</text>
<line x1="84.50" y1="423.60" x2="84.50" y2="422.20" stroke="#444" stroke-width="0.5" />
<line x1="110.30" y1="423.60" x2="110.30" y2="422.20" stroke="#444" stroke-width="0.5" />
<line x1="136.10" y1="423.60" x2="136.10" y2="422.20" stroke="#444" stroke-width="0.5" />
<line x1="161.90" y1="423.60" x2="161.90" y2="422.20" stroke="#444" stroke-width="0.5" />
<line x1="187.70" y1="423.60" x2="187.70" y2="422.20" stroke="#444" stroke-width="0.5" />
<line x1="213.50" y1="423.60" x2="213.50" y2="422.20" stroke="#444" stroke-width="0.5" />
<line x1="71.20" y1="414.30" x2="73.60" y2="414.30" stroke="#444" stroke-width="0.6" />
<text x="68.20" y="417.30" font-size="8.2" fill="#111" text-anchor="end" font-weight="normal" font-style="normal" >0.20</text>
<line x1="71.20" y1="393.56" x2="73.60" y2="393.56" stroke="#444" stroke-width="0.6" />
<text x="68.20" y="396.56" font-size="8.2" fill="#111" text-anchor="end" font-weight="normal" font-style="normal" >0.25</text>
<line x1="71.20" y1="372.82" x2="73.60" y2="372.82" stroke="#444" stroke-width="0.6" />
<text x="68.20" y="375.82" font-size="8.2" fill="#111" text-anchor="end" font-weight="normal" font-style="normal" >0.30</text>
<line x1="71.20" y1="352.08" x2="73.60" y2="352.08" stroke="#444" stroke-width="0.6" />
<text x="68.20" y="355.08" font-size="8.2" fill="#111" text-anchor="end" font-weight="normal" font-style="normal" >0.35</text>
<line x1="71.20" y1="331.34" x2="73.60" y2="331.34" stroke="#444" stroke-width="0.6" />
<text x="68.20" y="334.34" font-size="8.2" fill="#111" text-anchor="end" font-weight="normal" font-style="normal" >0.40</text>
<line x1="71.20" y1="310.60" x2="73.60" y2="310.60" stroke="#444" stroke-width="0.6" />
<text x="68.20" y="313.60" font-size="8.2" fill="#111" text-anchor="end" font-weight="normal" font-style="normal" >0.45</text>
<line x1="71.20" y1="403.93" x2="72.60" y2="403.93" stroke="#444" stroke-width="0.5" />
<line x1="71.20" y1="383.19" x2="72.60" y2="383.19" stroke="#444" stroke-width="0.5" />
<line x1="71.20" y1="362.45" x2="72.60" y2="362.45" stroke="#444" stroke-width="0.5" />
<line x1="71.20" y1="341.71" x2="72.60" y2="341.71" stroke="#444" stroke-width="0.5" />
<line x1="71.20" y1="320.97" x2="72.60" y2="320.97" stroke="#444" stroke-width="0.5" />
<text x="149.0" y="447.4" font-size="8.4" fill="#111" text-anchor="middle"><tspan font-style="italic">T</tspan> (K)</text>
<text transform="translate(46.00,367.20) rotate(-90)" font-size="8.4" fill="#111" text-anchor="middle" font-weight="normal" font-style="normal" >Relaxation rate (μs<tspan font-size="5.4" dy="-2.6">-1</tspan><tspan dy="2.6">)</tspan></text>
<text x="113.8" y="308.6" font-size="8.4" fill="#111" text-anchor="middle" font-style="italic" font-weight="bold" font-family='"Liberation Serif", "DejaVu Serif", serif'>T<tspan font-size="6.4" dy="-1.8" font-style="normal">*</tspan></text>
<path d="M72.63,421.15 L69.53,415.26 L75.73,415.26 Z" fill="#77ac30" stroke="none" stroke-width="1" />
<path d="M74.18,421.98 L71.08,416.09 L77.28,416.09 Z" fill="#77ac30" stroke="none" stroke-width="1" />
<path d="M75.73,422.81 L72.63,416.92 L78.83,416.92 Z" fill="#77ac30" stroke="none" stroke-width="1" />
<path d="M77.79,423.23 L74.69,417.34 L80.89,417.34 Z" fill="#77ac30" stroke="none" stroke-width="1" />
<path d="M79.86,423.64 L76.76,417.75 L82.96,417.75 Z" fill="#77ac30" stroke="none" stroke-width="1" />
<path d="M81.92,424.06 L78.82,418.17 L85.02,418.17 Z" fill="#77ac30" stroke="none" stroke-width="1" />
<path d="M84.50,424.89 L81.40,419.00 L87.60,419.00 Z" fill="#77ac30" stroke="none" stroke-width="1" />
<path d="M87.08,425.72 L83.98,419.83 L90.18,419.83 Z" fill="#77ac30" stroke="none" stroke-width="1" />
<path d="M89.66,425.72 L86.56,419.83 L92.76,419.83 Z" fill="#77ac30" stroke="none" stroke-width="1" />
<path d="M92.24,424.47 L89.14,418.58 L95.34,418.58 Z" fill="#77ac30" stroke="none" stroke-width="1" />
<path d="M94.82,423.23 L91.72,417.34 L97.92,417.34 Z" fill="#77ac30" stroke="none" stroke-width="1" />
<path d="M97.40,421.98 L94.30,416.09 L100.50,416.09 Z" fill="#77ac30" stroke="none" stroke-width="1" />
<path d="M99.98,420.32 L96.88,414.43 L103.08,414.43 Z" fill="#77ac30" stroke="none" stroke-width="1" />
<path d="M102.56,419.08 L99.46,413.19 L105.66,413.19 Z" fill="#77ac30" stroke="none" stroke-width="1" />
<path d="M105.14,417.83 L102.04,411.94 L108.24,411.94 Z" fill="#77ac30" stroke="none" stroke-width="1" />
<path d="M107.72,417.00 L104.62,411.11 L110.82,411.11 Z" fill="#77ac30" stroke="none" stroke-width="1" />
<path d="M112.88,416.17 L109.78,410.28 L115.98,410.28 Z" fill="#77ac30" stroke="none" stroke-width="1" />
<path d="M118.04,415.35 L114.94,409.46 L121.14,409.46 Z" fill="#77ac30" stroke="none" stroke-width="1" />
<path d="M123.20,415.35 L120.10,409.46 L126.30,409.46 Z" fill="#77ac30" stroke="none" stroke-width="1" />
<path d="M128.36,416.17 L125.26,410.28 L131.46,410.28 Z" fill="#77ac30" stroke="none" stroke-width="1" />
<path d="M133.52,415.76 L130.42,409.87 L136.62,409.87 Z" fill="#77ac30" stroke="none" stroke-width="1" />
<path d="M143.84,414.93 L140.74,409.04 L146.94,409.04 Z" fill="#77ac30" stroke="none" stroke-width="1" />
<path d="M154.16,416.17 L151.06,410.28 L157.26,410.28 Z" fill="#77ac30" stroke="none" stroke-width="1" />
<path d="M164.48,417.00 L161.38,411.11 L167.58,411.11 Z" fill="#77ac30" stroke="none" stroke-width="1" />
<path d="M174.80,416.59 L171.70,410.70 L177.90,410.70 Z" fill="#77ac30" stroke="none" stroke-width="1" />
<path d="M185.12,415.76 L182.02,409.87 L188.22,409.87 Z" fill="#77ac30" stroke="none" stroke-width="1" />
<path d="M195.44,417.83 L192.34,411.94 L198.54,411.94 Z" fill="#77ac30" stroke="none" stroke-width="1" />
<path d="M205.76,416.59 L202.66,410.70 L208.86,410.70 Z" fill="#77ac30" stroke="none" stroke-width="1" />
<path d="M216.08,416.17 L212.98,410.28 L219.18,410.28 Z" fill="#77ac30" stroke="none" stroke-width="1" />
<path d="M226.40,416.59 L223.30,410.70 L229.50,410.70 Z" fill="#77ac30" stroke="none" stroke-width="1" />
<rect x="70.18" y="384.47" width="4.9" height="4.9" fill="#9b30ff"/>
<rect x="71.73" y="388.21" width="4.9" height="4.9" fill="#9b30ff"/>
<rect x="73.28" y="392.35" width="4.9" height="4.9" fill="#9b30ff"/>
<rect x="75.34" y="395.67" width="4.9" height="4.9" fill="#9b30ff"/>
<rect x="77.41" y="398.99" width="4.9" height="4.9" fill="#9b30ff"/>
<rect x="79.99" y="402.72" width="4.9" height="4.9" fill="#9b30ff"/>
<rect x="83.08" y="406.46" width="4.9" height="4.9" fill="#9b30ff"/>
<rect x="86.18" y="407.70" width="4.9" height="4.9" fill="#9b30ff"/>
<rect x="89.27" y="406.04" width="4.9" height="4.9" fill="#9b30ff"/>
<rect x="92.37" y="400.24" width="4.9" height="4.9" fill="#9b30ff"/>
<rect x="95.47" y="396.50" width="4.9" height="4.9" fill="#9b30ff"/>
<rect x="98.56" y="394.84" width="4.9" height="4.9" fill="#9b30ff"/>
<rect x="101.66" y="393.60" width="4.9" height="4.9" fill="#9b30ff"/>
<rect x="105.27" y="392.35" width="4.9" height="4.9" fill="#9b30ff"/>
<rect x="110.43" y="392.35" width="4.9" height="4.9" fill="#9b30ff"/>
<rect x="115.59" y="393.18" width="4.9" height="4.9" fill="#9b30ff"/>
<rect x="120.75" y="393.60" width="4.9" height="4.9" fill="#9b30ff"/>
<rect x="125.91" y="394.43" width="4.9" height="4.9" fill="#9b30ff"/>
<rect x="131.07" y="394.84" width="4.9" height="4.9" fill="#9b30ff"/>
<rect x="141.39" y="395.26" width="4.9" height="4.9" fill="#9b30ff"/>
<rect x="151.71" y="396.92" width="4.9" height="4.9" fill="#9b30ff"/>
<rect x="156.87" y="397.75" width="4.9" height="4.9" fill="#9b30ff"/>
<rect x="162.03" y="398.58" width="4.9" height="4.9" fill="#9b30ff"/>
<rect x="172.35" y="399.82" width="4.9" height="4.9" fill="#9b30ff"/>
<rect x="182.67" y="401.48" width="4.9" height="4.9" fill="#9b30ff"/>
<rect x="192.99" y="403.97" width="4.9" height="4.9" fill="#9b30ff"/>
<rect x="203.31" y="406.04" width="4.9" height="4.9" fill="#9b30ff"/>
<rect x="213.63" y="408.53" width="4.9" height="4.9" fill="#9b30ff"/>
<path d="M72.63,376.75 L69.53,382.64 L75.73,382.64 Z" fill="#0072bd" stroke="none" stroke-width="1" />
<path d="M74.18,379.24 L71.08,385.13 L77.28,385.13 Z" fill="#0072bd" stroke="none" stroke-width="1" />
<path d="M76.76,381.32 L73.66,387.21 L79.86,387.21 Z" fill="#0072bd" stroke="none" stroke-width="1" />
<path d="M79.34,382.56 L76.24,388.45 L82.44,388.45 Z" fill="#0072bd" stroke="none" stroke-width="1" />
<path d="M81.92,383.80 L78.82,389.69 L85.02,389.69 Z" fill="#0072bd" stroke="none" stroke-width="1" />
<path d="M84.50,385.05 L81.40,390.94 L87.60,390.94 Z" fill="#0072bd" stroke="none" stroke-width="1" />
<path d="M87.08,386.29 L83.98,392.18 L90.18,392.18 Z" fill="#0072bd" stroke="none" stroke-width="1" />
<path d="M92.24,388.37 L89.14,394.26 L95.34,394.26 Z" fill="#0072bd" stroke="none" stroke-width="1" />
<path d="M97.40,390.03 L94.30,395.92 L100.50,395.92 Z" fill="#0072bd" stroke="none" stroke-width="1" />
<path d="M102.56,391.69 L99.46,397.58 L105.66,397.58 Z" fill="#0072bd" stroke="none" stroke-width="1" />
<path d="M107.72,391.69 L104.62,397.58 L110.82,397.58 Z" fill="#0072bd" stroke="none" stroke-width="1" />
<path d="M112.88,392.93 L109.78,398.82 L115.98,398.82 Z" fill="#0072bd" stroke="none" stroke-width="1" />
<path d="M118.04,394.17 L114.94,400.06 L121.14,400.06 Z" fill="#0072bd" stroke="none" stroke-width="1" />
<path d="M123.20,395.00 L120.10,400.89 L126.30,400.89 Z" fill="#0072bd" stroke="none" stroke-width="1" />
<path d="M133.52,397.49 L130.42,403.38 L136.62,403.38 Z" fill="#0072bd" stroke="none" stroke-width="1" />
<path d="M143.84,397.08 L140.74,402.97 L146.94,402.97 Z" fill="#0072bd" stroke="none" stroke-width="1" />
<path d="M154.16,399.15 L151.06,405.04 L157.26,405.04 Z" fill="#0072bd" stroke="none" stroke-width="1" />
<path d="M164.48,398.74 L161.38,404.63 L167.58,404.63 Z" fill="#0072bd" stroke="none" stroke-width="1" />
<path d="M174.80,399.98 L171.70,405.87 L177.90,405.87 Z" fill="#0072bd" stroke="none" stroke-width="1" />
<path d="M185.12,401.64 L182.02,407.53 L188.22,407.53 Z" fill="#0072bd" stroke="none" stroke-width="1" />
<path d="M195.44,404.13 L192.34,410.02 L198.54,410.02 Z" fill="#0072bd" stroke="none" stroke-width="1" />
<path d="M205.76,406.62 L202.66,412.51 L208.86,412.51 Z" fill="#0072bd" stroke="none" stroke-width="1" />
<path d="M216.08,407.45 L212.98,413.34 L219.18,413.34 Z" fill="#0072bd" stroke="none" stroke-width="1" />
<circle cx="72.63" cy="326.36" r="2.75" fill="#c80f14" stroke="none" stroke-width="0" />
<circle cx="74.18" cy="329.27" r="2.75" fill="#c80f14" stroke="none" stroke-width="0" />
<circle cx="76.76" cy="333.41" r="2.75" fill="#c80f14" stroke="none" stroke-width="0" />
<circle cx="79.34" cy="337.56" r="2.75" fill="#c80f14" stroke="none" stroke-width="0" />
<circle cx="81.92" cy="341.30" r="2.75" fill="#c80f14" stroke="none" stroke-width="0" />
<circle cx="84.50" cy="345.44" r="2.75" fill="#c80f14" stroke="none" stroke-width="0" />
<circle cx="87.08" cy="349.18" r="2.75" fill="#c80f14" stroke="none" stroke-width="0" />
<circle cx="92.24" cy="357.47" r="2.75" fill="#c80f14" stroke="none" stroke-width="0" />
<circle cx="94.82" cy="362.45" r="2.75" fill="#c80f14" stroke="none" stroke-width="0" />
<circle cx="97.40" cy="369.50" r="2.75" fill="#c80f14" stroke="none" stroke-width="0" />
<circle cx="99.98" cy="379.04" r="2.75" fill="#c80f14" stroke="none" stroke-width="0" />
<circle cx="102.56" cy="386.09" r="2.75" fill="#c80f14" stroke="none" stroke-width="0" />
<circle cx="105.14" cy="389.83" r="2.75" fill="#c80f14" stroke="none" stroke-width="0" />
<circle cx="107.72" cy="391.07" r="2.75" fill="#c80f14" stroke="none" stroke-width="0" />
<circle cx="112.88" cy="392.32" r="2.75" fill="#c80f14" stroke="none" stroke-width="0" />
<circle cx="118.04" cy="393.15" r="2.75" fill="#c80f14" stroke="none" stroke-width="0" />
<circle cx="123.20" cy="393.56" r="2.75" fill="#c80f14" stroke="none" stroke-width="0" />
<circle cx="128.36" cy="394.80" r="2.75" fill="#c80f14" stroke="none" stroke-width="0" />
<circle cx="133.52" cy="395.63" r="2.75" fill="#c80f14" stroke="none" stroke-width="0" />
<circle cx="143.84" cy="397.29" r="2.75" fill="#c80f14" stroke="none" stroke-width="0" />
<circle cx="154.16" cy="398.54" r="2.75" fill="#c80f14" stroke="none" stroke-width="0" />
<circle cx="164.48" cy="400.61" r="2.75" fill="#c80f14" stroke="none" stroke-width="0" />
<circle cx="185.12" cy="403.52" r="2.75" fill="#c80f14" stroke="none" stroke-width="0" />
<circle cx="200.60" cy="405.59" r="2.75" fill="#c80f14" stroke="none" stroke-width="0" />
<circle cx="213.50" cy="407.25" r="2.75" fill="#c80f14" stroke="none" stroke-width="0" />
<circle cx="226.40" cy="408.49" r="2.75" fill="#c80f14" stroke="none" stroke-width="0" />
<text x="196.6" y="321.2" font-size="8.2" fill="#111">KV<tspan font-size="5.6" dy="2">3</tspan><tspan dy="-2">Sb</tspan><tspan font-size="5.6" dy="2">5</tspan></text>
<path d="M198.60,334.63 L195.50,328.74 L201.70,328.74 Z" fill="#77ac30" stroke="none" stroke-width="1" />
<rect x="196.15" y="339.35" width="4.9" height="4.9" fill="#9b30ff"/>
<path d="M198.60,348.67 L195.50,354.56 L201.70,354.56 Z" fill="#0072bd" stroke="none" stroke-width="1" />
<circle cx="198.60" cy="362.30" r="2.75" fill="#c80f14" stroke="none" stroke-width="0" />
<text x="210.40" y="334.40" font-size="8.2" fill="#111" text-anchor="start" font-weight="normal" font-style="normal" >1 T</text>
<text x="210.40" y="344.70" font-size="8.2" fill="#111" text-anchor="start" font-weight="normal" font-style="normal" >3 T</text>
<text x="210.40" y="354.70" font-size="8.2" fill="#111" text-anchor="start" font-weight="normal" font-style="normal" >5 T</text>
<text x="210.40" y="365.20" font-size="8.2" fill="#111" text-anchor="start" font-weight="normal" font-style="normal" >8 T</text>
</g>
<g id="panel-d">
<text x="254.60" y="138.40" font-size="14.5" fill="#000" text-anchor="start" font-weight="bold" font-style="normal" >d</text>
<rect x="298.0" y="130.3" width="218.20000000000005" height="102.6" fill="url(#gMetal)"/>
<g clip-path="url(#clipD)">
<path d="M298.00,146.04 L300.42,148.84 L302.85,151.64 L305.27,154.44 L307.70,158.18 L310.12,160.98 L312.54,164.72 L314.97,172.19 L317.39,179.66 L319.82,182.46 L322.24,186.20 L324.66,189.94 L327.09,193.67 L329.51,197.41 L331.94,201.14 L334.36,205.35 L336.78,209.55 L339.21,214.22 L341.63,218.42 L344.06,222.16 L346.48,225.43 L347.69,232.90 L298.00,232.90 Z" fill="url(#gCDW)" stroke="none" stroke-width="1" />
<path d="M298.00,229.82 L305.27,228.60 L314.97,226.36 L319.82,226.36 L324.66,227.67 L331.94,227.39 L339.21,225.99 L346.48,225.52 L358.60,226.08 L370.72,227.02 L382.84,227.95 L421.62,229.26 L461.62,230.24 L506.46,230.85 L516.16,230.94 L516.20,232.90 L298.00,232.90 Z" fill="#e8801e" stroke="none" stroke-width="1" />
<circle cx="298.80" cy="146.04" r="1.5" fill="#1428d2" stroke="none" stroke-width="0" />
<circle cx="301.22" cy="148.84" r="1.5" fill="#1428d2" stroke="none" stroke-width="0" />
<circle cx="303.65" cy="151.64" r="1.5" fill="#1428d2" stroke="none" stroke-width="0" />
<circle cx="306.07" cy="154.44" r="1.5" fill="#1428d2" stroke="none" stroke-width="0" />
<circle cx="308.50" cy="158.18" r="1.5" fill="#1428d2" stroke="none" stroke-width="0" />
<circle cx="310.92" cy="160.98" r="1.5" fill="#1428d2" stroke="none" stroke-width="0" />
<circle cx="313.34" cy="164.72" r="1.5" fill="#1428d2" stroke="none" stroke-width="0" />
<circle cx="315.77" cy="172.19" r="1.5" fill="#1428d2" stroke="none" stroke-width="0" />
<circle cx="318.19" cy="179.66" r="1.5" fill="#1428d2" stroke="none" stroke-width="0" />
<circle cx="320.62" cy="182.46" r="1.5" fill="#1428d2" stroke="none" stroke-width="0" />
<circle cx="323.04" cy="186.20" r="1.5" fill="#1428d2" stroke="none" stroke-width="0" />
<circle cx="325.46" cy="189.94" r="1.5" fill="#1428d2" stroke="none" stroke-width="0" />
<circle cx="327.89" cy="193.67" r="1.5" fill="#1428d2" stroke="none" stroke-width="0" />
<circle cx="330.31" cy="197.41" r="1.5" fill="#1428d2" stroke="none" stroke-width="0" />
<circle cx="332.74" cy="201.14" r="1.5" fill="#1428d2" stroke="none" stroke-width="0" />
<circle cx="335.16" cy="205.35" r="1.5" fill="#1428d2" stroke="none" stroke-width="0" />
<circle cx="337.58" cy="209.55" r="1.5" fill="#1428d2" stroke="none" stroke-width="0" />
<circle cx="340.01" cy="214.22" r="1.5" fill="#1428d2" stroke="none" stroke-width="0" />
<circle cx="342.43" cy="218.42" r="1.5" fill="#1428d2" stroke="none" stroke-width="0" />
<circle cx="344.86" cy="222.16" r="1.5" fill="#1428d2" stroke="none" stroke-width="0" />
<circle cx="347.28" cy="225.43" r="1.5" fill="#1428d2" stroke="none" stroke-width="0" />
<circle cx="298.00" cy="229.52" r="1.0" fill="#1428d2" stroke="none" stroke-width="0" />
<circle cx="300.42" cy="229.91" r="1.0" fill="#1428d2" stroke="none" stroke-width="0" />
<circle cx="302.85" cy="228.71" r="1.0" fill="#1428d2" stroke="none" stroke-width="0" />
<circle cx="305.27" cy="229.10" r="1.0" fill="#1428d2" stroke="none" stroke-width="0" />
<circle cx="307.70" cy="227.74" r="1.0" fill="#1428d2" stroke="none" stroke-width="0" />
<circle cx="310.12" cy="227.98" r="1.0" fill="#1428d2" stroke="none" stroke-width="0" />
<circle cx="312.54" cy="226.62" r="1.0" fill="#1428d2" stroke="none" stroke-width="0" />
<circle cx="314.97" cy="226.86" r="1.0" fill="#1428d2" stroke="none" stroke-width="0" />
<circle cx="317.39" cy="226.06" r="1.0" fill="#1428d2" stroke="none" stroke-width="0" />
<circle cx="319.82" cy="226.86" r="1.0" fill="#1428d2" stroke="none" stroke-width="0" />
<circle cx="322.24" cy="226.72" r="1.0" fill="#1428d2" stroke="none" stroke-width="0" />
<circle cx="324.66" cy="228.17" r="1.0" fill="#1428d2" stroke="none" stroke-width="0" />
<circle cx="327.09" cy="227.28" r="1.0" fill="#1428d2" stroke="none" stroke-width="0" />
<circle cx="329.51" cy="227.98" r="1.0" fill="#1428d2" stroke="none" stroke-width="0" />
<circle cx="331.94" cy="227.09" r="1.0" fill="#1428d2" stroke="none" stroke-width="0" />
<circle cx="334.36" cy="227.42" r="1.0" fill="#1428d2" stroke="none" stroke-width="0" />
<circle cx="336.78" cy="226.16" r="1.0" fill="#1428d2" stroke="none" stroke-width="0" />
<circle cx="339.21" cy="226.49" r="1.0" fill="#1428d2" stroke="none" stroke-width="0" />
<circle cx="341.63" cy="225.53" r="1.0" fill="#1428d2" stroke="none" stroke-width="0" />
<circle cx="344.06" cy="226.18" r="1.0" fill="#1428d2" stroke="none" stroke-width="0" />
<circle cx="346.48" cy="225.22" r="1.0" fill="#1428d2" stroke="none" stroke-width="0" />
<circle cx="348.90" cy="226.13" r="1.0" fill="#1428d2" stroke="none" stroke-width="0" />
<circle cx="351.33" cy="225.45" r="1.0" fill="#1428d2" stroke="none" stroke-width="0" />
<circle cx="353.75" cy="226.36" r="1.0" fill="#1428d2" stroke="none" stroke-width="0" />
<circle cx="356.18" cy="225.67" r="1.0" fill="#1428d2" stroke="none" stroke-width="0" />
<circle cx="311.33" cy="227.60" r="0.8" fill="#6ccf2c" stroke="none" stroke-width="0" />
<circle cx="327.09" cy="227.98" r="0.8" fill="#6ccf2c" stroke="none" stroke-width="0" />
<circle cx="334.36" cy="227.32" r="0.8" fill="#6ccf2c" stroke="none" stroke-width="0" />
<circle cx="322.24" cy="227.02" r="1.05" fill="#f032e6" stroke="none" stroke-width="0" />
<circle cx="330.72" cy="227.44" r="1.05" fill="#f032e6" stroke="none" stroke-width="0" />
<circle cx="336.78" cy="226.46" r="1.05" fill="#f032e6" stroke="none" stroke-width="0" />
<circle cx="368.30" cy="226.83" r="1.05" fill="#f032e6" stroke="none" stroke-width="0" />
<circle cx="382.84" cy="227.95" r="1.05" fill="#f032e6" stroke="none" stroke-width="0" />
<circle cx="421.62" cy="229.26" r="1.05" fill="#f032e6" stroke="none" stroke-width="0" />
<circle cx="461.62" cy="230.24" r="1.05" fill="#f032e6" stroke="none" stroke-width="0" />
<circle cx="506.46" cy="230.85" r="1.05" fill="#f032e6" stroke="none" stroke-width="0" />
</g>
<rect x="342.4" y="143.0" width="22.8" height="8.0" fill="url(#gBar)"/>
<text x="339.60" y="162.00" font-size="8.4" fill="#1c2c5c" text-anchor="middle" font-weight="normal" font-style="normal" >80</text>
<text x="367.20" y="162.00" font-size="8.4" fill="#1c2c5c" text-anchor="middle" font-weight="normal" font-style="normal" >210</text>
<text x="351.2" y="174.6" font-size="7.6" fill="#1c2c5c" text-anchor="middle"><tspan font-style="italic">MR</tspan> ( %)</text>
<text x="432.80" y="171.80" font-size="9.6" fill="#18243c" text-anchor="middle" font-weight="normal" font-style="normal" >Metal</text>
<circle cx="407.70" cy="190.90" r="1.5" fill="#1428d2" stroke="none" stroke-width="0" />
<text x="421.6" y="193.8" font-size="7.2" fill="#1428d2" font-weight="bold"><tspan font-style="italic">T*</tspan></text>
<text x="438.60" y="193.90" font-size="7.6" fill="#2447c8" text-anchor="start" font-weight="normal" font-style="normal" textLength="30.2" lengthAdjust="spacingAndGlyphs">S1 (PCC)</text>
<text x="314.60" y="212.40" font-size="10.0" fill="#35140c" text-anchor="middle" font-weight="normal" font-style="normal" >CDW</text>
<text x="372.80" y="220.30" font-size="9.4" fill="#111" text-anchor="middle" font-weight="normal" font-style="normal" >SC</text>
<line x1="364.60" y1="221.60" x2="353.60" y2="230.00" stroke="#111" stroke-width="0.9" />
<rect x="298.0" y="232.9" width="218.20000000000005" height="103.79999999999998" fill="#fff"/>
<g clip-path="url(#clipTc)">
<path d="M298.00,311.76 L302.85,302.30 L307.70,291.98 L312.54,282.52 L316.18,277.36 L319.82,273.92 L322.24,274.78 L324.18,279.94 L325.88,285.96 L327.57,289.40 L330.00,288.54 L333.15,285.10 L336.78,279.08 L339.21,273.06 L341.63,269.62 L344.06,268.33 L346.48,267.90 L350.12,268.76 L356.18,271.34 L361.02,274.78 L368.30,280.80 L375.57,285.96 L382.84,290.69 L394.96,296.28 L421.62,303.16 L443.44,308.32 L461.62,311.76 L491.92,316.06 L506.46,317.78 L516.16,318.64 L516.20,336.70 L298.00,336.70 Z" fill="#f5b487" stroke="none" stroke-width="1" />
<path d="M298.00,315.20 L301.64,308.32 L305.27,300.58 L308.91,292.84 L312.54,286.39 L315.45,283.38 L317.88,282.95 L320.30,285.96 L322.24,292.84 L324.18,302.30 L326.12,310.04 L328.30,307.89 L331.94,303.16 L335.57,299.72 L338.72,294.56 L341.15,285.96 L343.57,276.50 L346.48,273.06 L351.33,272.20 L357.39,274.78 L363.45,279.94 L370.72,286.39 L382.84,294.13 L394.96,299.72 L421.62,307.03 L443.44,311.76 L461.62,315.20 L491.92,319.50 L516.16,322.08 L516.20,336.70 L298.00,336.70 Z" fill="#e8801e" stroke="none" stroke-width="1" />
</g>
<rect x="296.26" y="305.13" width="3.3" height="3.3" fill="#1428d2"/>
<rect x="298.71" y="301.93" width="3.3" height="3.3" fill="#1428d2"/>
<rect x="301.53" y="297.60" width="3.3" height="3.3" fill="#1428d2"/>
<rect x="304.35" y="293.83" width="3.3" height="3.3" fill="#1428d2"/>
<rect x="307.18" y="289.12" width="3.3" height="3.3" fill="#1428d2"/>
<rect x="310.00" y="284.42" width="3.3" height="3.3" fill="#1428d2"/>
<rect x="312.83" y="280.65" width="3.3" height="3.3" fill="#1428d2"/>
<rect x="316.59" y="273.69" width="3.3" height="3.3" fill="#1428d2"/>
<rect x="319.42" y="272.74" width="3.3" height="3.3" fill="#1428d2"/>
<rect x="321.87" y="272.18" width="3.3" height="3.3" fill="#1428d2"/>
<rect x="325.07" y="275.00" width="3.3" height="3.3" fill="#1428d2"/>
<rect x="327.89" y="286.87" width="3.3" height="3.3" fill="#1428d2"/>
<rect x="332.60" y="283.48" width="3.3" height="3.3" fill="#1428d2"/>
<rect x="337.30" y="268.04" width="3.3" height="3.3" fill="#1428d2"/>
<rect x="340.13" y="267.10" width="3.3" height="3.3" fill="#1428d2"/>
<rect x="342.95" y="266.91" width="3.3" height="3.3" fill="#1428d2"/>
<rect x="345.78" y="266.15" width="3.3" height="3.3" fill="#1428d2"/>
<rect x="350.49" y="269.35" width="3.3" height="3.3" fill="#1428d2"/>
<rect x="355.19" y="269.92" width="3.3" height="3.3" fill="#1428d2"/>
<rect x="297.51" y="309.21" width="3.8" height="3.8" fill="#6ccf2c"/>
<rect x="306.93" y="283.23" width="3.8" height="3.8" fill="#6ccf2c"/>
<rect x="311.64" y="274.75" width="3.8" height="3.8" fill="#6ccf2c"/>
<rect x="313.90" y="274.19" width="3.8" height="3.8" fill="#6ccf2c"/>
<rect x="321.05" y="276.64" width="3.8" height="3.8" fill="#6ccf2c"/>
<rect x="324.25" y="287.93" width="3.8" height="3.8" fill="#6ccf2c"/>
<rect x="322.93" y="305.82" width="3.8" height="3.8" fill="#6ccf2c"/>
<path d="M298.47,311.15 L296.52,314.85 L300.42,314.85 Z" fill="#1428d2" stroke="none" stroke-width="1" />
<path d="M301.30,304.56 L299.35,308.26 L303.25,308.26 Z" fill="#1428d2" stroke="none" stroke-width="1" />
<path d="M304.12,300.79 L302.17,304.50 L306.07,304.50 Z" fill="#1428d2" stroke="none" stroke-width="1" />
<path d="M306.95,297.02 L305.00,300.73 L308.90,300.73 Z" fill="#1428d2" stroke="none" stroke-width="1" />
<path d="M309.77,291.38 L307.82,295.08 L311.72,295.08 Z" fill="#1428d2" stroke="none" stroke-width="1" />
<path d="M312.59,286.67 L310.64,290.37 L314.54,290.37 Z" fill="#1428d2" stroke="none" stroke-width="1" />
<path d="M315.42,281.02 L313.47,284.73 L317.37,284.73 Z" fill="#1428d2" stroke="none" stroke-width="1" />
<path d="M318.24,281.02 L316.29,284.73 L320.19,284.73 Z" fill="#1428d2" stroke="none" stroke-width="1" />
<path d="M321.07,295.14 L319.12,298.85 L323.02,298.85 Z" fill="#1428d2" stroke="none" stroke-width="1" />
<path d="M323.89,306.44 L321.94,310.14 L325.84,310.14 Z" fill="#1428d2" stroke="none" stroke-width="1" />
<path d="M326.72,307.38 L324.77,311.09 L328.67,311.09 Z" fill="#1428d2" stroke="none" stroke-width="1" />
<path d="M329.54,302.67 L327.59,306.38 L331.49,306.38 Z" fill="#1428d2" stroke="none" stroke-width="1" />
<path d="M334.25,298.91 L332.30,302.61 L336.20,302.61 Z" fill="#1428d2" stroke="none" stroke-width="1" />
<path d="M337.07,297.97 L335.12,301.67 L339.02,301.67 Z" fill="#1428d2" stroke="none" stroke-width="1" />
<path d="M339.90,291.38 L337.95,295.08 L341.85,295.08 Z" fill="#1428d2" stroke="none" stroke-width="1" />
<path d="M342.34,283.84 L340.39,287.55 L344.29,287.55 Z" fill="#1428d2" stroke="none" stroke-width="1" />
<path d="M344.60,272.55 L342.65,276.25 L346.55,276.25 Z" fill="#1428d2" stroke="none" stroke-width="1" />
<path d="M352.14,270.66 L350.19,274.37 L354.09,274.37 Z" fill="#1428d2" stroke="none" stroke-width="1" />
<path d="M356.84,271.23 L354.89,274.93 L358.79,274.93 Z" fill="#1428d2" stroke="none" stroke-width="1" />
<rect x="306.24" y="283.48" width="3.3" height="3.3" fill="#f032e6"/>
<rect x="333.16" y="268.04" width="3.3" height="3.3" fill="#f032e6"/>
<rect x="366.49" y="278.77" width="3.3" height="3.3" fill="#f032e6"/>
<path d="M334.25,293.82 L332.30,297.53 L336.20,297.53 Z" fill="#f032e6" stroke="none" stroke-width="1" />
<path d="M368.14,287.05 L366.19,290.75 L370.09,290.75 Z" fill="#f032e6" stroke="none" stroke-width="1" />
<rect x="380.95" y="289.47" width="3.3" height="3.3" fill="#f032e6"/>
<rect x="419.73" y="301.51" width="3.3" height="3.3" fill="#f032e6"/>
<rect x="459.97" y="310.54" width="3.3" height="3.3" fill="#f032e6"/>
<rect x="503.84" y="316.13" width="3.3" height="3.3" fill="#f032e6"/>
<path d="M382.60,295.78 L380.65,299.48 L384.55,299.48 Z" fill="#f032e6" stroke="none" stroke-width="1" />
<path d="M421.38,308.94 L419.43,312.64 L423.33,312.64 Z" fill="#f032e6" stroke="none" stroke-width="1" />
<path d="M461.62,316.42 L459.67,320.12 L463.57,320.12 Z" fill="#f032e6" stroke="none" stroke-width="1" />
<text x="315.80" y="268.80" font-size="11" fill="#111" text-anchor="middle" font-weight="normal" font-style="normal" >P1</text>
<text x="346.80" y="262.60" font-size="11" fill="#111" text-anchor="middle" font-weight="normal" font-style="normal" >P2</text>
<text x="374.20" y="321.20" font-size="13" fill="#2a1208" text-anchor="middle" font-weight="normal" font-style="normal" >SC</text>
<rect x="389.65" y="255.25" width="3.3" height="3.3" fill="#1428d2"/>
<path d="M431.20,254.51 L429.10,258.50 L433.30,258.50 Z" fill="#1428d2" stroke="none" stroke-width="1" />
<text x="403.6" y="259.5" font-size="7" fill="#2447c8" font-style="italic" font-weight="bold">T<tspan font-size="4" dy="1.6" font-style="normal" font-weight="normal">C</tspan><tspan font-size="3.8" dy="-5.2" dx="-2.6" font-style="normal" font-weight="normal">onset</tspan></text>
<text x="443.6" y="259.5" font-size="7" fill="#2447c8" font-style="italic" font-weight="bold">T<tspan font-size="4" dy="1.6" font-style="normal" font-weight="normal">C</tspan><tspan font-size="3.8" dy="-5.2" dx="-2.6" font-style="normal" font-weight="normal">zero</tspan></text>
<text x="466.20" y="259.40" font-size="7.0" fill="#2447c8" text-anchor="start" font-weight="normal" font-style="normal" textLength="25.6" lengthAdjust="spacingAndGlyphs">S1 (PCC)</text>
<rect x="389.65" y="267.85" width="3.3" height="3.3" fill="#f032e6"/>
<path d="M431.20,267.11 L429.10,271.10 L433.30,271.10 Z" fill="#f032e6" stroke="none" stroke-width="1" />
<text x="403.6" y="272.1" font-size="7" fill="#ee44dd" font-style="italic" font-weight="bold">T<tspan font-size="4" dy="1.6" font-style="normal" font-weight="normal">C</tspan><tspan font-size="3.8" dy="-5.2" dx="-2.6" font-style="normal" font-weight="normal">onset</tspan></text>
<text x="443.6" y="272.1" font-size="7" fill="#ee44dd" font-style="italic" font-weight="bold">T<tspan font-size="4" dy="1.6" font-style="normal" font-weight="normal">C</tspan><tspan font-size="3.8" dy="-5.2" dx="-2.6" font-style="normal" font-weight="normal">zero</tspan></text>
<text x="466.20" y="272.00" font-size="7.0" fill="#ee44dd" text-anchor="start" font-weight="normal" font-style="normal" textLength="25.6" lengthAdjust="spacingAndGlyphs">S2 (DAC)</text>
<rect x="389.65" y="280.65" width="3.3" height="3.3" fill="#6ccf2c"/>
<path d="M431.20,279.91 L429.10,283.90 L433.30,283.90 Z" fill="#4fae1e" stroke="none" stroke-width="1" />
<text x="403.6" y="284.9" font-size="7" fill="#66cc33" font-style="italic" font-weight="bold">T<tspan font-size="4" dy="1.6" font-style="normal" font-weight="normal">C</tspan><tspan font-size="3.8" dy="-5.2" dx="-2.6" font-style="normal" font-weight="normal">M1</tspan></text>
<text x="443.6" y="284.9" font-size="7" fill="#66cc33" font-style="italic" font-weight="bold">T<tspan font-size="4" dy="1.6" font-style="normal" font-weight="normal">C</tspan><tspan font-size="3.8" dy="-5.2" dx="-2.6" font-style="normal" font-weight="normal">M2</tspan></text>
<text x="466.20" y="284.80" font-size="7.0" fill="#66cc33" text-anchor="start" font-weight="normal" font-style="normal" textLength="35.0" lengthAdjust="spacingAndGlyphs">S3 (MPMS)</text>
<rect x="298.0" y="336.7" width="218.20000000000005" height="82.40000000000003" fill="#fff"/>
<path d="M298.00,413.61 L300.42,412.25 L303.33,408.59 L306.00,401.41 L309.39,393.96 L312.54,386.51 L315.45,374.99 L318.12,385.83 L320.79,398.70 L323.45,413.61 L326.36,409.14 L329.51,405.07 L333.88,400.74 L336.78,395.99 L339.69,387.86 L342.36,379.73 L344.54,374.99 L347.69,364.83 L352.54,373.63 L357.39,374.99 L365.87,391.25 L373.14,402.09 L382.36,409.54 L421.38,414.96" fill="none" stroke="#e0202a" stroke-width="1.1" stroke-dasharray="2.6 1.6" stroke-linejoin="round"/>
<line x1="315.45" y1="370.79" x2="315.45" y2="379.19" stroke="#8ec8f0" stroke-width="0.7" />
<line x1="314.25" y1="370.79" x2="316.65" y2="370.79" stroke="#8ec8f0" stroke-width="0.6" />
<line x1="347.69" y1="360.63" x2="347.69" y2="369.03" stroke="#8ec8f0" stroke-width="0.7" />
<line x1="346.49" y1="360.63" x2="348.89" y2="360.63" stroke="#8ec8f0" stroke-width="0.6" />
<line x1="357.39" y1="370.79" x2="357.39" y2="379.19" stroke="#8ec8f0" stroke-width="0.7" />
<line x1="356.19" y1="370.79" x2="358.59" y2="370.79" stroke="#8ec8f0" stroke-width="0.6" />
<line x1="352.54" y1="369.44" x2="352.54" y2="377.83" stroke="#8ec8f0" stroke-width="0.7" />
<line x1="351.34" y1="369.44" x2="353.74" y2="369.44" stroke="#8ec8f0" stroke-width="0.6" />
<circle cx="298.00" cy="413.61" r="1.95" fill="#1428d2" stroke="none" stroke-width="0" />
<circle cx="300.42" cy="412.25" r="1.95" fill="#1428d2" stroke="none" stroke-width="0" />
<circle cx="303.33" cy="408.59" r="1.95" fill="#1428d2" stroke="none" stroke-width="0" />
<circle cx="306.00" cy="401.41" r="1.95" fill="#1428d2" stroke="none" stroke-width="0" />
<circle cx="309.39" cy="393.96" r="1.95" fill="#1428d2" stroke="none" stroke-width="0" />
<circle cx="312.54" cy="386.51" r="1.95" fill="#1428d2" stroke="none" stroke-width="0" />
<circle cx="315.45" cy="374.99" r="1.95" fill="#1428d2" stroke="none" stroke-width="0" />
<circle cx="318.12" cy="385.83" r="1.95" fill="#1428d2" stroke="none" stroke-width="0" />
<circle cx="320.79" cy="398.70" r="1.95" fill="#1428d2" stroke="none" stroke-width="0" />
<circle cx="323.45" cy="413.61" r="1.95" fill="#1428d2" stroke="none" stroke-width="0" />
<circle cx="326.36" cy="409.14" r="1.95" fill="#1428d2" stroke="none" stroke-width="0" />
<circle cx="329.51" cy="405.07" r="1.95" fill="#1428d2" stroke="none" stroke-width="0" />
<circle cx="333.88" cy="400.74" r="1.95" fill="#1428d2" stroke="none" stroke-width="0" />
<circle cx="336.78" cy="395.99" r="1.95" fill="#1428d2" stroke="none" stroke-width="0" />
<circle cx="339.69" cy="387.86" r="1.95" fill="#1428d2" stroke="none" stroke-width="0" />
<circle cx="342.36" cy="379.73" r="1.95" fill="#1428d2" stroke="none" stroke-width="0" />
<circle cx="344.54" cy="374.99" r="1.95" fill="#1428d2" stroke="none" stroke-width="0" />
<circle cx="347.69" cy="364.83" r="1.95" fill="#1428d2" stroke="none" stroke-width="0" />
<circle cx="352.54" cy="373.63" r="1.95" fill="#1428d2" stroke="none" stroke-width="0" />
<circle cx="357.39" cy="374.99" r="1.95" fill="#1428d2" stroke="none" stroke-width="0" />
<line x1="377.76" y1="409.54" x2="386.96" y2="409.54" stroke="#f27ee8" stroke-width="0.7" />
<circle cx="382.36" cy="409.54" r="1.95" fill="#f032e6" stroke="none" stroke-width="0" />
<line x1="416.78" y1="414.96" x2="425.98" y2="414.96" stroke="#f27ee8" stroke-width="0.7" />
<circle cx="421.38" cy="414.96" r="1.95" fill="#f032e6" stroke="none" stroke-width="0" />
<circle cx="424.40" cy="358.80" r="1.95" fill="#1428d2" stroke="none" stroke-width="0" />
<text x="436.00" y="361.30" font-size="7.0" fill="#2447c8" text-anchor="start" font-weight="normal" font-style="normal" textLength="24.8" lengthAdjust="spacingAndGlyphs">S1 (PCC)</text>
<circle cx="424.40" cy="370.00" r="1.95" fill="#f032e6" stroke="none" stroke-width="0" />
<text x="436.00" y="372.50" font-size="7.0" fill="#ee44dd" text-anchor="start" font-weight="normal" font-style="normal" textLength="24.8" lengthAdjust="spacingAndGlyphs">S2 (DAC)</text>
<rect x="298.0" y="130.3" width="218.20000000000005" height="102.6" fill="none" stroke="#0a0a0a" stroke-width="1.5"/>
<rect x="298.0" y="232.9" width="218.20000000000005" height="103.79999999999998" fill="none" stroke="#0a0a0a" stroke-width="1.5"/>
<rect x="298.0" y="336.7" width="218.20000000000005" height="82.40000000000003" fill="none" stroke="#0a0a0a" stroke-width="1.5"/>
<line x1="298.00" y1="232.90" x2="298.00" y2="229.90" stroke="#0a0a0a" stroke-width="1.1" />
<line x1="298.00" y1="336.70" x2="298.00" y2="333.70" stroke="#0a0a0a" stroke-width="1.1" />
<line x1="298.00" y1="419.10" x2="298.00" y2="416.10" stroke="#0a0a0a" stroke-width="1.1" />
<line x1="298.00" y1="130.30" x2="298.00" y2="133.30" stroke="#0a0a0a" stroke-width="1.1" />
<line x1="298.00" y1="232.90" x2="298.00" y2="235.90" stroke="#0a0a0a" stroke-width="1.1" />
<line x1="298.00" y1="336.70" x2="298.00" y2="339.70" stroke="#0a0a0a" stroke-width="1.1" />
<text x="298.00" y="431.40" font-size="10.7" fill="#111" text-anchor="middle" font-weight="normal" font-style="normal" >0</text>
<line x1="322.24" y1="232.90" x2="322.24" y2="230.90" stroke="#0a0a0a" stroke-width="1.1" />
<line x1="322.24" y1="336.70" x2="322.24" y2="334.70" stroke="#0a0a0a" stroke-width="1.1" />
<line x1="322.24" y1="419.10" x2="322.24" y2="417.10" stroke="#0a0a0a" stroke-width="1.1" />
<line x1="322.24" y1="130.30" x2="322.24" y2="132.30" stroke="#0a0a0a" stroke-width="1.1" />
<line x1="322.24" y1="232.90" x2="322.24" y2="234.90" stroke="#0a0a0a" stroke-width="1.1" />
<line x1="322.24" y1="336.70" x2="322.24" y2="338.70" stroke="#0a0a0a" stroke-width="1.1" />
<line x1="346.48" y1="232.90" x2="346.48" y2="229.90" stroke="#0a0a0a" stroke-width="1.1" />
<line x1="346.48" y1="336.70" x2="346.48" y2="333.70" stroke="#0a0a0a" stroke-width="1.1" />
<line x1="346.48" y1="419.10" x2="346.48" y2="416.10" stroke="#0a0a0a" stroke-width="1.1" />
<line x1="346.48" y1="130.30" x2="346.48" y2="133.30" stroke="#0a0a0a" stroke-width="1.1" />
<line x1="346.48" y1="232.90" x2="346.48" y2="235.90" stroke="#0a0a0a" stroke-width="1.1" />
<line x1="346.48" y1="336.70" x2="346.48" y2="339.70" stroke="#0a0a0a" stroke-width="1.1" />
<text x="346.48" y="431.40" font-size="10.7" fill="#111" text-anchor="middle" font-weight="normal" font-style="normal" >2</text>
<line x1="370.72" y1="232.90" x2="370.72" y2="230.90" stroke="#0a0a0a" stroke-width="1.1" />
<line x1="370.72" y1="336.70" x2="370.72" y2="334.70" stroke="#0a0a0a" stroke-width="1.1" />
<line x1="370.72" y1="419.10" x2="370.72" y2="417.10" stroke="#0a0a0a" stroke-width="1.1" />
<line x1="370.72" y1="130.30" x2="370.72" y2="132.30" stroke="#0a0a0a" stroke-width="1.1" />
<line x1="370.72" y1="232.90" x2="370.72" y2="234.90" stroke="#0a0a0a" stroke-width="1.1" />
<line x1="370.72" y1="336.70" x2="370.72" y2="338.70" stroke="#0a0a0a" stroke-width="1.1" />
<line x1="394.96" y1="232.90" x2="394.96" y2="229.90" stroke="#0a0a0a" stroke-width="1.1" />
<line x1="394.96" y1="336.70" x2="394.96" y2="333.70" stroke="#0a0a0a" stroke-width="1.1" />
<line x1="394.96" y1="419.10" x2="394.96" y2="416.10" stroke="#0a0a0a" stroke-width="1.1" />
<line x1="394.96" y1="130.30" x2="394.96" y2="133.30" stroke="#0a0a0a" stroke-width="1.1" />
<line x1="394.96" y1="232.90" x2="394.96" y2="235.90" stroke="#0a0a0a" stroke-width="1.1" />
<line x1="394.96" y1="336.70" x2="394.96" y2="339.70" stroke="#0a0a0a" stroke-width="1.1" />
<text x="394.96" y="431.40" font-size="10.7" fill="#111" text-anchor="middle" font-weight="normal" font-style="normal" >4</text>
<line x1="419.20" y1="232.90" x2="419.20" y2="230.90" stroke="#0a0a0a" stroke-width="1.1" />
<line x1="419.20" y1="336.70" x2="419.20" y2="334.70" stroke="#0a0a0a" stroke-width="1.1" />
<line x1="419.20" y1="419.10" x2="419.20" y2="417.10" stroke="#0a0a0a" stroke-width="1.1" />
<line x1="419.20" y1="130.30" x2="419.20" y2="132.30" stroke="#0a0a0a" stroke-width="1.1" />
<line x1="419.20" y1="232.90" x2="419.20" y2="234.90" stroke="#0a0a0a" stroke-width="1.1" />
<line x1="419.20" y1="336.70" x2="419.20" y2="338.70" stroke="#0a0a0a" stroke-width="1.1" />
<line x1="443.44" y1="232.90" x2="443.44" y2="229.90" stroke="#0a0a0a" stroke-width="1.1" />
<line x1="443.44" y1="336.70" x2="443.44" y2="333.70" stroke="#0a0a0a" stroke-width="1.1" />
<line x1="443.44" y1="419.10" x2="443.44" y2="416.10" stroke="#0a0a0a" stroke-width="1.1" />
<line x1="443.44" y1="130.30" x2="443.44" y2="133.30" stroke="#0a0a0a" stroke-width="1.1" />
<line x1="443.44" y1="232.90" x2="443.44" y2="235.90" stroke="#0a0a0a" stroke-width="1.1" />
<line x1="443.44" y1="336.70" x2="443.44" y2="339.70" stroke="#0a0a0a" stroke-width="1.1" />
<text x="443.44" y="431.40" font-size="10.7" fill="#111" text-anchor="middle" font-weight="normal" font-style="normal" >6</text>
<line x1="467.68" y1="232.90" x2="467.68" y2="230.90" stroke="#0a0a0a" stroke-width="1.1" />
<line x1="467.68" y1="336.70" x2="467.68" y2="334.70" stroke="#0a0a0a" stroke-width="1.1" />
<line x1="467.68" y1="419.10" x2="467.68" y2="417.10" stroke="#0a0a0a" stroke-width="1.1" />
<line x1="467.68" y1="130.30" x2="467.68" y2="132.30" stroke="#0a0a0a" stroke-width="1.1" />
<line x1="467.68" y1="232.90" x2="467.68" y2="234.90" stroke="#0a0a0a" stroke-width="1.1" />
<line x1="467.68" y1="336.70" x2="467.68" y2="338.70" stroke="#0a0a0a" stroke-width="1.1" />
<line x1="491.92" y1="232.90" x2="491.92" y2="229.90" stroke="#0a0a0a" stroke-width="1.1" />
<line x1="491.92" y1="336.70" x2="491.92" y2="333.70" stroke="#0a0a0a" stroke-width="1.1" />
<line x1="491.92" y1="419.10" x2="491.92" y2="416.10" stroke="#0a0a0a" stroke-width="1.1" />
<line x1="491.92" y1="130.30" x2="491.92" y2="133.30" stroke="#0a0a0a" stroke-width="1.1" />
<line x1="491.92" y1="232.90" x2="491.92" y2="235.90" stroke="#0a0a0a" stroke-width="1.1" />
<line x1="491.92" y1="336.70" x2="491.92" y2="339.70" stroke="#0a0a0a" stroke-width="1.1" />
<text x="491.92" y="431.40" font-size="10.7" fill="#111" text-anchor="middle" font-weight="normal" font-style="normal" >8</text>
<line x1="298.00" y1="232.90" x2="301.00" y2="232.90" stroke="#0a0a0a" stroke-width="1.1" />
<line x1="516.20" y1="232.90" x2="513.20" y2="232.90" stroke="#0a0a0a" stroke-width="1.1" />
<text x="294.20" y="236.70" font-size="10.7" fill="#111" text-anchor="end" font-weight="normal" font-style="normal" >0</text>
<line x1="298.00" y1="204.88" x2="301.00" y2="204.88" stroke="#0a0a0a" stroke-width="1.1" />
<line x1="516.20" y1="204.88" x2="513.20" y2="204.88" stroke="#0a0a0a" stroke-width="1.1" />
<text x="294.20" y="208.68" font-size="10.7" fill="#111" text-anchor="end" font-weight="normal" font-style="normal" >30</text>
<line x1="298.00" y1="176.86" x2="301.00" y2="176.86" stroke="#0a0a0a" stroke-width="1.1" />
<line x1="516.20" y1="176.86" x2="513.20" y2="176.86" stroke="#0a0a0a" stroke-width="1.1" />
<text x="294.20" y="180.66" font-size="10.7" fill="#111" text-anchor="end" font-weight="normal" font-style="normal" >60</text>
<line x1="298.00" y1="148.84" x2="301.00" y2="148.84" stroke="#0a0a0a" stroke-width="1.1" />
<line x1="516.20" y1="148.84" x2="513.20" y2="148.84" stroke="#0a0a0a" stroke-width="1.1" />
<text x="294.20" y="152.64" font-size="10.7" fill="#111" text-anchor="end" font-weight="normal" font-style="normal" >90</text>
<line x1="298.00" y1="336.70" x2="301.00" y2="336.70" stroke="#0a0a0a" stroke-width="1.1" />
<line x1="516.20" y1="336.70" x2="513.20" y2="336.70" stroke="#0a0a0a" stroke-width="1.1" />
<text x="294.20" y="340.10" font-size="10.7" fill="#111" text-anchor="end" font-weight="normal" font-style="normal" >0</text>
<line x1="298.00" y1="315.20" x2="300.00" y2="315.20" stroke="#0a0a0a" stroke-width="1.1" />
<line x1="516.20" y1="315.20" x2="514.20" y2="315.20" stroke="#0a0a0a" stroke-width="1.1" />
<line x1="298.00" y1="293.70" x2="301.00" y2="293.70" stroke="#0a0a0a" stroke-width="1.1" />
<line x1="516.20" y1="293.70" x2="513.20" y2="293.70" stroke="#0a0a0a" stroke-width="1.1" />
<text x="294.20" y="297.10" font-size="10.7" fill="#111" text-anchor="end" font-weight="normal" font-style="normal" >5</text>
<line x1="298.00" y1="272.20" x2="300.00" y2="272.20" stroke="#0a0a0a" stroke-width="1.1" />
<line x1="516.20" y1="272.20" x2="514.20" y2="272.20" stroke="#0a0a0a" stroke-width="1.1" />
<line x1="298.00" y1="250.70" x2="301.00" y2="250.70" stroke="#0a0a0a" stroke-width="1.1" />
<line x1="516.20" y1="250.70" x2="513.20" y2="250.70" stroke="#0a0a0a" stroke-width="1.1" />
<text x="294.20" y="254.10" font-size="10.7" fill="#111" text-anchor="end" font-weight="normal" font-style="normal" >10</text>
<line x1="298.00" y1="418.35" x2="301.00" y2="418.35" stroke="#0a0a0a" stroke-width="1.1" />
<line x1="516.20" y1="418.35" x2="513.20" y2="418.35" stroke="#0a0a0a" stroke-width="1.1" />
<text x="294.20" y="422.15" font-size="10.7" fill="#111" text-anchor="end" font-weight="normal" font-style="normal" >0</text>
<line x1="298.00" y1="404.80" x2="300.00" y2="404.80" stroke="#0a0a0a" stroke-width="1.1" />
<line x1="516.20" y1="404.80" x2="514.20" y2="404.80" stroke="#0a0a0a" stroke-width="1.1" />
<line x1="298.00" y1="391.25" x2="301.00" y2="391.25" stroke="#0a0a0a" stroke-width="1.1" />
<line x1="516.20" y1="391.25" x2="513.20" y2="391.25" stroke="#0a0a0a" stroke-width="1.1" />
<text x="294.20" y="395.05" font-size="10.7" fill="#111" text-anchor="end" font-weight="normal" font-style="normal" >2</text>
<line x1="298.00" y1="377.70" x2="300.00" y2="377.70" stroke="#0a0a0a" stroke-width="1.1" />
<line x1="516.20" y1="377.70" x2="514.20" y2="377.70" stroke="#0a0a0a" stroke-width="1.1" />
<line x1="298.00" y1="364.15" x2="301.00" y2="364.15" stroke="#0a0a0a" stroke-width="1.1" />
<line x1="516.20" y1="364.15" x2="513.20" y2="364.15" stroke="#0a0a0a" stroke-width="1.1" />
<text x="294.20" y="367.95" font-size="10.7" fill="#111" text-anchor="end" font-weight="normal" font-style="normal" >4</text>
<line x1="298.00" y1="350.60" x2="300.00" y2="350.60" stroke="#0a0a0a" stroke-width="1.1" />
<line x1="516.20" y1="350.60" x2="514.20" y2="350.60" stroke="#0a0a0a" stroke-width="1.1" />
<line x1="298.00" y1="337.05" x2="301.00" y2="337.05" stroke="#0a0a0a" stroke-width="1.1" />
<line x1="516.20" y1="337.05" x2="513.20" y2="337.05" stroke="#0a0a0a" stroke-width="1.1" />
<text x="407.0" y="444.2" font-size="11.6" fill="#111" text-anchor="middle"><tspan font-style="italic">P</tspan> (GPa)</text>
<text transform="translate(275.60,175.60) rotate(-90)" font-size="13" fill="#111" text-anchor="middle" font-weight="normal" font-style="normal" word-spacing="2"><tspan font-style="italic">T</tspan> (K)</text>
<text transform="translate(277.00,286.00) rotate(-90)" font-size="13" fill="#111" text-anchor="middle" font-weight="normal" font-style="normal" word-spacing="1.5"><tspan font-style="italic">T</tspan><tspan font-size="8" dy="2" font-style="italic">c</tspan><tspan dy="-2"> (K)</tspan></text>
<text transform="translate(277.00,379.40) rotate(-90)" font-size="12.6" fill="#111" text-anchor="middle" font-weight="normal" font-style="normal" word-spacing="1.5"><tspan font-style="italic">μ</tspan><tspan font-size="9" dy="2" font-style="italic">0</tspan><tspan dy="-2" font-style="italic">H</tspan><tspan font-size="9" dy="2" font-style="italic">C2</tspan><tspan dy="-2" font-style="italic">(0)</tspan> (T)</text>
</g>
</svg>
</body></html>
